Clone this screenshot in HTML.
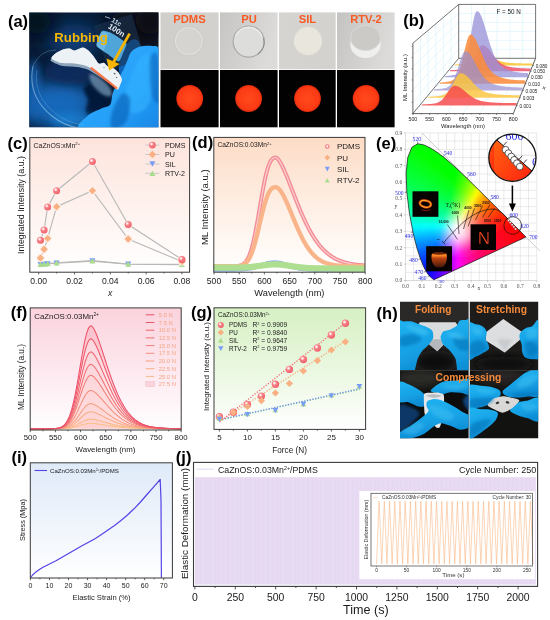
<!DOCTYPE html>
<html lang="en"><head><meta charset="utf-8"><title>Figure</title>
<style>
html,body{margin:0;padding:0;background:#fff;}
body{width:550px;height:620px;overflow:hidden;}
svg{display:block;font-family:"Liberation Sans",sans-serif;}
</style></head><body>
<svg width="550" height="620" viewBox="0 0 550 620">
<defs><linearGradient id="gc" x1="0" y1="0" x2="0" y2="1"><stop offset="0" stop-color="#fde3dc"/><stop offset="0.55" stop-color="#fef3ef"/><stop offset="1" stop-color="#ffffff"/></linearGradient><linearGradient id="gd" x1="0" y1="0" x2="0" y2="1"><stop offset="0" stop-color="#fddcc6"/><stop offset="0.55" stop-color="#fef0e6"/><stop offset="1" stop-color="#ffffff"/></linearGradient><linearGradient id="gf" x1="0" y1="0" x2="0" y2="1"><stop offset="0" stop-color="#fbd3dd"/><stop offset="0.55" stop-color="#fdeaf0"/><stop offset="1" stop-color="#ffffff"/></linearGradient><linearGradient id="gg" x1="0" y1="0" x2="0" y2="1"><stop offset="0" stop-color="#d6f0c3"/><stop offset="0.55" stop-color="#ecf8e3"/><stop offset="1" stop-color="#ffffff"/></linearGradient><linearGradient id="gi" x1="0" y1="0" x2="0" y2="1"><stop offset="0" stop-color="#dfeaf9"/><stop offset="0.55" stop-color="#f0f5fc"/><stop offset="1" stop-color="#ffffff"/></linearGradient><radialGradient id="sp" cx="0.37" cy="0.34" r="0.7"><stop offset="0" stop-color="#ffffff"/><stop offset="0.16" stop-color="#fde0e0"/><stop offset="0.38" stop-color="#f7838a"/><stop offset="1" stop-color="#f15c66"/></radialGradient><clipPath id="ca"><rect x="29.2" y="12.4" width="129.2" height="114.9"/></clipPath><filter id="b1" x="-10%" y="-10%" width="120%" height="120%"><feGaussianBlur stdDeviation="0.7"/></filter><filter id="b2" x="-20%" y="-20%" width="140%" height="140%"><feGaussianBlur stdDeviation="1.6"/></filter><filter id="b4" x="-30%" y="-30%" width="160%" height="160%"><feGaussianBlur stdDeviation="4"/></filter><filter id="b8" x="-40%" y="-40%" width="180%" height="180%"><feGaussianBlur stdDeviation="9"/></filter><linearGradient id="glv" x1="0" y1="0" x2="1" y2="1"><stop offset="0" stop-color="#36aeff"/><stop offset="0.6" stop-color="#249ff8"/><stop offset="1" stop-color="#1680e2"/></linearGradient><radialGradient id="redc" cx="0.5" cy="0.5" r="0.5"><stop offset="0" stop-color="#ff4a1c"/><stop offset="0.85" stop-color="#fb3a14"/><stop offset="1" stop-color="#e02a0c"/></radialGradient><linearGradient id="tg0" x1="0" y1="0" x2="1" y2="0.3"><stop offset="0" stop-color="#d0cecb"/><stop offset="1" stop-color="#d3d1ce"/></linearGradient><linearGradient id="tg1" x1="0" y1="0" x2="1" y2="0.3"><stop offset="0" stop-color="#c6c5c3"/><stop offset="1" stop-color="#dcdbd9"/></linearGradient><linearGradient id="tg2" x1="0" y1="0" x2="1" y2="0.3"><stop offset="0" stop-color="#d6d4d1"/><stop offset="1" stop-color="#d3d2cf"/></linearGradient><linearGradient id="tg3" x1="0" y1="0" x2="1" y2="0.3"><stop offset="0" stop-color="#c4c3c1"/><stop offset="1" stop-color="#dcdbd9"/></linearGradient><linearGradient id="hg" x1="0" y1="0" x2="0.3" y2="1"><stop offset="0" stop-color="#20b4f2"/><stop offset="0.6" stop-color="#16a2e6"/><stop offset="1" stop-color="#0e8cd4"/></linearGradient><clipPath id="ch0"><rect x="400" y="301.8" width="68.6" height="68.5"/></clipPath><clipPath id="ch1"><rect x="469.6" y="301.8" width="68.6" height="68.5"/></clipPath><clipPath id="ch2"><rect x="400" y="370.3" width="68.6" height="67.9"/></clipPath><clipPath id="ch3"><rect x="469.6" y="370.3" width="68.6" height="67.9"/></clipPath><clipPath id="c3d"><rect x="405" y="0" width="140" height="114"/></clipPath><clipPath id="cieclip"><path d="M434.05 279.68 L433.92 279.71 L433.61 279.66 L432.46 278.71 L431.18 277.6 L429.12 275.63 L425.85 271.02 L423.47 266.26 L420.47 258.74 L416.77 247.59 L412.95 232.12 L409.35 212.82 L406.84 192.2 L406.14 173.11 L407.78 157.47 L411.88 147.33 L417.69 143.76 L424.23 145 L430.87 148.33 L437.14 152.32 L443.15 156.79 L449.09 161.71 L454.96 166.96 L460.82 172.44 L466.69 178.08 L472.53 183.81 L478.33 189.53 L484.02 195.19 L489.55 200.7 L494.85 205.98 L499.83 210.93 L504.38 215.47 L508.33 219.41 L511.8 222.87 L514.69 225.72 L518.91 229.94 L521.6 232.61 L523.42 234.43 L524.56 235.56 L525.22 236.22 L525.78 236.78 L525.99 236.99Z"/></clipPath><filter id="cieblur" x="-5%" y="-5%" width="110%" height="110%"><feGaussianBlur stdDeviation="1.3"/></filter><clipPath id="magclip"><circle cx="512.4" cy="157.7" r="23.4"/></clipPath><radialGradient id="ringg" cx="0.5" cy="0.5" r="0.5"><stop offset="0" stop-color="#ff5a10" stop-opacity="0.0"/><stop offset="0.55" stop-color="#ff5a10" stop-opacity="0.0"/><stop offset="0.8" stop-color="#ffb030"/><stop offset="1" stop-color="#e03000" stop-opacity="0"/></radialGradient><linearGradient id="jarg" x1="0" y1="0" x2="0" y2="1"><stop offset="0" stop-color="#c8480c"/><stop offset="0.2" stop-color="#ff8c28"/><stop offset="0.4" stop-color="#b84210"/><stop offset="1" stop-color="#40160a"/></linearGradient><linearGradient id="magg" x1="0" y1="0" x2="1" y2="1"><stop offset="0" stop-color="#ff7a10"/><stop offset="1" stop-color="#ff1a10"/></linearGradient></defs>
<rect width="550" height="620" fill="#ffffff"/>
<g id="c"><rect x="29.8" y="137.6" width="159.8" height="134.6" fill="url(#gc)" />
<path d="M40.49 264.3 L44.07 264 L47.65 263.6 L56.6 262.8 L92.4 260.6 L128.2 264 L181.9 264.4" fill="none" stroke="#b8b8b8" stroke-width="1.1"/>
<path d="M40.49 264.6 L44.07 264.3 L47.65 263.9 L56.6 263.1 L92.4 261.2 L128.2 264.3 L181.9 264.6" fill="none" stroke="#b8b8b8" stroke-width="1.1"/>
<path d="M40.49 258 L44.07 249.3 L47.65 238.4 L56.6 206.7 L92.4 190.7 L128.2 239 L181.9 261.6" fill="none" stroke="#b8b8b8" stroke-width="1.1"/>
<path d="M40.49 240.2 L44.07 230 L47.65 207 L56.6 190.7 L92.4 161.6 L128.2 224.5 L181.9 259.5" fill="none" stroke="#b8b8b8" stroke-width="1.1"/>
<path d="M40.49 267.5 L43.53 261.9 L37.45 261.9Z" fill="#7b9cf5"/>
<path d="M44.07 267.2 L47.11 261.6 L41.03 261.6Z" fill="#7b9cf5"/>
<path d="M47.65 266.8 L50.69 261.2 L44.61 261.2Z" fill="#7b9cf5"/>
<path d="M56.6 266 L59.64 260.4 L53.56 260.4Z" fill="#7b9cf5"/>
<path d="M92.4 263.8 L95.44 258.2 L89.36 258.2Z" fill="#7b9cf5"/>
<path d="M128.2 267.2 L131.24 261.6 L125.16 261.6Z" fill="#7b9cf5"/>
<path d="M181.9 267.6 L184.94 262 L178.86 262Z" fill="#7b9cf5"/>
<path d="M40.49 261.4 L43.53 267 L37.45 267Z" fill="#a9dc8c"/>
<path d="M44.07 261.1 L47.11 266.7 L41.03 266.7Z" fill="#a9dc8c"/>
<path d="M47.65 260.7 L50.69 266.3 L44.61 266.3Z" fill="#a9dc8c"/>
<path d="M56.6 259.9 L59.64 265.5 L53.56 265.5Z" fill="#a9dc8c"/>
<path d="M92.4 258 L95.44 263.6 L89.36 263.6Z" fill="#a9dc8c"/>
<path d="M128.2 261.1 L131.24 266.7 L125.16 266.7Z" fill="#a9dc8c"/>
<path d="M181.9 261.4 L184.94 267 L178.86 267Z" fill="#a9dc8c"/>
<circle cx="40.49" cy="258" r="4.2" fill="#fef1ec"/>
<circle cx="44.07" cy="249.3" r="4.2" fill="#fef1ec"/>
<circle cx="47.65" cy="238.4" r="4.2" fill="#fef1ec"/>
<circle cx="56.6" cy="206.7" r="4.2" fill="#fef1ec"/>
<circle cx="92.4" cy="190.7" r="4.2" fill="#fef1ec"/>
<circle cx="128.2" cy="239" r="4.2" fill="#fef1ec"/>
<circle cx="181.9" cy="261.6" r="4.2" fill="#fef1ec"/>
<circle cx="40.49" cy="240.2" r="4.3" fill="#fef1ec"/>
<circle cx="44.07" cy="230" r="4.3" fill="#fef1ec"/>
<circle cx="47.65" cy="207" r="4.3" fill="#fef1ec"/>
<circle cx="56.6" cy="190.7" r="4.3" fill="#fef1ec"/>
<circle cx="92.4" cy="161.6" r="4.3" fill="#fef1ec"/>
<circle cx="128.2" cy="224.5" r="4.3" fill="#fef1ec"/>
<circle cx="181.9" cy="259.5" r="4.3" fill="#fef1ec"/>
<path d="M40.49 254.3 L44.19 258 L40.49 261.7 L36.79 258Z" fill="#f9b083"/>
<path d="M44.07 245.6 L47.77 249.3 L44.07 253 L40.37 249.3Z" fill="#f9b083"/>
<path d="M47.65 234.7 L51.35 238.4 L47.65 242.1 L43.95 238.4Z" fill="#f9b083"/>
<path d="M56.6 203 L60.3 206.7 L56.6 210.4 L52.9 206.7Z" fill="#f9b083"/>
<path d="M92.4 187 L96.1 190.7 L92.4 194.4 L88.7 190.7Z" fill="#f9b083"/>
<path d="M128.2 235.3 L131.9 239 L128.2 242.7 L124.5 239Z" fill="#f9b083"/>
<path d="M181.9 257.9 L185.6 261.6 L181.9 265.3 L178.2 261.6Z" fill="#f9b083"/>
<circle cx="40.49" cy="240.2" r="3.5" fill="url(#sp)"/>
<circle cx="44.07" cy="230" r="3.5" fill="url(#sp)"/>
<circle cx="47.65" cy="207" r="3.5" fill="url(#sp)"/>
<circle cx="56.6" cy="190.7" r="3.5" fill="url(#sp)"/>
<circle cx="92.4" cy="161.6" r="3.5" fill="url(#sp)"/>
<circle cx="128.2" cy="224.5" r="3.5" fill="url(#sp)"/>
<circle cx="181.9" cy="259.5" r="3.5" fill="url(#sp)"/>
<rect x="29.8" y="137.6" width="159.8" height="134.6" fill="none" stroke="#3a3a3a" stroke-width="1" />
<line x1="38.7" y1="272.2" x2="38.7" y2="274.4" stroke="#3a3a3a" stroke-width="0.8" />
<line x1="56.6" y1="272.2" x2="56.6" y2="273.5" stroke="#3a3a3a" stroke-width="0.8" />
<line x1="74.5" y1="272.2" x2="74.5" y2="274.4" stroke="#3a3a3a" stroke-width="0.8" />
<line x1="92.4" y1="272.2" x2="92.4" y2="273.5" stroke="#3a3a3a" stroke-width="0.8" />
<line x1="110.3" y1="272.2" x2="110.3" y2="274.4" stroke="#3a3a3a" stroke-width="0.8" />
<line x1="128.2" y1="272.2" x2="128.2" y2="273.5" stroke="#3a3a3a" stroke-width="0.8" />
<line x1="146.1" y1="272.2" x2="146.1" y2="274.4" stroke="#3a3a3a" stroke-width="0.8" />
<line x1="164" y1="272.2" x2="164" y2="273.5" stroke="#3a3a3a" stroke-width="0.8" />
<line x1="181.9" y1="272.2" x2="181.9" y2="274.4" stroke="#3a3a3a" stroke-width="0.8" />
<text x="38.7" y="284.3" font-size="8.6" fill="#1a1a1a" text-anchor="middle" >0.00</text>
<text x="74.5" y="284.3" font-size="8.6" fill="#1a1a1a" text-anchor="middle" >0.02</text>
<text x="110.3" y="284.3" font-size="8.6" fill="#1a1a1a" text-anchor="middle" >0.04</text>
<text x="146.1" y="284.3" font-size="8.6" fill="#1a1a1a" text-anchor="middle" >0.06</text>
<text x="181.9" y="284.3" font-size="8.6" fill="#1a1a1a" text-anchor="middle" >0.08</text>
<text x="110.2" y="295.8" font-size="8.6" fill="#1a1a1a" text-anchor="middle" font-style="italic" >x</text>
<text font-size="8.8" fill="#1a1a1a" text-anchor="middle" transform="translate(23.6 205) rotate(-90)" >Integrated Intensity (a.u.)</text>
<text x="33.6" y="147.8" font-size="6.9" fill="#1a1a1a" >CaZnOS:xMn<tspan dy="-2.4" font-size="4.2">2+</tspan><tspan dy="2.4" font-size="0.1">&#8203;</tspan></text>
<line x1="145.4" y1="145.1" x2="159.4" y2="145.1" stroke="#c4c4c4" stroke-width="0.9" />
<line x1="145.4" y1="154.5" x2="159.4" y2="154.5" stroke="#c4c4c4" stroke-width="0.9" />
<line x1="145.4" y1="164" x2="159.4" y2="164" stroke="#c4c4c4" stroke-width="0.9" />
<line x1="145.4" y1="173.3" x2="159.4" y2="173.3" stroke="#c4c4c4" stroke-width="0.9" />
<circle cx="152.4" cy="145.1" r="3.4" fill="url(#sp)"/>
<path d="M152.4 150.8 L156.1 154.5 L152.4 158.2 L148.7 154.5Z" fill="#f9b083"/>
<path d="M152.4 166.8 L155.44 161.2 L149.36 161.2Z" fill="#7b9cf5"/>
<path d="M152.4 170.5 L155.44 176.1 L149.36 176.1Z" fill="#a9dc8c"/>
<text x="165" y="147.7" font-size="7.1" fill="#1a1a1a" >PDMS</text>
<text x="165" y="157.1" font-size="7.1" fill="#1a1a1a" >PU</text>
<text x="165" y="166.6" font-size="7.1" fill="#1a1a1a" >SIL</text>
<text x="165" y="175.9" font-size="7.1" fill="#1a1a1a" >RTV-2</text>
<text x="7.5" y="148.8" font-size="16.5" fill="#000" font-weight="bold" >(c)</text></g>
<g id="d"><rect x="213.8" y="137.4" width="151.2" height="134.8" fill="url(#gd)" />
<clipPath id="cd"><rect x="213.8" y="137.4" width="151.2" height="134.8"/></clipPath>
<g clip-path="url(#cd)">
<path d="M214 266.2 L215.01 266.2 L216.02 266.2 L217.02 266.2 L218.03 266.2 L219.04 266.2 L220.05 266.2 L221.06 266.2 L222.06 266.2 L223.07 266.2 L224.08 266.2 L225.09 266.2 L226.1 266.2 L227.1 266.2 L228.11 266.2 L229.12 266.2 L230.13 266.19 L231.14 266.19 L232.14 266.18 L233.15 266.17 L234.16 266.15 L235.17 266.11 L236.18 266.06 L237.18 265.99 L238.19 265.88 L239.2 265.72 L240.21 265.49 L241.22 265.17 L242.22 264.74 L243.23 264.17 L244.24 263.41 L245.25 262.44 L246.26 261.2 L247.26 259.66 L248.27 257.77 L249.28 255.49 L250.29 252.8 L251.3 249.66 L252.3 246.06 L253.31 242.01 L254.32 237.51 L255.33 232.61 L256.34 227.34 L257.34 221.78 L258.35 215.99 L259.36 210.08 L260.37 204.12 L261.38 198.24 L262.38 192.51 L263.39 187.05 L264.4 181.92 L265.41 177.22 L266.42 172.99 L267.42 169.28 L268.43 166.12 L269.44 163.51 L270.45 161.43 L271.46 159.87 L272.46 158.77 L273.47 158.08 L274.48 157.72 L275.49 157.61 L276.5 157.78 L277.5 158.57 L278.51 159.74 L279.52 161.18 L280.53 162.84 L281.54 164.69 L282.54 166.7 L283.55 168.84 L284.56 171.09 L285.57 173.43 L286.58 175.85 L287.58 178.33 L288.59 180.86 L289.6 183.43 L290.61 186.02 L291.62 188.63 L292.62 191.24 L293.63 193.84 L294.64 196.44 L295.65 199.02 L296.66 201.57 L297.66 204.09 L298.67 206.57 L299.68 209.01 L300.69 211.41 L301.7 213.75 L302.7 216.05 L303.71 218.28 L304.72 220.46 L305.73 222.59 L306.74 224.65 L307.74 226.64 L308.75 228.58 L309.76 230.45 L310.77 232.25 L311.78 233.99 L312.78 235.67 L313.79 237.28 L314.8 238.83 L315.81 240.32 L316.82 241.75 L317.82 243.11 L318.83 244.42 L319.84 245.67 L320.85 246.86 L321.86 247.99 L322.86 249.07 L323.87 250.1 L324.88 251.08 L325.89 252.01 L326.9 252.89 L327.9 253.72 L328.91 254.51 L329.92 255.26 L330.93 255.97 L331.94 256.64 L332.94 257.27 L333.95 257.86 L334.96 258.42 L335.97 258.95 L336.98 259.44 L337.98 259.91 L338.99 260.35 L340 260.76 L341.01 261.14 L342.02 261.5 L343.02 261.84 L344.03 262.16 L345.04 262.45 L346.05 262.73 L347.06 262.99 L348.06 263.23 L349.07 263.45 L350.08 263.66 L351.09 263.85 L352.1 264.03 L353.1 264.2 L354.11 264.36 L355.12 264.5 L356.13 264.64 L357.14 264.76 L358.14 264.88 L359.15 264.98 L360.16 265.08 L361.17 265.17 L362.18 265.26 L363.18 265.34 L364.19 265.41 L365.2 265.47" fill="none" stroke="#f38c94" stroke-width="4" stroke-linejoin="round" stroke-linecap="round"/><path d="M214 266.2 L215.01 266.2 L216.02 266.2 L217.02 266.2 L218.03 266.2 L219.04 266.2 L220.05 266.2 L221.06 266.2 L222.06 266.2 L223.07 266.2 L224.08 266.2 L225.09 266.2 L226.1 266.2 L227.1 266.2 L228.11 266.2 L229.12 266.2 L230.13 266.19 L231.14 266.19 L232.14 266.18 L233.15 266.17 L234.16 266.15 L235.17 266.11 L236.18 266.06 L237.18 265.99 L238.19 265.88 L239.2 265.72 L240.21 265.49 L241.22 265.17 L242.22 264.74 L243.23 264.17 L244.24 263.41 L245.25 262.44 L246.26 261.2 L247.26 259.66 L248.27 257.77 L249.28 255.49 L250.29 252.8 L251.3 249.66 L252.3 246.06 L253.31 242.01 L254.32 237.51 L255.33 232.61 L256.34 227.34 L257.34 221.78 L258.35 215.99 L259.36 210.08 L260.37 204.12 L261.38 198.24 L262.38 192.51 L263.39 187.05 L264.4 181.92 L265.41 177.22 L266.42 172.99 L267.42 169.28 L268.43 166.12 L269.44 163.51 L270.45 161.43 L271.46 159.87 L272.46 158.77 L273.47 158.08 L274.48 157.72 L275.49 157.61 L276.5 157.78 L277.5 158.57 L278.51 159.74 L279.52 161.18 L280.53 162.84 L281.54 164.69 L282.54 166.7 L283.55 168.84 L284.56 171.09 L285.57 173.43 L286.58 175.85 L287.58 178.33 L288.59 180.86 L289.6 183.43 L290.61 186.02 L291.62 188.63 L292.62 191.24 L293.63 193.84 L294.64 196.44 L295.65 199.02 L296.66 201.57 L297.66 204.09 L298.67 206.57 L299.68 209.01 L300.69 211.41 L301.7 213.75 L302.7 216.05 L303.71 218.28 L304.72 220.46 L305.73 222.59 L306.74 224.65 L307.74 226.64 L308.75 228.58 L309.76 230.45 L310.77 232.25 L311.78 233.99 L312.78 235.67 L313.79 237.28 L314.8 238.83 L315.81 240.32 L316.82 241.75 L317.82 243.11 L318.83 244.42 L319.84 245.67 L320.85 246.86 L321.86 247.99 L322.86 249.07 L323.87 250.1 L324.88 251.08 L325.89 252.01 L326.9 252.89 L327.9 253.72 L328.91 254.51 L329.92 255.26 L330.93 255.97 L331.94 256.64 L332.94 257.27 L333.95 257.86 L334.96 258.42 L335.97 258.95 L336.98 259.44 L337.98 259.91 L338.99 260.35 L340 260.76 L341.01 261.14 L342.02 261.5 L343.02 261.84 L344.03 262.16 L345.04 262.45 L346.05 262.73 L347.06 262.99 L348.06 263.23 L349.07 263.45 L350.08 263.66 L351.09 263.85 L352.1 264.03 L353.1 264.2 L354.11 264.36 L355.12 264.5 L356.13 264.64 L357.14 264.76 L358.14 264.88 L359.15 264.98 L360.16 265.08 L361.17 265.17 L362.18 265.26 L363.18 265.34 L364.19 265.41 L365.2 265.47" fill="none" stroke="#ffffff" stroke-width="1.3" stroke-linejoin="round" stroke-opacity="0.55"/>
<path d="M214 266.2 L215.01 266.2 L216.02 266.2 L217.02 266.2 L218.03 266.2 L219.04 266.2 L220.05 266.2 L221.06 266.2 L222.06 266.2 L223.07 266.2 L224.08 266.2 L225.09 266.2 L226.1 266.2 L227.1 266.2 L228.11 266.2 L229.12 266.2 L230.13 266.2 L231.14 266.19 L232.14 266.19 L233.15 266.18 L234.16 266.16 L235.17 266.14 L236.18 266.1 L237.18 266.04 L238.19 265.96 L239.2 265.85 L240.21 265.68 L241.22 265.45 L242.22 265.14 L243.23 264.72 L244.24 264.17 L245.25 263.46 L246.26 262.56 L247.26 261.44 L248.27 260.07 L249.28 258.41 L250.29 256.45 L251.3 254.17 L252.3 251.55 L253.31 248.6 L254.32 245.33 L255.33 241.76 L256.34 237.93 L257.34 233.88 L258.35 229.68 L259.36 225.37 L260.37 221.04 L261.38 216.76 L262.38 212.6 L263.39 208.62 L264.4 204.89 L265.41 201.47 L266.42 198.4 L267.42 195.7 L268.43 193.4 L269.44 191.5 L270.45 189.99 L271.46 188.85 L272.46 188.05 L273.47 187.55 L274.48 187.29 L275.49 187.2 L276.5 187.28 L277.5 187.74 L278.51 188.51 L279.52 189.55 L280.53 190.83 L281.54 192.32 L282.54 193.99 L283.55 195.83 L284.56 197.8 L285.57 199.9 L286.58 202.1 L287.58 204.39 L288.59 206.74 L289.6 209.14 L290.61 211.58 L291.62 214.03 L292.62 216.49 L293.63 218.94 L294.64 221.37 L295.65 223.77 L296.66 226.13 L297.66 228.43 L298.67 230.69 L299.68 232.87 L300.69 234.99 L301.7 237.04 L302.7 239 L303.71 240.89 L304.72 242.69 L305.73 244.41 L306.74 246.04 L307.74 247.59 L308.75 249.05 L309.76 250.42 L310.77 251.72 L311.78 252.93 L312.78 254.07 L313.79 255.12 L314.8 256.11 L315.81 257.02 L316.82 257.87 L317.82 258.65 L318.83 259.37 L319.84 260.04 L320.85 260.65 L321.86 261.21 L322.86 261.72 L323.87 262.18 L324.88 262.6 L325.89 262.99 L326.9 263.34 L327.9 263.65 L328.91 263.94 L329.92 264.19 L330.93 264.42 L331.94 264.63 L332.94 264.81 L333.95 264.98 L334.96 265.13 L335.97 265.26 L336.98 265.37 L337.98 265.48 L338.99 265.57 L340 265.65 L341.01 265.72 L342.02 265.78 L343.02 265.84 L344.03 265.89 L345.04 265.93 L346.05 265.97 L347.06 266 L348.06 266.03 L349.07 266.05 L350.08 266.07 L351.09 266.09 L352.1 266.11 L353.1 266.12 L354.11 266.13 L355.12 266.14 L356.13 266.15 L357.14 266.16 L358.14 266.16 L359.15 266.17 L360.16 266.17 L361.17 266.18 L362.18 266.18 L363.18 266.18 L364.19 266.19 L365.2 266.19" fill="none" stroke="#f9b48a" stroke-width="4.3" stroke-linejoin="round" stroke-linecap="round"/>
<path d="M214 269.4 L215.01 269.4 L216.02 269.4 L217.02 269.4 L218.03 269.4 L219.04 269.4 L220.05 269.4 L221.06 269.4 L222.06 269.4 L223.07 269.4 L224.08 269.4 L225.09 269.4 L226.1 269.39 L227.1 269.39 L228.11 269.39 L229.12 269.39 L230.13 269.38 L231.14 269.38 L232.14 269.37 L233.15 269.36 L234.16 269.35 L235.17 269.34 L236.18 269.32 L237.18 269.3 L238.19 269.28 L239.2 269.24 L240.21 269.21 L241.22 269.16 L242.22 269.11 L243.23 269.05 L244.24 268.98 L245.25 268.89 L246.26 268.8 L247.26 268.68 L248.27 268.56 L249.28 268.41 L250.29 268.25 L251.3 268.07 L252.3 267.87 L253.31 267.66 L254.32 267.42 L255.33 267.17 L256.34 266.9 L257.34 266.61 L258.35 266.31 L259.36 266 L260.37 265.69 L261.38 265.36 L262.38 265.04 L263.39 264.72 L264.4 264.41 L265.41 264.1 L266.42 263.82 L267.42 263.55 L268.43 263.32 L269.44 263.1 L270.45 262.93 L271.46 262.79 L272.46 262.68 L273.47 262.62 L274.48 262.6 L275.49 262.62 L276.5 262.68 L277.5 262.79 L278.51 262.93 L279.52 263.1 L280.53 263.32 L281.54 263.55 L282.54 263.82 L283.55 264.1 L284.56 264.41 L285.57 264.72 L286.58 265.04 L287.58 265.36 L288.59 265.69 L289.6 266 L290.61 266.31 L291.62 266.61 L292.62 266.9 L293.63 267.17 L294.64 267.42 L295.65 267.66 L296.66 267.87 L297.66 268.07 L298.67 268.25 L299.68 268.41 L300.69 268.56 L301.7 268.68 L302.7 268.8 L303.71 268.89 L304.72 268.98 L305.73 269.05 L306.74 269.11 L307.74 269.16 L308.75 269.21 L309.76 269.24 L310.77 269.28 L311.78 269.3 L312.78 269.32 L313.79 269.34 L314.8 269.35 L315.81 269.36 L316.82 269.37 L317.82 269.38 L318.83 269.38 L319.84 269.39 L320.85 269.39 L321.86 269.39 L322.86 269.39 L323.87 269.4 L324.88 269.4 L325.89 269.4 L326.9 269.4 L327.9 269.4 L328.91 269.4 L329.92 269.4 L330.93 269.4 L331.94 269.4 L332.94 269.4 L333.95 269.4 L334.96 269.4 L335.97 269.4 L336.98 269.4 L337.98 269.4 L338.99 269.4 L340 269.4 L341.01 269.4 L342.02 269.4 L343.02 269.4 L344.03 269.4 L345.04 269.4 L346.05 269.4 L347.06 269.4 L348.06 269.4 L349.07 269.4 L350.08 269.4 L351.09 269.4 L352.1 269.4 L353.1 269.4 L354.11 269.4 L355.12 269.4 L356.13 269.4 L357.14 269.4 L358.14 269.4 L359.15 269.4 L360.16 269.4 L361.17 269.4 L362.18 269.4 L363.18 269.4 L364.19 269.4 L365.2 269.4" fill="none" stroke="#8fb0f0" stroke-width="4.6" stroke-linejoin="round" stroke-linecap="round"/>
<path d="M214 267.6 L215.01 267.61 L216.02 267.61 L217.02 267.62 L218.03 267.63 L219.04 267.64 L220.05 267.64 L221.06 267.65 L222.06 267.66 L223.07 267.66 L224.08 267.67 L225.09 267.68 L226.1 267.68 L227.1 267.68 L228.11 267.69 L229.12 267.69 L230.13 267.69 L231.14 267.69 L232.14 267.69 L233.15 267.68 L234.16 267.68 L235.17 267.67 L236.18 267.66 L237.18 267.64 L238.19 267.63 L239.2 267.6 L240.21 267.58 L241.22 267.55 L242.22 267.51 L243.23 267.47 L244.24 267.42 L245.25 267.37 L246.26 267.31 L247.26 267.24 L248.27 267.16 L249.28 267.08 L250.29 266.99 L251.3 266.89 L252.3 266.79 L253.31 266.68 L254.32 266.56 L255.33 266.43 L256.34 266.3 L257.34 266.17 L258.35 266.03 L259.36 265.89 L260.37 265.75 L261.38 265.6 L262.38 265.46 L263.39 265.32 L264.4 265.19 L265.41 265.06 L266.42 264.94 L267.42 264.82 L268.43 264.72 L269.44 264.63 L270.45 264.55 L271.46 264.49 L272.46 264.44 L273.47 264.41 L274.48 264.39 L275.49 264.39 L276.5 264.4 L277.5 264.44 L278.51 264.49 L279.52 264.55 L280.53 264.63 L281.54 264.73 L282.54 264.83 L283.55 264.95 L284.56 265.08 L285.57 265.22 L286.58 265.36 L287.58 265.51 L288.59 265.67 L289.6 265.83 L290.61 265.99 L291.62 266.15 L292.62 266.3 L293.63 266.46 L294.64 266.61 L295.65 266.75 L296.66 266.89 L297.66 267.03 L298.67 267.16 L299.68 267.28 L300.69 267.39 L301.7 267.5 L302.7 267.6 L303.71 267.69 L304.72 267.77 L305.73 267.85 L306.74 267.92 L307.74 267.98 L308.75 268.04 L309.76 268.09 L310.77 268.14 L311.78 268.18 L312.78 268.22 L313.79 268.25 L314.8 268.28 L315.81 268.31 L316.82 268.33 L317.82 268.36 L318.83 268.38 L319.84 268.39 L320.85 268.41 L321.86 268.43 L322.86 268.44 L323.87 268.45 L324.88 268.46 L325.89 268.48 L326.9 268.49 L327.9 268.5 L328.91 268.51 L329.92 268.52 L330.93 268.52 L331.94 268.53 L332.94 268.54 L333.95 268.55 L334.96 268.56 L335.97 268.57 L336.98 268.58 L337.98 268.58 L338.99 268.59 L340 268.6 L341.01 268.61 L342.02 268.62 L343.02 268.62 L344.03 268.63 L345.04 268.64 L346.05 268.65 L347.06 268.66 L348.06 268.66 L349.07 268.67 L350.08 268.68 L351.09 268.69 L352.1 268.7 L353.1 268.7 L354.11 268.71 L355.12 268.72 L356.13 268.73 L357.14 268.74 L358.14 268.74 L359.15 268.75 L360.16 268.76 L361.17 268.77 L362.18 268.78 L363.18 268.78 L364.19 268.79 L365.2 268.8" fill="none" stroke="#aede8f" stroke-width="6.2" stroke-linejoin="round" stroke-linecap="round"/>
</g>
<rect x="213.8" y="137.4" width="151.2" height="134.8" fill="none" stroke="#3a3a3a" stroke-width="1" />
<line x1="214" y1="272.2" x2="214" y2="274.4" stroke="#3a3a3a" stroke-width="0.8" />
<line x1="226.6" y1="272.2" x2="226.6" y2="273.5" stroke="#3a3a3a" stroke-width="0.8" />
<line x1="239.2" y1="272.2" x2="239.2" y2="274.4" stroke="#3a3a3a" stroke-width="0.8" />
<line x1="251.8" y1="272.2" x2="251.8" y2="273.5" stroke="#3a3a3a" stroke-width="0.8" />
<line x1="264.4" y1="272.2" x2="264.4" y2="274.4" stroke="#3a3a3a" stroke-width="0.8" />
<line x1="277" y1="272.2" x2="277" y2="273.5" stroke="#3a3a3a" stroke-width="0.8" />
<line x1="289.6" y1="272.2" x2="289.6" y2="274.4" stroke="#3a3a3a" stroke-width="0.8" />
<line x1="302.2" y1="272.2" x2="302.2" y2="273.5" stroke="#3a3a3a" stroke-width="0.8" />
<line x1="314.8" y1="272.2" x2="314.8" y2="274.4" stroke="#3a3a3a" stroke-width="0.8" />
<line x1="327.4" y1="272.2" x2="327.4" y2="273.5" stroke="#3a3a3a" stroke-width="0.8" />
<line x1="340" y1="272.2" x2="340" y2="274.4" stroke="#3a3a3a" stroke-width="0.8" />
<line x1="352.6" y1="272.2" x2="352.6" y2="273.5" stroke="#3a3a3a" stroke-width="0.8" />
<line x1="365.2" y1="272.2" x2="365.2" y2="274.4" stroke="#3a3a3a" stroke-width="0.8" />
<text x="214" y="284.4" font-size="8.6" fill="#1a1a1a" text-anchor="middle" >500</text>
<text x="239.2" y="284.4" font-size="8.6" fill="#1a1a1a" text-anchor="middle" >550</text>
<text x="264.4" y="284.4" font-size="8.6" fill="#1a1a1a" text-anchor="middle" >600</text>
<text x="289.6" y="284.4" font-size="8.6" fill="#1a1a1a" text-anchor="middle" >650</text>
<text x="314.8" y="284.4" font-size="8.6" fill="#1a1a1a" text-anchor="middle" >700</text>
<text x="340" y="284.4" font-size="8.6" fill="#1a1a1a" text-anchor="middle" >750</text>
<text x="365.2" y="284.4" font-size="8.6" fill="#1a1a1a" text-anchor="middle" >800</text>
<text x="289.4" y="295.8" font-size="9.25" fill="#1a1a1a" text-anchor="middle" >Wavelength (nm)</text>
<text font-size="9.5" fill="#1a1a1a" text-anchor="middle" transform="translate(208 207.2) rotate(-90)" >ML Intensity (a.u.)</text>
<text x="217.4" y="146.9" font-size="6.6" fill="#1a1a1a" >CaZnOS:0.03Mn<tspan dy="-2.4" font-size="4.2">2+</tspan><tspan dy="2.4" font-size="0.1">&#8203;</tspan></text>
<circle cx="327.3" cy="146.4" r="1.7" fill="#fff" stroke="#f4777f" stroke-width="1.1"/>
<path d="M327.3 154.8 L330.1 157.6 L327.3 160.4 L324.5 157.6Z" fill="#f9b083"/>
<path d="M327.3 171.4 L329.77 166.85 L324.83 166.85Z" fill="#7b9cf5"/>
<path d="M327.3 178 L329.77 182.55 L324.83 182.55Z" fill="#a9dc8c"/>
<text x="337" y="149.3" font-size="8" fill="#1a1a1a" >PDMS</text>
<text x="337" y="160.6" font-size="8" fill="#1a1a1a" >PU</text>
<text x="337" y="172" font-size="8" fill="#1a1a1a" >SIL</text>
<text x="337" y="183.3" font-size="8" fill="#1a1a1a" >RTV-2</text>
<text x="192.1" y="148.4" font-size="16.5" fill="#000" font-weight="bold" >(d)</text></g>
<g id="f"><rect x="30.2" y="307.9" width="151" height="122.1" fill="url(#gf)" />
<clipPath id="cf"><rect x="30.2" y="307.9" width="151" height="122.1"/></clipPath>
<g clip-path="url(#cf)">
<path d="M30.3 428.7 L31.31 428.7 L32.31 428.7 L33.32 428.7 L34.32 428.7 L35.33 428.7 L36.33 428.7 L37.34 428.7 L38.34 428.7 L39.35 428.7 L40.35 428.7 L41.36 428.7 L42.36 428.7 L43.37 428.7 L44.38 428.7 L45.38 428.7 L46.39 428.69 L47.39 428.69 L48.4 428.68 L49.4 428.67 L50.41 428.66 L51.41 428.64 L52.42 428.61 L53.42 428.57 L54.43 428.52 L55.44 428.44 L56.44 428.33 L57.45 428.18 L58.45 427.98 L59.46 427.72 L60.46 427.37 L61.47 426.91 L62.47 426.33 L63.48 425.58 L64.48 424.65 L65.49 423.5 L66.49 422.08 L67.5 420.37 L68.51 418.33 L69.51 415.92 L70.52 413.11 L71.52 409.88 L72.53 406.22 L73.53 402.12 L74.54 397.59 L75.54 392.66 L76.55 387.36 L77.55 381.76 L78.56 375.93 L79.56 369.95 L80.57 363.94 L81.58 358 L82.58 352.25 L83.59 346.81 L84.59 341.81 L85.6 337.35 L86.6 333.53 L87.61 330.44 L88.61 328.11 L89.62 326.6 L90.62 325.88 L91.63 326.02 L92.63 327.04 L93.64 328.54 L94.65 330.41 L95.65 332.56 L96.66 334.95 L97.66 337.53 L98.67 340.27 L99.67 343.13 L100.68 346.09 L101.68 349.12 L102.69 352.2 L103.69 355.3 L104.7 358.42 L105.7 361.53 L106.71 364.62 L107.72 367.67 L108.72 370.68 L109.73 373.64 L110.73 376.52 L111.74 379.34 L112.74 382.08 L113.75 384.73 L114.75 387.29 L115.76 389.76 L116.76 392.14 L117.77 394.42 L118.78 396.61 L119.78 398.69 L120.79 400.68 L121.79 402.57 L122.8 404.37 L123.8 406.07 L124.81 407.68 L125.81 409.2 L126.82 410.63 L127.82 411.98 L128.83 413.25 L129.83 414.43 L130.84 415.55 L131.85 416.59 L132.85 417.56 L133.86 418.46 L134.86 419.3 L135.87 420.09 L136.87 420.81 L137.88 421.49 L138.88 422.11 L139.89 422.68 L140.89 423.22 L141.9 423.7 L142.9 424.16 L143.91 424.57 L144.92 424.95 L145.92 425.3 L146.93 425.62 L147.93 425.91 L148.94 426.18 L149.94 426.42 L150.95 426.65 L151.95 426.85 L152.96 427.03 L153.96 427.2 L154.97 427.35 L155.98 427.49 L156.98 427.61 L157.99 427.73 L158.99 427.83 L160 427.92 L161 428 L162.01 428.08 L163.01 428.14 L164.02 428.21 L165.02 428.26 L166.03 428.31 L167.03 428.35 L168.04 428.39 L169.05 428.43 L170.05 428.46 L171.06 428.48 L172.06 428.51 L173.07 428.53 L174.07 428.55 L175.08 428.57 L176.08 428.58 L177.09 428.6 L178.09 428.61 L179.1 428.62 L180.1 428.63 L181.11 428.64L181.11 428.7 L30.3 428.7Z" fill="#f4788c" fill-opacity="0.04" stroke="none"/>
<path d="M30.3 428.7 L31.31 428.7 L32.31 428.7 L33.32 428.7 L34.32 428.7 L35.33 428.7 L36.33 428.7 L37.34 428.7 L38.34 428.7 L39.35 428.7 L40.35 428.7 L41.36 428.7 L42.36 428.7 L43.37 428.7 L44.38 428.7 L45.38 428.7 L46.39 428.69 L47.39 428.69 L48.4 428.69 L49.4 428.68 L50.41 428.67 L51.41 428.65 L52.42 428.63 L53.42 428.59 L54.43 428.54 L55.44 428.47 L56.44 428.38 L57.45 428.25 L58.45 428.07 L59.46 427.84 L60.46 427.54 L61.47 427.14 L62.47 426.63 L63.48 425.98 L64.48 425.16 L65.49 424.15 L66.49 422.92 L67.5 421.42 L68.51 419.64 L69.51 417.53 L70.52 415.08 L71.52 412.26 L72.53 409.06 L73.53 405.48 L74.54 401.52 L75.54 397.21 L76.55 392.59 L77.55 387.69 L78.56 382.6 L79.56 377.38 L80.57 372.12 L81.58 366.93 L82.58 361.91 L83.59 357.16 L84.59 352.79 L85.6 348.89 L86.6 345.56 L87.61 342.85 L88.61 340.82 L89.62 339.5 L90.62 338.87 L91.63 338.99 L92.63 339.88 L93.64 341.19 L94.65 342.82 L95.65 344.71 L96.66 346.79 L97.66 349.05 L98.67 351.44 L99.67 353.94 L100.68 356.52 L101.68 359.17 L102.69 361.86 L103.69 364.58 L104.7 367.3 L105.7 370.02 L106.71 372.71 L107.72 375.38 L108.72 378.01 L109.73 380.59 L110.73 383.12 L111.74 385.58 L112.74 387.97 L113.75 390.28 L114.75 392.52 L115.76 394.68 L116.76 396.76 L117.77 398.75 L118.78 400.66 L119.78 402.48 L120.79 404.22 L121.79 405.87 L122.8 407.44 L123.8 408.93 L124.81 410.34 L125.81 411.66 L126.82 412.91 L127.82 414.09 L128.83 415.2 L129.83 416.24 L130.84 417.21 L131.85 418.12 L132.85 418.97 L133.86 419.76 L134.86 420.49 L135.87 421.17 L136.87 421.81 L137.88 422.4 L138.88 422.94 L139.89 423.44 L140.89 423.91 L141.9 424.34 L142.9 424.73 L143.91 425.09 L144.92 425.42 L145.92 425.73 L146.93 426.01 L147.93 426.26 L148.94 426.5 L149.94 426.71 L150.95 426.91 L151.95 427.08 L152.96 427.24 L153.96 427.39 L154.97 427.52 L155.98 427.64 L156.98 427.75 L157.99 427.85 L158.99 427.94 L160 428.02 L161 428.09 L162.01 428.16 L163.01 428.21 L164.02 428.27 L165.02 428.32 L166.03 428.36 L167.03 428.4 L168.04 428.43 L169.05 428.46 L170.05 428.49 L171.06 428.51 L172.06 428.53 L173.07 428.55 L174.07 428.57 L175.08 428.59 L176.08 428.6 L177.09 428.61 L178.09 428.62 L179.1 428.63 L180.1 428.64 L181.11 428.65L181.11 428.7 L30.3 428.7Z" fill="#f4788c" fill-opacity="0.04" stroke="none"/>
<path d="M30.3 428.7 L31.31 428.7 L32.31 428.7 L33.32 428.7 L34.32 428.7 L35.33 428.7 L36.33 428.7 L37.34 428.7 L38.34 428.7 L39.35 428.7 L40.35 428.7 L41.36 428.7 L42.36 428.7 L43.37 428.7 L44.38 428.7 L45.38 428.7 L46.39 428.69 L47.39 428.69 L48.4 428.69 L49.4 428.68 L50.41 428.67 L51.41 428.66 L52.42 428.64 L53.42 428.61 L54.43 428.56 L55.44 428.51 L56.44 428.42 L57.45 428.31 L58.45 428.17 L59.46 427.97 L60.46 427.71 L61.47 427.37 L62.47 426.93 L63.48 426.37 L64.48 425.68 L65.49 424.82 L66.49 423.76 L67.5 422.48 L68.51 420.96 L69.51 419.16 L70.52 417.07 L71.52 414.66 L72.53 411.92 L73.53 408.86 L74.54 405.48 L75.54 401.8 L76.55 397.85 L77.55 393.67 L78.56 389.31 L79.56 384.85 L80.57 380.37 L81.58 375.93 L82.58 371.64 L83.59 367.58 L84.59 363.85 L85.6 360.52 L86.6 357.67 L87.61 355.36 L88.61 353.63 L89.62 352.5 L90.62 351.96 L91.63 352.07 L92.63 352.82 L93.64 353.95 L94.65 355.34 L95.65 356.94 L96.66 358.73 L97.66 360.65 L98.67 362.7 L99.67 364.83 L100.68 367.04 L101.68 369.3 L102.69 371.6 L103.69 373.92 L104.7 376.25 L105.7 378.57 L106.71 380.87 L107.72 383.15 L108.72 385.4 L109.73 387.6 L110.73 389.76 L111.74 391.86 L112.74 393.9 L113.75 395.88 L114.75 397.79 L115.76 399.64 L116.76 401.41 L117.77 403.12 L118.78 404.75 L119.78 406.3 L120.79 407.79 L121.79 409.2 L122.8 410.54 L123.8 411.81 L124.81 413.01 L125.81 414.15 L126.82 415.22 L127.82 416.22 L128.83 417.17 L129.83 418.05 L130.84 418.88 L131.85 419.66 L132.85 420.38 L133.86 421.06 L134.86 421.69 L135.87 422.27 L136.87 422.81 L137.88 423.32 L138.88 423.78 L139.89 424.21 L140.89 424.61 L141.9 424.97 L142.9 425.31 L143.91 425.62 L144.92 425.9 L145.92 426.16 L146.93 426.4 L147.93 426.62 L148.94 426.82 L149.94 427 L150.95 427.17 L151.95 427.32 L152.96 427.46 L153.96 427.58 L154.97 427.69 L155.98 427.8 L156.98 427.89 L157.99 427.97 L158.99 428.05 L160 428.12 L161 428.18 L162.01 428.24 L163.01 428.29 L164.02 428.33 L165.02 428.37 L166.03 428.41 L167.03 428.44 L168.04 428.47 L169.05 428.5 L170.05 428.52 L171.06 428.54 L172.06 428.56 L173.07 428.57 L174.07 428.59 L175.08 428.6 L176.08 428.61 L177.09 428.62 L178.09 428.63 L179.1 428.64 L180.1 428.65 L181.11 428.65L181.11 428.7 L30.3 428.7Z" fill="#f4788c" fill-opacity="0.04" stroke="none"/>
<path d="M30.3 428.7 L31.31 428.7 L32.31 428.7 L33.32 428.7 L34.32 428.7 L35.33 428.7 L36.33 428.7 L37.34 428.7 L38.34 428.7 L39.35 428.7 L40.35 428.7 L41.36 428.7 L42.36 428.7 L43.37 428.7 L44.38 428.7 L45.38 428.7 L46.39 428.7 L47.39 428.69 L48.4 428.69 L49.4 428.68 L50.41 428.68 L51.41 428.66 L52.42 428.65 L53.42 428.62 L54.43 428.59 L55.44 428.54 L56.44 428.47 L57.45 428.38 L58.45 428.25 L59.46 428.09 L60.46 427.87 L61.47 427.58 L62.47 427.22 L63.48 426.75 L64.48 426.17 L65.49 425.44 L66.49 424.56 L67.5 423.49 L68.51 422.21 L69.51 420.7 L70.52 418.94 L71.52 416.92 L72.53 414.63 L73.53 412.07 L74.54 409.23 L75.54 406.14 L76.55 402.83 L77.55 399.32 L78.56 395.67 L79.56 391.93 L80.57 388.17 L81.58 384.45 L82.58 380.85 L83.59 377.45 L84.59 374.32 L85.6 371.53 L86.6 369.14 L87.61 367.2 L88.61 365.75 L89.62 364.8 L90.62 364.35 L91.63 364.44 L92.63 365.08 L93.64 366.02 L94.65 367.18 L95.65 368.53 L96.66 370.03 L97.66 371.64 L98.67 373.35 L99.67 375.15 L100.68 377 L101.68 378.89 L102.69 380.82 L103.69 382.76 L104.7 384.71 L105.7 386.66 L106.71 388.59 L107.72 390.51 L108.72 392.39 L109.73 394.24 L110.73 396.05 L111.74 397.81 L112.74 399.52 L113.75 401.18 L114.75 402.78 L115.76 404.33 L116.76 405.82 L117.77 407.25 L118.78 408.61 L119.78 409.92 L120.79 411.16 L121.79 412.35 L122.8 413.47 L123.8 414.54 L124.81 415.54 L125.81 416.5 L126.82 417.39 L127.82 418.24 L128.83 419.03 L129.83 419.77 L130.84 420.47 L131.85 421.12 L132.85 421.73 L133.86 422.29 L134.86 422.82 L135.87 423.31 L136.87 423.76 L137.88 424.18 L138.88 424.57 L139.89 424.93 L140.89 425.27 L141.9 425.57 L142.9 425.86 L143.91 426.12 L144.92 426.35 L145.92 426.57 L146.93 426.77 L147.93 426.96 L148.94 427.12 L149.94 427.28 L150.95 427.41 L151.95 427.54 L152.96 427.66 L153.96 427.76 L154.97 427.86 L155.98 427.94 L156.98 428.02 L157.99 428.09 L158.99 428.15 L160 428.21 L161 428.26 L162.01 428.31 L163.01 428.35 L164.02 428.39 L165.02 428.42 L166.03 428.45 L167.03 428.48 L168.04 428.51 L169.05 428.53 L170.05 428.55 L171.06 428.57 L172.06 428.58 L173.07 428.59 L174.07 428.61 L175.08 428.62 L176.08 428.63 L177.09 428.64 L178.09 428.64 L179.1 428.65 L180.1 428.66 L181.11 428.66L181.11 428.7 L30.3 428.7Z" fill="#f4788c" fill-opacity="0.04" stroke="none"/>
<path d="M30.3 428.7 L31.31 428.7 L32.31 428.7 L33.32 428.7 L34.32 428.7 L35.33 428.7 L36.33 428.7 L37.34 428.7 L38.34 428.7 L39.35 428.7 L40.35 428.7 L41.36 428.7 L42.36 428.7 L43.37 428.7 L44.38 428.7 L45.38 428.7 L46.39 428.7 L47.39 428.69 L48.4 428.69 L49.4 428.69 L50.41 428.68 L51.41 428.67 L52.42 428.66 L53.42 428.63 L54.43 428.61 L55.44 428.56 L56.44 428.51 L57.45 428.43 L58.45 428.33 L59.46 428.19 L60.46 428.01 L61.47 427.77 L62.47 427.47 L63.48 427.08 L64.48 426.6 L65.49 426 L66.49 425.27 L67.5 424.38 L68.51 423.32 L69.51 422.07 L70.52 420.61 L71.52 418.94 L72.53 417.04 L73.53 414.91 L74.54 412.56 L75.54 410 L76.55 407.25 L77.55 404.34 L78.56 401.31 L79.56 398.21 L80.57 395.09 L81.58 392.01 L82.58 389.03 L83.59 386.21 L84.59 383.61 L85.6 381.3 L86.6 379.31 L87.61 377.71 L88.61 376.5 L89.62 375.71 L90.62 375.34 L91.63 375.42 L92.63 375.94 L93.64 376.72 L94.65 377.69 L95.65 378.81 L96.66 380.05 L97.66 381.39 L98.67 382.81 L99.67 384.29 L100.68 385.83 L101.68 387.4 L102.69 389 L103.69 390.61 L104.7 392.23 L105.7 393.84 L106.71 395.45 L107.72 397.03 L108.72 398.59 L109.73 400.12 L110.73 401.62 L111.74 403.08 L112.74 404.5 L113.75 405.88 L114.75 407.21 L115.76 408.49 L116.76 409.73 L117.77 410.91 L118.78 412.04 L119.78 413.13 L120.79 414.16 L121.79 415.14 L122.8 416.07 L123.8 416.96 L124.81 417.79 L125.81 418.58 L126.82 419.32 L127.82 420.02 L128.83 420.68 L129.83 421.3 L130.84 421.87 L131.85 422.41 L132.85 422.92 L133.86 423.39 L134.86 423.82 L135.87 424.23 L136.87 424.61 L137.88 424.96 L138.88 425.28 L139.89 425.58 L140.89 425.85 L141.9 426.11 L142.9 426.34 L143.91 426.56 L144.92 426.75 L145.92 426.94 L146.93 427.1 L147.93 427.25 L148.94 427.39 L149.94 427.52 L150.95 427.63 L151.95 427.74 L152.96 427.83 L153.96 427.92 L154.97 428 L155.98 428.07 L156.98 428.14 L157.99 428.19 L158.99 428.25 L160 428.3 L161 428.34 L162.01 428.38 L163.01 428.41 L164.02 428.44 L165.02 428.47 L166.03 428.5 L167.03 428.52 L168.04 428.54 L169.05 428.56 L170.05 428.57 L171.06 428.59 L172.06 428.6 L173.07 428.61 L174.07 428.62 L175.08 428.63 L176.08 428.64 L177.09 428.65 L178.09 428.65 L179.1 428.66 L180.1 428.66 L181.11 428.67L181.11 428.7 L30.3 428.7Z" fill="#f4788c" fill-opacity="0.04" stroke="none"/>
<path d="M30.3 428.7 L31.31 428.7 L32.31 428.7 L33.32 428.7 L34.32 428.7 L35.33 428.7 L36.33 428.7 L37.34 428.7 L38.34 428.7 L39.35 428.7 L40.35 428.7 L41.36 428.7 L42.36 428.7 L43.37 428.7 L44.38 428.7 L45.38 428.7 L46.39 428.7 L47.39 428.7 L48.4 428.69 L49.4 428.69 L50.41 428.69 L51.41 428.68 L52.42 428.67 L53.42 428.65 L54.43 428.63 L55.44 428.6 L56.44 428.56 L57.45 428.51 L58.45 428.43 L59.46 428.33 L60.46 428.2 L61.47 428.03 L62.47 427.82 L63.48 427.54 L64.48 427.19 L65.49 426.76 L66.49 426.24 L67.5 425.6 L68.51 424.84 L69.51 423.94 L70.52 422.9 L71.52 421.7 L72.53 420.33 L73.53 418.81 L74.54 417.12 L75.54 415.29 L76.55 413.31 L77.55 411.23 L78.56 409.06 L79.56 406.83 L80.57 404.6 L81.58 402.38 L82.58 400.24 L83.59 398.22 L84.59 396.36 L85.6 394.7 L86.6 393.28 L87.61 392.13 L88.61 391.26 L89.62 390.7 L90.62 390.43 L91.63 390.48 L92.63 390.86 L93.64 391.42 L94.65 392.11 L95.65 392.92 L96.66 393.8 L97.66 394.77 L98.67 395.78 L99.67 396.85 L100.68 397.95 L101.68 399.08 L102.69 400.22 L103.69 401.38 L104.7 402.54 L105.7 403.7 L106.71 404.85 L107.72 405.99 L108.72 407.11 L109.73 408.2 L110.73 409.28 L111.74 410.33 L112.74 411.35 L113.75 412.33 L114.75 413.29 L115.76 414.21 L116.76 415.09 L117.77 415.94 L118.78 416.75 L119.78 417.53 L120.79 418.27 L121.79 418.97 L122.8 419.64 L123.8 420.28 L124.81 420.88 L125.81 421.44 L126.82 421.98 L127.82 422.48 L128.83 422.95 L129.83 423.39 L130.84 423.8 L131.85 424.19 L132.85 424.55 L133.86 424.89 L134.86 425.2 L135.87 425.49 L136.87 425.76 L137.88 426.01 L138.88 426.25 L139.89 426.46 L140.89 426.66 L141.9 426.84 L142.9 427.01 L143.91 427.16 L144.92 427.3 L145.92 427.43 L146.93 427.55 L147.93 427.66 L148.94 427.76 L149.94 427.85 L150.95 427.94 L151.95 428.01 L152.96 428.08 L153.96 428.14 L154.97 428.2 L155.98 428.25 L156.98 428.3 L157.99 428.34 L158.99 428.38 L160 428.41 L161 428.44 L162.01 428.47 L163.01 428.49 L164.02 428.52 L165.02 428.54 L166.03 428.55 L167.03 428.57 L168.04 428.58 L169.05 428.6 L170.05 428.61 L171.06 428.62 L172.06 428.63 L173.07 428.64 L174.07 428.64 L175.08 428.65 L176.08 428.66 L177.09 428.66 L178.09 428.67 L179.1 428.67 L180.1 428.67 L181.11 428.68L181.11 428.7 L30.3 428.7Z" fill="#f4788c" fill-opacity="0.04" stroke="none"/>
<path d="M30.3 428.7 L31.31 428.7 L32.31 428.7 L33.32 428.7 L34.32 428.7 L35.33 428.7 L36.33 428.7 L37.34 428.7 L38.34 428.7 L39.35 428.7 L40.35 428.7 L41.36 428.7 L42.36 428.7 L43.37 428.7 L44.38 428.7 L45.38 428.7 L46.39 428.7 L47.39 428.7 L48.4 428.7 L49.4 428.69 L50.41 428.69 L51.41 428.69 L52.42 428.68 L53.42 428.67 L54.43 428.66 L55.44 428.64 L56.44 428.61 L57.45 428.57 L58.45 428.53 L59.46 428.46 L60.46 428.37 L61.47 428.26 L62.47 428.12 L63.48 427.94 L64.48 427.71 L65.49 427.43 L66.49 427.09 L67.5 426.67 L68.51 426.17 L69.51 425.58 L70.52 424.9 L71.52 424.11 L72.53 423.22 L73.53 422.22 L74.54 421.11 L75.54 419.91 L76.55 418.62 L77.55 417.25 L78.56 415.83 L79.56 414.37 L80.57 412.9 L81.58 411.45 L82.58 410.05 L83.59 408.73 L84.59 407.51 L85.6 406.42 L86.6 405.49 L87.61 404.73 L88.61 404.16 L89.62 403.79 L90.62 403.62 L91.63 403.65 L92.63 403.9 L93.64 404.27 L94.65 404.72 L95.65 405.25 L96.66 405.83 L97.66 406.46 L98.67 407.13 L99.67 407.83 L100.68 408.55 L101.68 409.29 L102.69 410.04 L103.69 410.8 L104.7 411.56 L105.7 412.32 L106.71 413.07 L107.72 413.81 L108.72 414.55 L109.73 415.27 L110.73 415.97 L111.74 416.66 L112.74 417.33 L113.75 417.97 L114.75 418.6 L115.76 419.2 L116.76 419.78 L117.77 420.34 L118.78 420.87 L119.78 421.38 L120.79 421.87 L121.79 422.33 L122.8 422.76 L123.8 423.18 L124.81 423.57 L125.81 423.94 L126.82 424.29 L127.82 424.62 L128.83 424.93 L129.83 425.22 L130.84 425.49 L131.85 425.75 L132.85 425.98 L133.86 426.2 L134.86 426.41 L135.87 426.6 L136.87 426.78 L137.88 426.94 L138.88 427.09 L139.89 427.23 L140.89 427.36 L141.9 427.48 L142.9 427.59 L143.91 427.69 L144.92 427.79 L145.92 427.87 L146.93 427.95 L147.93 428.02 L148.94 428.09 L149.94 428.14 L150.95 428.2 L151.95 428.25 L152.96 428.29 L153.96 428.33 L154.97 428.37 L155.98 428.4 L156.98 428.44 L157.99 428.46 L158.99 428.49 L160 428.51 L161 428.53 L162.01 428.55 L163.01 428.56 L164.02 428.58 L165.02 428.59 L166.03 428.6 L167.03 428.62 L168.04 428.62 L169.05 428.63 L170.05 428.64 L171.06 428.65 L172.06 428.65 L173.07 428.66 L174.07 428.66 L175.08 428.67 L176.08 428.67 L177.09 428.68 L178.09 428.68 L179.1 428.68 L180.1 428.68 L181.11 428.69L181.11 428.7 L30.3 428.7Z" fill="#f4788c" fill-opacity="0.04" stroke="none"/>
<path d="M30.3 428.7 L31.31 428.7 L32.31 428.7 L33.32 428.7 L34.32 428.7 L35.33 428.7 L36.33 428.7 L37.34 428.7 L38.34 428.7 L39.35 428.7 L40.35 428.7 L41.36 428.7 L42.36 428.7 L43.37 428.7 L44.38 428.7 L45.38 428.7 L46.39 428.7 L47.39 428.7 L48.4 428.7 L49.4 428.7 L50.41 428.69 L51.41 428.69 L52.42 428.69 L53.42 428.68 L54.43 428.67 L55.44 428.66 L56.44 428.64 L57.45 428.62 L58.45 428.58 L59.46 428.54 L60.46 428.48 L61.47 428.41 L62.47 428.31 L63.48 428.19 L64.48 428.04 L65.49 427.85 L66.49 427.61 L67.5 427.33 L68.51 427 L69.51 426.6 L70.52 426.14 L71.52 425.61 L72.53 425.01 L73.53 424.33 L74.54 423.59 L75.54 422.78 L76.55 421.91 L77.55 420.99 L78.56 420.03 L79.56 419.05 L80.57 418.06 L81.58 417.09 L82.58 416.14 L83.59 415.25 L84.59 414.43 L85.6 413.7 L86.6 413.07 L87.61 412.56 L88.61 412.18 L89.62 411.93 L90.62 411.81 L91.63 411.84 L92.63 412 L93.64 412.25 L94.65 412.56 L95.65 412.91 L96.66 413.3 L97.66 413.73 L98.67 414.18 L99.67 414.65 L100.68 415.13 L101.68 415.63 L102.69 416.14 L103.69 416.65 L104.7 417.16 L105.7 417.67 L106.71 418.18 L107.72 418.68 L108.72 419.17 L109.73 419.66 L110.73 420.13 L111.74 420.59 L112.74 421.04 L113.75 421.48 L114.75 421.9 L115.76 422.31 L116.76 422.7 L117.77 423.07 L118.78 423.43 L119.78 423.77 L120.79 424.1 L121.79 424.41 L122.8 424.7 L123.8 424.98 L124.81 425.25 L125.81 425.5 L126.82 425.73 L127.82 425.95 L128.83 426.16 L129.83 426.36 L130.84 426.54 L131.85 426.71 L132.85 426.87 L133.86 427.02 L134.86 427.16 L135.87 427.29 L136.87 427.4 L137.88 427.52 L138.88 427.62 L139.89 427.71 L140.89 427.8 L141.9 427.88 L142.9 427.95 L143.91 428.02 L144.92 428.08 L145.92 428.14 L146.93 428.19 L147.93 428.24 L148.94 428.29 L149.94 428.33 L150.95 428.36 L151.95 428.4 L152.96 428.43 L153.96 428.45 L154.97 428.48 L155.98 428.5 L156.98 428.52 L157.99 428.54 L158.99 428.56 L160 428.57 L161 428.59 L162.01 428.6 L163.01 428.61 L164.02 428.62 L165.02 428.63 L166.03 428.64 L167.03 428.64 L168.04 428.65 L169.05 428.65 L170.05 428.66 L171.06 428.66 L172.06 428.67 L173.07 428.67 L174.07 428.68 L175.08 428.68 L176.08 428.68 L177.09 428.68 L178.09 428.69 L179.1 428.69 L180.1 428.69 L181.11 428.69L181.11 428.7 L30.3 428.7Z" fill="#f4788c" fill-opacity="0.04" stroke="none"/>
<path d="M30.3 428.7 L31.31 428.7 L32.31 428.7 L33.32 428.7 L34.32 428.7 L35.33 428.7 L36.33 428.7 L37.34 428.7 L38.34 428.7 L39.35 428.7 L40.35 428.7 L41.36 428.7 L42.36 428.7 L43.37 428.7 L44.38 428.7 L45.38 428.7 L46.39 428.7 L47.39 428.7 L48.4 428.7 L49.4 428.7 L50.41 428.7 L51.41 428.69 L52.42 428.69 L53.42 428.69 L54.43 428.68 L55.44 428.68 L56.44 428.67 L57.45 428.65 L58.45 428.63 L59.46 428.61 L60.46 428.58 L61.47 428.53 L62.47 428.48 L63.48 428.41 L64.48 428.33 L65.49 428.22 L66.49 428.09 L67.5 427.93 L68.51 427.74 L69.51 427.52 L70.52 427.26 L71.52 426.96 L72.53 426.62 L73.53 426.25 L74.54 425.83 L75.54 425.37 L76.55 424.88 L77.55 424.37 L78.56 423.83 L79.56 423.28 L80.57 422.72 L81.58 422.17 L82.58 421.64 L83.59 421.14 L84.59 420.68 L85.6 420.27 L86.6 419.91 L87.61 419.63 L88.61 419.41 L89.62 419.27 L90.62 419.21 L91.63 419.22 L92.63 419.31 L93.64 419.45 L94.65 419.63 L95.65 419.82 L96.66 420.04 L97.66 420.28 L98.67 420.54 L99.67 420.8 L100.68 421.07 L101.68 421.35 L102.69 421.64 L103.69 421.92 L104.7 422.21 L105.7 422.5 L106.71 422.78 L107.72 423.07 L108.72 423.34 L109.73 423.62 L110.73 423.88 L111.74 424.14 L112.74 424.4 L113.75 424.64 L114.75 424.88 L115.76 425.11 L116.76 425.32 L117.77 425.54 L118.78 425.74 L119.78 425.93 L120.79 426.11 L121.79 426.29 L122.8 426.45 L123.8 426.61 L124.81 426.76 L125.81 426.9 L126.82 427.03 L127.82 427.16 L128.83 427.27 L129.83 427.38 L130.84 427.49 L131.85 427.58 L132.85 427.67 L133.86 427.75 L134.86 427.83 L135.87 427.9 L136.87 427.97 L137.88 428.03 L138.88 428.09 L139.89 428.14 L140.89 428.19 L141.9 428.24 L142.9 428.28 L143.91 428.32 L144.92 428.35 L145.92 428.39 L146.93 428.42 L147.93 428.44 L148.94 428.47 L149.94 428.49 L150.95 428.51 L151.95 428.53 L152.96 428.55 L153.96 428.56 L154.97 428.58 L155.98 428.59 L156.98 428.6 L157.99 428.61 L158.99 428.62 L160 428.63 L161 428.64 L162.01 428.64 L163.01 428.65 L164.02 428.65 L165.02 428.66 L166.03 428.66 L167.03 428.67 L168.04 428.67 L169.05 428.67 L170.05 428.68 L171.06 428.68 L172.06 428.68 L173.07 428.68 L174.07 428.69 L175.08 428.69 L176.08 428.69 L177.09 428.69 L178.09 428.69 L179.1 428.69 L180.1 428.69 L181.11 428.69L181.11 428.7 L30.3 428.7Z" fill="#f4788c" fill-opacity="0.04" stroke="none"/>
<path d="M30.3 428.7 L31.31 428.7 L32.31 428.7 L33.32 428.7 L34.32 428.7 L35.33 428.7 L36.33 428.7 L37.34 428.7 L38.34 428.7 L39.35 428.7 L40.35 428.7 L41.36 428.7 L42.36 428.7 L43.37 428.7 L44.38 428.7 L45.38 428.7 L46.39 428.7 L47.39 428.7 L48.4 428.7 L49.4 428.7 L50.41 428.7 L51.41 428.7 L52.42 428.7 L53.42 428.69 L54.43 428.69 L55.44 428.69 L56.44 428.68 L57.45 428.67 L58.45 428.66 L59.46 428.65 L60.46 428.63 L61.47 428.61 L62.47 428.58 L63.48 428.54 L64.48 428.49 L65.49 428.43 L66.49 428.35 L67.5 428.26 L68.51 428.16 L69.51 428.03 L70.52 427.88 L71.52 427.71 L72.53 427.52 L73.53 427.31 L74.54 427.07 L75.54 426.81 L76.55 426.53 L77.55 426.24 L78.56 425.93 L79.56 425.62 L80.57 425.3 L81.58 424.99 L82.58 424.69 L83.59 424.4 L84.59 424.14 L85.6 423.91 L86.6 423.71 L87.61 423.54 L88.61 423.42 L89.62 423.34 L90.62 423.3 L91.63 423.31 L92.63 423.36 L93.64 423.44 L94.65 423.54 L95.65 423.65 L96.66 423.78 L97.66 423.92 L98.67 424.06 L99.67 424.21 L100.68 424.36 L101.68 424.52 L102.69 424.69 L103.69 424.85 L104.7 425.01 L105.7 425.18 L106.71 425.34 L107.72 425.5 L108.72 425.66 L109.73 425.81 L110.73 425.96 L111.74 426.11 L112.74 426.25 L113.75 426.39 L114.75 426.53 L115.76 426.66 L116.76 426.78 L117.77 426.9 L118.78 427.02 L119.78 427.13 L120.79 427.23 L121.79 427.33 L122.8 427.42 L123.8 427.51 L124.81 427.6 L125.81 427.68 L126.82 427.75 L127.82 427.82 L128.83 427.89 L129.83 427.95 L130.84 428.01 L131.85 428.06 L132.85 428.12 L133.86 428.16 L134.86 428.21 L135.87 428.25 L136.87 428.29 L137.88 428.32 L138.88 428.35 L139.89 428.38 L140.89 428.41 L141.9 428.44 L142.9 428.46 L143.91 428.48 L144.92 428.5 L145.92 428.52 L146.93 428.54 L147.93 428.55 L148.94 428.57 L149.94 428.58 L150.95 428.59 L151.95 428.6 L152.96 428.61 L153.96 428.62 L154.97 428.63 L155.98 428.64 L156.98 428.64 L157.99 428.65 L158.99 428.65 L160 428.66 L161 428.66 L162.01 428.67 L163.01 428.67 L164.02 428.67 L165.02 428.68 L166.03 428.68 L167.03 428.68 L168.04 428.68 L169.05 428.69 L170.05 428.69 L171.06 428.69 L172.06 428.69 L173.07 428.69 L174.07 428.69 L175.08 428.69 L176.08 428.69 L177.09 428.69 L178.09 428.7 L179.1 428.7 L180.1 428.7 L181.11 428.7L181.11 428.7 L30.3 428.7Z" fill="#f4788c" fill-opacity="0.04" stroke="none"/>
<path d="M30.3 428.7 L31.31 428.7 L32.31 428.7 L33.32 428.7 L34.32 428.7 L35.33 428.7 L36.33 428.7 L37.34 428.7 L38.34 428.7 L39.35 428.7 L40.35 428.7 L41.36 428.7 L42.36 428.7 L43.37 428.7 L44.38 428.7 L45.38 428.7 L46.39 428.69 L47.39 428.69 L48.4 428.68 L49.4 428.67 L50.41 428.66 L51.41 428.64 L52.42 428.61 L53.42 428.57 L54.43 428.52 L55.44 428.44 L56.44 428.33 L57.45 428.18 L58.45 427.98 L59.46 427.72 L60.46 427.37 L61.47 426.91 L62.47 426.33 L63.48 425.58 L64.48 424.65 L65.49 423.5 L66.49 422.08 L67.5 420.37 L68.51 418.33 L69.51 415.92 L70.52 413.11 L71.52 409.88 L72.53 406.22 L73.53 402.12 L74.54 397.59 L75.54 392.66 L76.55 387.36 L77.55 381.76 L78.56 375.93 L79.56 369.95 L80.57 363.94 L81.58 358 L82.58 352.25 L83.59 346.81 L84.59 341.81 L85.6 337.35 L86.6 333.53 L87.61 330.44 L88.61 328.11 L89.62 326.6 L90.62 325.88 L91.63 326.02 L92.63 327.04 L93.64 328.54 L94.65 330.41 L95.65 332.56 L96.66 334.95 L97.66 337.53 L98.67 340.27 L99.67 343.13 L100.68 346.09 L101.68 349.12 L102.69 352.2 L103.69 355.3 L104.7 358.42 L105.7 361.53 L106.71 364.62 L107.72 367.67 L108.72 370.68 L109.73 373.64 L110.73 376.52 L111.74 379.34 L112.74 382.08 L113.75 384.73 L114.75 387.29 L115.76 389.76 L116.76 392.14 L117.77 394.42 L118.78 396.61 L119.78 398.69 L120.79 400.68 L121.79 402.57 L122.8 404.37 L123.8 406.07 L124.81 407.68 L125.81 409.2 L126.82 410.63 L127.82 411.98 L128.83 413.25 L129.83 414.43 L130.84 415.55 L131.85 416.59 L132.85 417.56 L133.86 418.46 L134.86 419.3 L135.87 420.09 L136.87 420.81 L137.88 421.49 L138.88 422.11 L139.89 422.68 L140.89 423.22 L141.9 423.7 L142.9 424.16 L143.91 424.57 L144.92 424.95 L145.92 425.3 L146.93 425.62 L147.93 425.91 L148.94 426.18 L149.94 426.42 L150.95 426.65 L151.95 426.85 L152.96 427.03 L153.96 427.2 L154.97 427.35 L155.98 427.49 L156.98 427.61 L157.99 427.73 L158.99 427.83 L160 427.92 L161 428 L162.01 428.08 L163.01 428.14 L164.02 428.21 L165.02 428.26 L166.03 428.31 L167.03 428.35 L168.04 428.39 L169.05 428.43 L170.05 428.46 L171.06 428.48 L172.06 428.51 L173.07 428.53 L174.07 428.55 L175.08 428.57 L176.08 428.58 L177.09 428.6 L178.09 428.61 L179.1 428.62 L180.1 428.63 L181.11 428.64 L181.11 428.65 L180.1 428.64 L179.1 428.63 L178.09 428.62 L177.09 428.61 L176.08 428.6 L175.08 428.59 L174.07 428.57 L173.07 428.55 L172.06 428.53 L171.06 428.51 L170.05 428.49 L169.05 428.46 L168.04 428.43 L167.03 428.4 L166.03 428.36 L165.02 428.32 L164.02 428.27 L163.01 428.21 L162.01 428.16 L161 428.09 L160 428.02 L158.99 427.94 L157.99 427.85 L156.98 427.75 L155.98 427.64 L154.97 427.52 L153.96 427.39 L152.96 427.24 L151.95 427.08 L150.95 426.91 L149.94 426.71 L148.94 426.5 L147.93 426.26 L146.93 426.01 L145.92 425.73 L144.92 425.42 L143.91 425.09 L142.9 424.73 L141.9 424.34 L140.89 423.91 L139.89 423.44 L138.88 422.94 L137.88 422.4 L136.87 421.81 L135.87 421.17 L134.86 420.49 L133.86 419.76 L132.85 418.97 L131.85 418.12 L130.84 417.21 L129.83 416.24 L128.83 415.2 L127.82 414.09 L126.82 412.91 L125.81 411.66 L124.81 410.34 L123.8 408.93 L122.8 407.44 L121.79 405.87 L120.79 404.22 L119.78 402.48 L118.78 400.66 L117.77 398.75 L116.76 396.76 L115.76 394.68 L114.75 392.52 L113.75 390.28 L112.74 387.97 L111.74 385.58 L110.73 383.12 L109.73 380.59 L108.72 378.01 L107.72 375.38 L106.71 372.71 L105.7 370.02 L104.7 367.3 L103.69 364.58 L102.69 361.86 L101.68 359.17 L100.68 356.52 L99.67 353.94 L98.67 351.44 L97.66 349.05 L96.66 346.79 L95.65 344.71 L94.65 342.82 L93.64 341.19 L92.63 339.88 L91.63 338.99 L90.62 338.87 L89.62 339.5 L88.61 340.82 L87.61 342.85 L86.6 345.56 L85.6 348.89 L84.59 352.79 L83.59 357.16 L82.58 361.91 L81.58 366.93 L80.57 372.12 L79.56 377.38 L78.56 382.6 L77.55 387.69 L76.55 392.59 L75.54 397.21 L74.54 401.52 L73.53 405.48 L72.53 409.06 L71.52 412.26 L70.52 415.08 L69.51 417.53 L68.51 419.64 L67.5 421.42 L66.49 422.92 L65.49 424.15 L64.48 425.16 L63.48 425.98 L62.47 426.63 L61.47 427.14 L60.46 427.54 L59.46 427.84 L58.45 428.07 L57.45 428.25 L56.44 428.38 L55.44 428.47 L54.43 428.54 L53.42 428.59 L52.42 428.63 L51.41 428.65 L50.41 428.67 L49.4 428.68 L48.4 428.69 L47.39 428.69 L46.39 428.69 L45.38 428.7 L44.38 428.7 L43.37 428.7 L42.36 428.7 L41.36 428.7 L40.35 428.7 L39.35 428.7 L38.34 428.7 L37.34 428.7 L36.33 428.7 L35.33 428.7 L34.32 428.7 L33.32 428.7 L32.31 428.7 L31.31 428.7 L30.3 428.7 Z" fill="#f4788c" fill-opacity="0.2"/>
<path d="M30.3 428.7 L31.31 428.7 L32.31 428.7 L33.32 428.7 L34.32 428.7 L35.33 428.7 L36.33 428.7 L37.34 428.7 L38.34 428.7 L39.35 428.7 L40.35 428.7 L41.36 428.7 L42.36 428.7 L43.37 428.7 L44.38 428.7 L45.38 428.7 L46.39 428.7 L47.39 428.7 L48.4 428.7 L49.4 428.7 L50.41 428.7 L51.41 428.7 L52.42 428.7 L53.42 428.69 L54.43 428.69 L55.44 428.69 L56.44 428.68 L57.45 428.67 L58.45 428.66 L59.46 428.65 L60.46 428.63 L61.47 428.61 L62.47 428.58 L63.48 428.54 L64.48 428.49 L65.49 428.43 L66.49 428.35 L67.5 428.26 L68.51 428.16 L69.51 428.03 L70.52 427.88 L71.52 427.71 L72.53 427.52 L73.53 427.31 L74.54 427.07 L75.54 426.81 L76.55 426.53 L77.55 426.24 L78.56 425.93 L79.56 425.62 L80.57 425.3 L81.58 424.99 L82.58 424.69 L83.59 424.4 L84.59 424.14 L85.6 423.91 L86.6 423.71 L87.61 423.54 L88.61 423.42 L89.62 423.34 L90.62 423.3 L91.63 423.31 L92.63 423.36 L93.64 423.44 L94.65 423.54 L95.65 423.65 L96.66 423.78 L97.66 423.92 L98.67 424.06 L99.67 424.21 L100.68 424.36 L101.68 424.52 L102.69 424.69 L103.69 424.85 L104.7 425.01 L105.7 425.18 L106.71 425.34 L107.72 425.5 L108.72 425.66 L109.73 425.81 L110.73 425.96 L111.74 426.11 L112.74 426.25 L113.75 426.39 L114.75 426.53 L115.76 426.66 L116.76 426.78 L117.77 426.9 L118.78 427.02 L119.78 427.13 L120.79 427.23 L121.79 427.33 L122.8 427.42 L123.8 427.51 L124.81 427.6 L125.81 427.68 L126.82 427.75 L127.82 427.82 L128.83 427.89 L129.83 427.95 L130.84 428.01 L131.85 428.06 L132.85 428.12 L133.86 428.16 L134.86 428.21 L135.87 428.25 L136.87 428.29 L137.88 428.32 L138.88 428.35 L139.89 428.38 L140.89 428.41 L141.9 428.44 L142.9 428.46 L143.91 428.48 L144.92 428.5 L145.92 428.52 L146.93 428.54 L147.93 428.55 L148.94 428.57 L149.94 428.58 L150.95 428.59 L151.95 428.6 L152.96 428.61 L153.96 428.62 L154.97 428.63 L155.98 428.64 L156.98 428.64 L157.99 428.65 L158.99 428.65 L160 428.66 L161 428.66 L162.01 428.67 L163.01 428.67 L164.02 428.67 L165.02 428.68 L166.03 428.68 L167.03 428.68 L168.04 428.68 L169.05 428.69 L170.05 428.69 L171.06 428.69 L172.06 428.69 L173.07 428.69 L174.07 428.69 L175.08 428.69 L176.08 428.69 L177.09 428.69 L178.09 428.7 L179.1 428.7 L180.1 428.7 L181.11 428.7" fill="none" stroke="#f9c186" stroke-width="1.05"/>
<path d="M30.3 428.7 L31.31 428.7 L32.31 428.7 L33.32 428.7 L34.32 428.7 L35.33 428.7 L36.33 428.7 L37.34 428.7 L38.34 428.7 L39.35 428.7 L40.35 428.7 L41.36 428.7 L42.36 428.7 L43.37 428.7 L44.38 428.7 L45.38 428.7 L46.39 428.7 L47.39 428.7 L48.4 428.7 L49.4 428.7 L50.41 428.7 L51.41 428.69 L52.42 428.69 L53.42 428.69 L54.43 428.68 L55.44 428.68 L56.44 428.67 L57.45 428.65 L58.45 428.63 L59.46 428.61 L60.46 428.58 L61.47 428.53 L62.47 428.48 L63.48 428.41 L64.48 428.33 L65.49 428.22 L66.49 428.09 L67.5 427.93 L68.51 427.74 L69.51 427.52 L70.52 427.26 L71.52 426.96 L72.53 426.62 L73.53 426.25 L74.54 425.83 L75.54 425.37 L76.55 424.88 L77.55 424.37 L78.56 423.83 L79.56 423.28 L80.57 422.72 L81.58 422.17 L82.58 421.64 L83.59 421.14 L84.59 420.68 L85.6 420.27 L86.6 419.91 L87.61 419.63 L88.61 419.41 L89.62 419.27 L90.62 419.21 L91.63 419.22 L92.63 419.31 L93.64 419.45 L94.65 419.63 L95.65 419.82 L96.66 420.04 L97.66 420.28 L98.67 420.54 L99.67 420.8 L100.68 421.07 L101.68 421.35 L102.69 421.64 L103.69 421.92 L104.7 422.21 L105.7 422.5 L106.71 422.78 L107.72 423.07 L108.72 423.34 L109.73 423.62 L110.73 423.88 L111.74 424.14 L112.74 424.4 L113.75 424.64 L114.75 424.88 L115.76 425.11 L116.76 425.32 L117.77 425.54 L118.78 425.74 L119.78 425.93 L120.79 426.11 L121.79 426.29 L122.8 426.45 L123.8 426.61 L124.81 426.76 L125.81 426.9 L126.82 427.03 L127.82 427.16 L128.83 427.27 L129.83 427.38 L130.84 427.49 L131.85 427.58 L132.85 427.67 L133.86 427.75 L134.86 427.83 L135.87 427.9 L136.87 427.97 L137.88 428.03 L138.88 428.09 L139.89 428.14 L140.89 428.19 L141.9 428.24 L142.9 428.28 L143.91 428.32 L144.92 428.35 L145.92 428.39 L146.93 428.42 L147.93 428.44 L148.94 428.47 L149.94 428.49 L150.95 428.51 L151.95 428.53 L152.96 428.55 L153.96 428.56 L154.97 428.58 L155.98 428.59 L156.98 428.6 L157.99 428.61 L158.99 428.62 L160 428.63 L161 428.64 L162.01 428.64 L163.01 428.65 L164.02 428.65 L165.02 428.66 L166.03 428.66 L167.03 428.67 L168.04 428.67 L169.05 428.67 L170.05 428.68 L171.06 428.68 L172.06 428.68 L173.07 428.68 L174.07 428.69 L175.08 428.69 L176.08 428.69 L177.09 428.69 L178.09 428.69 L179.1 428.69 L180.1 428.69 L181.11 428.69" fill="none" stroke="#f8b884" stroke-width="1.05"/>
<path d="M30.3 428.7 L31.31 428.7 L32.31 428.7 L33.32 428.7 L34.32 428.7 L35.33 428.7 L36.33 428.7 L37.34 428.7 L38.34 428.7 L39.35 428.7 L40.35 428.7 L41.36 428.7 L42.36 428.7 L43.37 428.7 L44.38 428.7 L45.38 428.7 L46.39 428.7 L47.39 428.7 L48.4 428.7 L49.4 428.7 L50.41 428.69 L51.41 428.69 L52.42 428.69 L53.42 428.68 L54.43 428.67 L55.44 428.66 L56.44 428.64 L57.45 428.62 L58.45 428.58 L59.46 428.54 L60.46 428.48 L61.47 428.41 L62.47 428.31 L63.48 428.19 L64.48 428.04 L65.49 427.85 L66.49 427.61 L67.5 427.33 L68.51 427 L69.51 426.6 L70.52 426.14 L71.52 425.61 L72.53 425.01 L73.53 424.33 L74.54 423.59 L75.54 422.78 L76.55 421.91 L77.55 420.99 L78.56 420.03 L79.56 419.05 L80.57 418.06 L81.58 417.09 L82.58 416.14 L83.59 415.25 L84.59 414.43 L85.6 413.7 L86.6 413.07 L87.61 412.56 L88.61 412.18 L89.62 411.93 L90.62 411.81 L91.63 411.84 L92.63 412 L93.64 412.25 L94.65 412.56 L95.65 412.91 L96.66 413.3 L97.66 413.73 L98.67 414.18 L99.67 414.65 L100.68 415.13 L101.68 415.63 L102.69 416.14 L103.69 416.65 L104.7 417.16 L105.7 417.67 L106.71 418.18 L107.72 418.68 L108.72 419.17 L109.73 419.66 L110.73 420.13 L111.74 420.59 L112.74 421.04 L113.75 421.48 L114.75 421.9 L115.76 422.31 L116.76 422.7 L117.77 423.07 L118.78 423.43 L119.78 423.77 L120.79 424.1 L121.79 424.41 L122.8 424.7 L123.8 424.98 L124.81 425.25 L125.81 425.5 L126.82 425.73 L127.82 425.95 L128.83 426.16 L129.83 426.36 L130.84 426.54 L131.85 426.71 L132.85 426.87 L133.86 427.02 L134.86 427.16 L135.87 427.29 L136.87 427.4 L137.88 427.52 L138.88 427.62 L139.89 427.71 L140.89 427.8 L141.9 427.88 L142.9 427.95 L143.91 428.02 L144.92 428.08 L145.92 428.14 L146.93 428.19 L147.93 428.24 L148.94 428.29 L149.94 428.33 L150.95 428.36 L151.95 428.4 L152.96 428.43 L153.96 428.45 L154.97 428.48 L155.98 428.5 L156.98 428.52 L157.99 428.54 L158.99 428.56 L160 428.57 L161 428.59 L162.01 428.6 L163.01 428.61 L164.02 428.62 L165.02 428.63 L166.03 428.64 L167.03 428.64 L168.04 428.65 L169.05 428.65 L170.05 428.66 L171.06 428.66 L172.06 428.67 L173.07 428.67 L174.07 428.68 L175.08 428.68 L176.08 428.68 L177.09 428.68 L178.09 428.69 L179.1 428.69 L180.1 428.69 L181.11 428.69" fill="none" stroke="#f7ae84" stroke-width="1.05"/>
<path d="M30.3 428.7 L31.31 428.7 L32.31 428.7 L33.32 428.7 L34.32 428.7 L35.33 428.7 L36.33 428.7 L37.34 428.7 L38.34 428.7 L39.35 428.7 L40.35 428.7 L41.36 428.7 L42.36 428.7 L43.37 428.7 L44.38 428.7 L45.38 428.7 L46.39 428.7 L47.39 428.7 L48.4 428.7 L49.4 428.69 L50.41 428.69 L51.41 428.69 L52.42 428.68 L53.42 428.67 L54.43 428.66 L55.44 428.64 L56.44 428.61 L57.45 428.57 L58.45 428.53 L59.46 428.46 L60.46 428.37 L61.47 428.26 L62.47 428.12 L63.48 427.94 L64.48 427.71 L65.49 427.43 L66.49 427.09 L67.5 426.67 L68.51 426.17 L69.51 425.58 L70.52 424.9 L71.52 424.11 L72.53 423.22 L73.53 422.22 L74.54 421.11 L75.54 419.91 L76.55 418.62 L77.55 417.25 L78.56 415.83 L79.56 414.37 L80.57 412.9 L81.58 411.45 L82.58 410.05 L83.59 408.73 L84.59 407.51 L85.6 406.42 L86.6 405.49 L87.61 404.73 L88.61 404.16 L89.62 403.79 L90.62 403.62 L91.63 403.65 L92.63 403.9 L93.64 404.27 L94.65 404.72 L95.65 405.25 L96.66 405.83 L97.66 406.46 L98.67 407.13 L99.67 407.83 L100.68 408.55 L101.68 409.29 L102.69 410.04 L103.69 410.8 L104.7 411.56 L105.7 412.32 L106.71 413.07 L107.72 413.81 L108.72 414.55 L109.73 415.27 L110.73 415.97 L111.74 416.66 L112.74 417.33 L113.75 417.97 L114.75 418.6 L115.76 419.2 L116.76 419.78 L117.77 420.34 L118.78 420.87 L119.78 421.38 L120.79 421.87 L121.79 422.33 L122.8 422.76 L123.8 423.18 L124.81 423.57 L125.81 423.94 L126.82 424.29 L127.82 424.62 L128.83 424.93 L129.83 425.22 L130.84 425.49 L131.85 425.75 L132.85 425.98 L133.86 426.2 L134.86 426.41 L135.87 426.6 L136.87 426.78 L137.88 426.94 L138.88 427.09 L139.89 427.23 L140.89 427.36 L141.9 427.48 L142.9 427.59 L143.91 427.69 L144.92 427.79 L145.92 427.87 L146.93 427.95 L147.93 428.02 L148.94 428.09 L149.94 428.14 L150.95 428.2 L151.95 428.25 L152.96 428.29 L153.96 428.33 L154.97 428.37 L155.98 428.4 L156.98 428.44 L157.99 428.46 L158.99 428.49 L160 428.51 L161 428.53 L162.01 428.55 L163.01 428.56 L164.02 428.58 L165.02 428.59 L166.03 428.6 L167.03 428.62 L168.04 428.62 L169.05 428.63 L170.05 428.64 L171.06 428.65 L172.06 428.65 L173.07 428.66 L174.07 428.66 L175.08 428.67 L176.08 428.67 L177.09 428.68 L178.09 428.68 L179.1 428.68 L180.1 428.68 L181.11 428.69" fill="none" stroke="#f6a081" stroke-width="1.05"/>
<path d="M30.3 428.7 L31.31 428.7 L32.31 428.7 L33.32 428.7 L34.32 428.7 L35.33 428.7 L36.33 428.7 L37.34 428.7 L38.34 428.7 L39.35 428.7 L40.35 428.7 L41.36 428.7 L42.36 428.7 L43.37 428.7 L44.38 428.7 L45.38 428.7 L46.39 428.7 L47.39 428.7 L48.4 428.69 L49.4 428.69 L50.41 428.69 L51.41 428.68 L52.42 428.67 L53.42 428.65 L54.43 428.63 L55.44 428.6 L56.44 428.56 L57.45 428.51 L58.45 428.43 L59.46 428.33 L60.46 428.2 L61.47 428.03 L62.47 427.82 L63.48 427.54 L64.48 427.19 L65.49 426.76 L66.49 426.24 L67.5 425.6 L68.51 424.84 L69.51 423.94 L70.52 422.9 L71.52 421.7 L72.53 420.33 L73.53 418.81 L74.54 417.12 L75.54 415.29 L76.55 413.31 L77.55 411.23 L78.56 409.06 L79.56 406.83 L80.57 404.6 L81.58 402.38 L82.58 400.24 L83.59 398.22 L84.59 396.36 L85.6 394.7 L86.6 393.28 L87.61 392.13 L88.61 391.26 L89.62 390.7 L90.62 390.43 L91.63 390.48 L92.63 390.86 L93.64 391.42 L94.65 392.11 L95.65 392.92 L96.66 393.8 L97.66 394.77 L98.67 395.78 L99.67 396.85 L100.68 397.95 L101.68 399.08 L102.69 400.22 L103.69 401.38 L104.7 402.54 L105.7 403.7 L106.71 404.85 L107.72 405.99 L108.72 407.11 L109.73 408.2 L110.73 409.28 L111.74 410.33 L112.74 411.35 L113.75 412.33 L114.75 413.29 L115.76 414.21 L116.76 415.09 L117.77 415.94 L118.78 416.75 L119.78 417.53 L120.79 418.27 L121.79 418.97 L122.8 419.64 L123.8 420.28 L124.81 420.88 L125.81 421.44 L126.82 421.98 L127.82 422.48 L128.83 422.95 L129.83 423.39 L130.84 423.8 L131.85 424.19 L132.85 424.55 L133.86 424.89 L134.86 425.2 L135.87 425.49 L136.87 425.76 L137.88 426.01 L138.88 426.25 L139.89 426.46 L140.89 426.66 L141.9 426.84 L142.9 427.01 L143.91 427.16 L144.92 427.3 L145.92 427.43 L146.93 427.55 L147.93 427.66 L148.94 427.76 L149.94 427.85 L150.95 427.94 L151.95 428.01 L152.96 428.08 L153.96 428.14 L154.97 428.2 L155.98 428.25 L156.98 428.3 L157.99 428.34 L158.99 428.38 L160 428.41 L161 428.44 L162.01 428.47 L163.01 428.49 L164.02 428.52 L165.02 428.54 L166.03 428.55 L167.03 428.57 L168.04 428.58 L169.05 428.6 L170.05 428.61 L171.06 428.62 L172.06 428.63 L173.07 428.64 L174.07 428.64 L175.08 428.65 L176.08 428.66 L177.09 428.66 L178.09 428.67 L179.1 428.67 L180.1 428.67 L181.11 428.68" fill="none" stroke="#f58f7d" stroke-width="1.05"/>
<path d="M30.3 428.7 L31.31 428.7 L32.31 428.7 L33.32 428.7 L34.32 428.7 L35.33 428.7 L36.33 428.7 L37.34 428.7 L38.34 428.7 L39.35 428.7 L40.35 428.7 L41.36 428.7 L42.36 428.7 L43.37 428.7 L44.38 428.7 L45.38 428.7 L46.39 428.7 L47.39 428.69 L48.4 428.69 L49.4 428.69 L50.41 428.68 L51.41 428.67 L52.42 428.66 L53.42 428.63 L54.43 428.61 L55.44 428.56 L56.44 428.51 L57.45 428.43 L58.45 428.33 L59.46 428.19 L60.46 428.01 L61.47 427.77 L62.47 427.47 L63.48 427.08 L64.48 426.6 L65.49 426 L66.49 425.27 L67.5 424.38 L68.51 423.32 L69.51 422.07 L70.52 420.61 L71.52 418.94 L72.53 417.04 L73.53 414.91 L74.54 412.56 L75.54 410 L76.55 407.25 L77.55 404.34 L78.56 401.31 L79.56 398.21 L80.57 395.09 L81.58 392.01 L82.58 389.03 L83.59 386.21 L84.59 383.61 L85.6 381.3 L86.6 379.31 L87.61 377.71 L88.61 376.5 L89.62 375.71 L90.62 375.34 L91.63 375.42 L92.63 375.94 L93.64 376.72 L94.65 377.69 L95.65 378.81 L96.66 380.05 L97.66 381.39 L98.67 382.81 L99.67 384.29 L100.68 385.83 L101.68 387.4 L102.69 389 L103.69 390.61 L104.7 392.23 L105.7 393.84 L106.71 395.45 L107.72 397.03 L108.72 398.59 L109.73 400.12 L110.73 401.62 L111.74 403.08 L112.74 404.5 L113.75 405.88 L114.75 407.21 L115.76 408.49 L116.76 409.73 L117.77 410.91 L118.78 412.04 L119.78 413.13 L120.79 414.16 L121.79 415.14 L122.8 416.07 L123.8 416.96 L124.81 417.79 L125.81 418.58 L126.82 419.32 L127.82 420.02 L128.83 420.68 L129.83 421.3 L130.84 421.87 L131.85 422.41 L132.85 422.92 L133.86 423.39 L134.86 423.82 L135.87 424.23 L136.87 424.61 L137.88 424.96 L138.88 425.28 L139.89 425.58 L140.89 425.85 L141.9 426.11 L142.9 426.34 L143.91 426.56 L144.92 426.75 L145.92 426.94 L146.93 427.1 L147.93 427.25 L148.94 427.39 L149.94 427.52 L150.95 427.63 L151.95 427.74 L152.96 427.83 L153.96 427.92 L154.97 428 L155.98 428.07 L156.98 428.14 L157.99 428.19 L158.99 428.25 L160 428.3 L161 428.34 L162.01 428.38 L163.01 428.41 L164.02 428.44 L165.02 428.47 L166.03 428.5 L167.03 428.52 L168.04 428.54 L169.05 428.56 L170.05 428.57 L171.06 428.59 L172.06 428.6 L173.07 428.61 L174.07 428.62 L175.08 428.63 L176.08 428.64 L177.09 428.65 L178.09 428.65 L179.1 428.66 L180.1 428.66 L181.11 428.67" fill="none" stroke="#f37e77" stroke-width="1.05"/>
<path d="M30.3 428.7 L31.31 428.7 L32.31 428.7 L33.32 428.7 L34.32 428.7 L35.33 428.7 L36.33 428.7 L37.34 428.7 L38.34 428.7 L39.35 428.7 L40.35 428.7 L41.36 428.7 L42.36 428.7 L43.37 428.7 L44.38 428.7 L45.38 428.7 L46.39 428.7 L47.39 428.69 L48.4 428.69 L49.4 428.68 L50.41 428.68 L51.41 428.66 L52.42 428.65 L53.42 428.62 L54.43 428.59 L55.44 428.54 L56.44 428.47 L57.45 428.38 L58.45 428.25 L59.46 428.09 L60.46 427.87 L61.47 427.58 L62.47 427.22 L63.48 426.75 L64.48 426.17 L65.49 425.44 L66.49 424.56 L67.5 423.49 L68.51 422.21 L69.51 420.7 L70.52 418.94 L71.52 416.92 L72.53 414.63 L73.53 412.07 L74.54 409.23 L75.54 406.14 L76.55 402.83 L77.55 399.32 L78.56 395.67 L79.56 391.93 L80.57 388.17 L81.58 384.45 L82.58 380.85 L83.59 377.45 L84.59 374.32 L85.6 371.53 L86.6 369.14 L87.61 367.2 L88.61 365.75 L89.62 364.8 L90.62 364.35 L91.63 364.44 L92.63 365.08 L93.64 366.02 L94.65 367.18 L95.65 368.53 L96.66 370.03 L97.66 371.64 L98.67 373.35 L99.67 375.15 L100.68 377 L101.68 378.89 L102.69 380.82 L103.69 382.76 L104.7 384.71 L105.7 386.66 L106.71 388.59 L107.72 390.51 L108.72 392.39 L109.73 394.24 L110.73 396.05 L111.74 397.81 L112.74 399.52 L113.75 401.18 L114.75 402.78 L115.76 404.33 L116.76 405.82 L117.77 407.25 L118.78 408.61 L119.78 409.92 L120.79 411.16 L121.79 412.35 L122.8 413.47 L123.8 414.54 L124.81 415.54 L125.81 416.5 L126.82 417.39 L127.82 418.24 L128.83 419.03 L129.83 419.77 L130.84 420.47 L131.85 421.12 L132.85 421.73 L133.86 422.29 L134.86 422.82 L135.87 423.31 L136.87 423.76 L137.88 424.18 L138.88 424.57 L139.89 424.93 L140.89 425.27 L141.9 425.57 L142.9 425.86 L143.91 426.12 L144.92 426.35 L145.92 426.57 L146.93 426.77 L147.93 426.96 L148.94 427.12 L149.94 427.28 L150.95 427.41 L151.95 427.54 L152.96 427.66 L153.96 427.76 L154.97 427.86 L155.98 427.94 L156.98 428.02 L157.99 428.09 L158.99 428.15 L160 428.21 L161 428.26 L162.01 428.31 L163.01 428.35 L164.02 428.39 L165.02 428.42 L166.03 428.45 L167.03 428.48 L168.04 428.51 L169.05 428.53 L170.05 428.55 L171.06 428.57 L172.06 428.58 L173.07 428.59 L174.07 428.61 L175.08 428.62 L176.08 428.63 L177.09 428.64 L178.09 428.64 L179.1 428.65 L180.1 428.66 L181.11 428.66" fill="none" stroke="#f17072" stroke-width="1.05"/>
<path d="M30.3 428.7 L31.31 428.7 L32.31 428.7 L33.32 428.7 L34.32 428.7 L35.33 428.7 L36.33 428.7 L37.34 428.7 L38.34 428.7 L39.35 428.7 L40.35 428.7 L41.36 428.7 L42.36 428.7 L43.37 428.7 L44.38 428.7 L45.38 428.7 L46.39 428.69 L47.39 428.69 L48.4 428.69 L49.4 428.68 L50.41 428.67 L51.41 428.66 L52.42 428.64 L53.42 428.61 L54.43 428.56 L55.44 428.51 L56.44 428.42 L57.45 428.31 L58.45 428.17 L59.46 427.97 L60.46 427.71 L61.47 427.37 L62.47 426.93 L63.48 426.37 L64.48 425.68 L65.49 424.82 L66.49 423.76 L67.5 422.48 L68.51 420.96 L69.51 419.16 L70.52 417.07 L71.52 414.66 L72.53 411.92 L73.53 408.86 L74.54 405.48 L75.54 401.8 L76.55 397.85 L77.55 393.67 L78.56 389.31 L79.56 384.85 L80.57 380.37 L81.58 375.93 L82.58 371.64 L83.59 367.58 L84.59 363.85 L85.6 360.52 L86.6 357.67 L87.61 355.36 L88.61 353.63 L89.62 352.5 L90.62 351.96 L91.63 352.07 L92.63 352.82 L93.64 353.95 L94.65 355.34 L95.65 356.94 L96.66 358.73 L97.66 360.65 L98.67 362.7 L99.67 364.83 L100.68 367.04 L101.68 369.3 L102.69 371.6 L103.69 373.92 L104.7 376.25 L105.7 378.57 L106.71 380.87 L107.72 383.15 L108.72 385.4 L109.73 387.6 L110.73 389.76 L111.74 391.86 L112.74 393.9 L113.75 395.88 L114.75 397.79 L115.76 399.64 L116.76 401.41 L117.77 403.12 L118.78 404.75 L119.78 406.3 L120.79 407.79 L121.79 409.2 L122.8 410.54 L123.8 411.81 L124.81 413.01 L125.81 414.15 L126.82 415.22 L127.82 416.22 L128.83 417.17 L129.83 418.05 L130.84 418.88 L131.85 419.66 L132.85 420.38 L133.86 421.06 L134.86 421.69 L135.87 422.27 L136.87 422.81 L137.88 423.32 L138.88 423.78 L139.89 424.21 L140.89 424.61 L141.9 424.97 L142.9 425.31 L143.91 425.62 L144.92 425.9 L145.92 426.16 L146.93 426.4 L147.93 426.62 L148.94 426.82 L149.94 427 L150.95 427.17 L151.95 427.32 L152.96 427.46 L153.96 427.58 L154.97 427.69 L155.98 427.8 L156.98 427.89 L157.99 427.97 L158.99 428.05 L160 428.12 L161 428.18 L162.01 428.24 L163.01 428.29 L164.02 428.33 L165.02 428.37 L166.03 428.41 L167.03 428.44 L168.04 428.47 L169.05 428.5 L170.05 428.52 L171.06 428.54 L172.06 428.56 L173.07 428.57 L174.07 428.59 L175.08 428.6 L176.08 428.61 L177.09 428.62 L178.09 428.63 L179.1 428.64 L180.1 428.65 L181.11 428.65" fill="none" stroke="#f0636e" stroke-width="1.05"/>
<path d="M30.3 428.7 L31.31 428.7 L32.31 428.7 L33.32 428.7 L34.32 428.7 L35.33 428.7 L36.33 428.7 L37.34 428.7 L38.34 428.7 L39.35 428.7 L40.35 428.7 L41.36 428.7 L42.36 428.7 L43.37 428.7 L44.38 428.7 L45.38 428.7 L46.39 428.69 L47.39 428.69 L48.4 428.69 L49.4 428.68 L50.41 428.67 L51.41 428.65 L52.42 428.63 L53.42 428.59 L54.43 428.54 L55.44 428.47 L56.44 428.38 L57.45 428.25 L58.45 428.07 L59.46 427.84 L60.46 427.54 L61.47 427.14 L62.47 426.63 L63.48 425.98 L64.48 425.16 L65.49 424.15 L66.49 422.92 L67.5 421.42 L68.51 419.64 L69.51 417.53 L70.52 415.08 L71.52 412.26 L72.53 409.06 L73.53 405.48 L74.54 401.52 L75.54 397.21 L76.55 392.59 L77.55 387.69 L78.56 382.6 L79.56 377.38 L80.57 372.12 L81.58 366.93 L82.58 361.91 L83.59 357.16 L84.59 352.79 L85.6 348.89 L86.6 345.56 L87.61 342.85 L88.61 340.82 L89.62 339.5 L90.62 338.87 L91.63 338.99 L92.63 339.88 L93.64 341.19 L94.65 342.82 L95.65 344.71 L96.66 346.79 L97.66 349.05 L98.67 351.44 L99.67 353.94 L100.68 356.52 L101.68 359.17 L102.69 361.86 L103.69 364.58 L104.7 367.3 L105.7 370.02 L106.71 372.71 L107.72 375.38 L108.72 378.01 L109.73 380.59 L110.73 383.12 L111.74 385.58 L112.74 387.97 L113.75 390.28 L114.75 392.52 L115.76 394.68 L116.76 396.76 L117.77 398.75 L118.78 400.66 L119.78 402.48 L120.79 404.22 L121.79 405.87 L122.8 407.44 L123.8 408.93 L124.81 410.34 L125.81 411.66 L126.82 412.91 L127.82 414.09 L128.83 415.2 L129.83 416.24 L130.84 417.21 L131.85 418.12 L132.85 418.97 L133.86 419.76 L134.86 420.49 L135.87 421.17 L136.87 421.81 L137.88 422.4 L138.88 422.94 L139.89 423.44 L140.89 423.91 L141.9 424.34 L142.9 424.73 L143.91 425.09 L144.92 425.42 L145.92 425.73 L146.93 426.01 L147.93 426.26 L148.94 426.5 L149.94 426.71 L150.95 426.91 L151.95 427.08 L152.96 427.24 L153.96 427.39 L154.97 427.52 L155.98 427.64 L156.98 427.75 L157.99 427.85 L158.99 427.94 L160 428.02 L161 428.09 L162.01 428.16 L163.01 428.21 L164.02 428.27 L165.02 428.32 L166.03 428.36 L167.03 428.4 L168.04 428.43 L169.05 428.46 L170.05 428.49 L171.06 428.51 L172.06 428.53 L173.07 428.55 L174.07 428.57 L175.08 428.59 L176.08 428.6 L177.09 428.61 L178.09 428.62 L179.1 428.63 L180.1 428.64 L181.11 428.65" fill="none" stroke="#ef586b" stroke-width="1.05"/>
<path d="M30.3 428.7 L31.31 428.7 L32.31 428.7 L33.32 428.7 L34.32 428.7 L35.33 428.7 L36.33 428.7 L37.34 428.7 L38.34 428.7 L39.35 428.7 L40.35 428.7 L41.36 428.7 L42.36 428.7 L43.37 428.7 L44.38 428.7 L45.38 428.7 L46.39 428.69 L47.39 428.69 L48.4 428.68 L49.4 428.67 L50.41 428.66 L51.41 428.64 L52.42 428.61 L53.42 428.57 L54.43 428.52 L55.44 428.44 L56.44 428.33 L57.45 428.18 L58.45 427.98 L59.46 427.72 L60.46 427.37 L61.47 426.91 L62.47 426.33 L63.48 425.58 L64.48 424.65 L65.49 423.5 L66.49 422.08 L67.5 420.37 L68.51 418.33 L69.51 415.92 L70.52 413.11 L71.52 409.88 L72.53 406.22 L73.53 402.12 L74.54 397.59 L75.54 392.66 L76.55 387.36 L77.55 381.76 L78.56 375.93 L79.56 369.95 L80.57 363.94 L81.58 358 L82.58 352.25 L83.59 346.81 L84.59 341.81 L85.6 337.35 L86.6 333.53 L87.61 330.44 L88.61 328.11 L89.62 326.6 L90.62 325.88 L91.63 326.02 L92.63 327.04 L93.64 328.54 L94.65 330.41 L95.65 332.56 L96.66 334.95 L97.66 337.53 L98.67 340.27 L99.67 343.13 L100.68 346.09 L101.68 349.12 L102.69 352.2 L103.69 355.3 L104.7 358.42 L105.7 361.53 L106.71 364.62 L107.72 367.67 L108.72 370.68 L109.73 373.64 L110.73 376.52 L111.74 379.34 L112.74 382.08 L113.75 384.73 L114.75 387.29 L115.76 389.76 L116.76 392.14 L117.77 394.42 L118.78 396.61 L119.78 398.69 L120.79 400.68 L121.79 402.57 L122.8 404.37 L123.8 406.07 L124.81 407.68 L125.81 409.2 L126.82 410.63 L127.82 411.98 L128.83 413.25 L129.83 414.43 L130.84 415.55 L131.85 416.59 L132.85 417.56 L133.86 418.46 L134.86 419.3 L135.87 420.09 L136.87 420.81 L137.88 421.49 L138.88 422.11 L139.89 422.68 L140.89 423.22 L141.9 423.7 L142.9 424.16 L143.91 424.57 L144.92 424.95 L145.92 425.3 L146.93 425.62 L147.93 425.91 L148.94 426.18 L149.94 426.42 L150.95 426.65 L151.95 426.85 L152.96 427.03 L153.96 427.2 L154.97 427.35 L155.98 427.49 L156.98 427.61 L157.99 427.73 L158.99 427.83 L160 427.92 L161 428 L162.01 428.08 L163.01 428.14 L164.02 428.21 L165.02 428.26 L166.03 428.31 L167.03 428.35 L168.04 428.39 L169.05 428.43 L170.05 428.46 L171.06 428.48 L172.06 428.51 L173.07 428.53 L174.07 428.55 L175.08 428.57 L176.08 428.58 L177.09 428.6 L178.09 428.61 L179.1 428.62 L180.1 428.63 L181.11 428.64" fill="none" stroke="#ee4f68" stroke-width="1.05"/>
</g>
<rect x="30.2" y="307.9" width="151" height="122.1" fill="none" stroke="#3a3a3a" stroke-width="1" />
<line x1="30.3" y1="430" x2="30.3" y2="432.2" stroke="#3a3a3a" stroke-width="0.8" />
<line x1="42.87" y1="430" x2="42.87" y2="431.3" stroke="#3a3a3a" stroke-width="0.8" />
<line x1="55.44" y1="430" x2="55.44" y2="432.2" stroke="#3a3a3a" stroke-width="0.8" />
<line x1="68" y1="430" x2="68" y2="431.3" stroke="#3a3a3a" stroke-width="0.8" />
<line x1="80.57" y1="430" x2="80.57" y2="432.2" stroke="#3a3a3a" stroke-width="0.8" />
<line x1="93.14" y1="430" x2="93.14" y2="431.3" stroke="#3a3a3a" stroke-width="0.8" />
<line x1="105.7" y1="430" x2="105.7" y2="432.2" stroke="#3a3a3a" stroke-width="0.8" />
<line x1="118.27" y1="430" x2="118.27" y2="431.3" stroke="#3a3a3a" stroke-width="0.8" />
<line x1="130.84" y1="430" x2="130.84" y2="432.2" stroke="#3a3a3a" stroke-width="0.8" />
<line x1="143.41" y1="430" x2="143.41" y2="431.3" stroke="#3a3a3a" stroke-width="0.8" />
<line x1="155.98" y1="430" x2="155.98" y2="432.2" stroke="#3a3a3a" stroke-width="0.8" />
<line x1="168.54" y1="430" x2="168.54" y2="431.3" stroke="#3a3a3a" stroke-width="0.8" />
<line x1="181.11" y1="430" x2="181.11" y2="432.2" stroke="#3a3a3a" stroke-width="0.8" />
<text x="30.3" y="439.8" font-size="7.8" fill="#1a1a1a" text-anchor="middle" >500</text>
<text x="55.44" y="439.8" font-size="7.8" fill="#1a1a1a" text-anchor="middle" >550</text>
<text x="80.57" y="439.8" font-size="7.8" fill="#1a1a1a" text-anchor="middle" >600</text>
<text x="105.7" y="439.8" font-size="7.8" fill="#1a1a1a" text-anchor="middle" >650</text>
<text x="130.84" y="439.8" font-size="7.8" fill="#1a1a1a" text-anchor="middle" >700</text>
<text x="155.98" y="439.8" font-size="7.8" fill="#1a1a1a" text-anchor="middle" >750</text>
<text x="181.11" y="439.8" font-size="7.8" fill="#1a1a1a" text-anchor="middle" >800</text>
<text x="105.5" y="452.3" font-size="7.9" fill="#1a1a1a" text-anchor="middle" >Wavelength (nm)</text>
<text font-size="8.3" fill="#1a1a1a" text-anchor="middle" transform="translate(24.4 377) rotate(-90)" >ML Intensity (a.u.)</text>
<text x="34.2" y="318.8" font-size="7.9" fill="#1a1a1a" >CaZnOS:0.03Mn<tspan dy="-2.8" font-size="4.8">2+</tspan><tspan dy="2.8" font-size="0.1">&#8203;</tspan></text>
<line x1="145.8" y1="314.8" x2="154.4" y2="314.8" stroke="#ee4f68" stroke-width="1" />
<text x="158.8" y="316.9" font-size="5.8" fill="#f4a585" >5.0 N</text>
<line x1="145.8" y1="322.5" x2="154.4" y2="322.5" stroke="#ef586b" stroke-width="1" />
<text x="158.8" y="324.6" font-size="5.8" fill="#f4a585" >7.5 N</text>
<line x1="145.8" y1="330.2" x2="154.4" y2="330.2" stroke="#f0636e" stroke-width="1" />
<text x="158.8" y="332.3" font-size="5.8" fill="#f4a585" >10.0 N</text>
<line x1="145.8" y1="337.9" x2="154.4" y2="337.9" stroke="#f17072" stroke-width="1" />
<text x="158.8" y="340" font-size="5.8" fill="#f4a585" >12.5 N</text>
<line x1="145.8" y1="345.6" x2="154.4" y2="345.6" stroke="#f37e77" stroke-width="1" />
<text x="158.8" y="347.7" font-size="5.8" fill="#f4a585" >15.0 N</text>
<line x1="145.8" y1="353.3" x2="154.4" y2="353.3" stroke="#f58f7d" stroke-width="1" />
<text x="158.8" y="355.4" font-size="5.8" fill="#f4a585" >17.5 N</text>
<line x1="145.8" y1="361" x2="154.4" y2="361" stroke="#f6a081" stroke-width="1" />
<text x="158.8" y="363.1" font-size="5.8" fill="#f4a585" >20.0 N</text>
<line x1="145.8" y1="368.7" x2="154.4" y2="368.7" stroke="#f7ae84" stroke-width="1" />
<text x="158.8" y="370.8" font-size="5.8" fill="#f4a585" >22.5 N</text>
<line x1="145.8" y1="376.4" x2="154.4" y2="376.4" stroke="#f8b884" stroke-width="1" />
<text x="158.8" y="378.5" font-size="5.8" fill="#f4a585" >25.0 N</text>
<rect x="145.8" y="381.7" width="8.6" height="4.8" fill="#f9d3db" stroke="#f6b9c6" stroke-width="0.5" />
<text x="158.8" y="386.2" font-size="5.8" fill="#f4a585" >27.5 N</text>
<text x="10.8" y="318.4" font-size="16.5" fill="#000" font-weight="bold" >(f)</text></g>
<g id="g"><rect x="214" y="307.8" width="151.6" height="121.6" fill="url(#gg)" />
<line x1="219.4" y1="420.2" x2="359.4" y2="389.4" stroke="#8fcf8f" stroke-width="1.25" stroke-dasharray="1.3 1.5"/>
<line x1="219.4" y1="419.8" x2="359.4" y2="388.8" stroke="#6f8ff0" stroke-width="1.25" stroke-dasharray="1.3 1.5"/>
<line x1="219.4" y1="421.5" x2="345.4" y2="341" stroke="#f7a878" stroke-width="1.25" stroke-dasharray="1.3 1.5"/>
<line x1="219.4" y1="422" x2="345.4" y2="323" stroke="#f26a72" stroke-width="1.25" stroke-dasharray="1.3 1.5"/>
<circle cx="219.4" cy="416.8" r="3.7" fill="url(#sp)"/>
<circle cx="233.4" cy="412.2" r="3.7" fill="url(#sp)"/>
<circle cx="247.4" cy="404.5" r="3.7" fill="url(#sp)"/>
<circle cx="261.4" cy="396.1" r="3.7" fill="url(#sp)"/>
<circle cx="275.4" cy="384.3" r="3.7" fill="url(#sp)"/>
<circle cx="289.4" cy="369.4" r="3.7" fill="url(#sp)"/>
<circle cx="303.4" cy="359.5" r="3.7" fill="url(#sp)"/>
<circle cx="317.4" cy="348" r="3.7" fill="url(#sp)"/>
<circle cx="331.4" cy="335" r="3.7" fill="url(#sp)"/>
<circle cx="345.4" cy="323.2" r="3.7" fill="url(#sp)"/>
<path d="M219.4 414.4 L223 418 L219.4 421.6 L215.8 418Z" fill="#f9b083"/>
<path d="M233.4 408.8 L237 412.4 L233.4 416 L229.8 412.4Z" fill="#f9b083"/>
<path d="M247.4 402.9 L251 406.5 L247.4 410.1 L243.8 406.5Z" fill="#f9b083"/>
<path d="M261.4 397.1 L265 400.7 L261.4 404.3 L257.8 400.7Z" fill="#f9b083"/>
<path d="M275.4 389.4 L279 393 L275.4 396.6 L271.8 393Z" fill="#f9b083"/>
<path d="M289.4 379.9 L293 383.5 L289.4 387.1 L285.8 383.5Z" fill="#f9b083"/>
<path d="M303.4 367.4 L307 371 L303.4 374.6 L299.8 371Z" fill="#f9b083"/>
<path d="M317.4 357 L321 360.6 L317.4 364.2 L313.8 360.6Z" fill="#f9b083"/>
<path d="M331.4 346.4 L335 350 L331.4 353.6 L327.8 350Z" fill="#f9b083"/>
<path d="M345.4 338.2 L349 341.8 L345.4 345.4 L341.8 341.8Z" fill="#f9b083"/>
<path d="M219.4 415.6 L222.25 420.85 L216.55 420.85Z" fill="#a9dc8c"/>
<path d="M247.4 411 L250.25 416.25 L244.55 416.25Z" fill="#a9dc8c"/>
<path d="M275.4 406.9 L278.25 412.15 L272.55 412.15Z" fill="#a9dc8c"/>
<path d="M303.4 401.3 L306.25 406.55 L300.55 406.55Z" fill="#a9dc8c"/>
<path d="M331.4 392.2 L334.25 397.45 L328.55 397.45Z" fill="#a9dc8c"/>
<path d="M359.4 383.6 L362.25 388.85 L356.55 388.85Z" fill="#a9dc8c"/>
<path d="M219.4 422 L222.25 416.75 L216.55 416.75Z" fill="#7b9cf5"/>
<path d="M247.4 417.3 L250.25 412.05 L244.55 412.05Z" fill="#7b9cf5"/>
<path d="M275.4 413.2 L278.25 407.95 L272.55 407.95Z" fill="#7b9cf5"/>
<path d="M303.4 406.9 L306.25 401.65 L300.55 401.65Z" fill="#7b9cf5"/>
<path d="M331.4 398.6 L334.25 393.35 L328.55 393.35Z" fill="#7b9cf5"/>
<path d="M359.4 389.3 L362.25 384.05 L356.55 384.05Z" fill="#7b9cf5"/>
<rect x="214" y="307.8" width="151.6" height="121.6" fill="none" stroke="#3a3a3a" stroke-width="1" />
<line x1="219.4" y1="429.4" x2="219.4" y2="431.6" stroke="#3a3a3a" stroke-width="0.8" />
<line x1="233.4" y1="429.4" x2="233.4" y2="430.7" stroke="#3a3a3a" stroke-width="0.8" />
<line x1="247.4" y1="429.4" x2="247.4" y2="431.6" stroke="#3a3a3a" stroke-width="0.8" />
<line x1="261.4" y1="429.4" x2="261.4" y2="430.7" stroke="#3a3a3a" stroke-width="0.8" />
<line x1="275.4" y1="429.4" x2="275.4" y2="431.6" stroke="#3a3a3a" stroke-width="0.8" />
<line x1="289.4" y1="429.4" x2="289.4" y2="430.7" stroke="#3a3a3a" stroke-width="0.8" />
<line x1="303.4" y1="429.4" x2="303.4" y2="431.6" stroke="#3a3a3a" stroke-width="0.8" />
<line x1="317.4" y1="429.4" x2="317.4" y2="430.7" stroke="#3a3a3a" stroke-width="0.8" />
<line x1="331.4" y1="429.4" x2="331.4" y2="431.6" stroke="#3a3a3a" stroke-width="0.8" />
<line x1="345.4" y1="429.4" x2="345.4" y2="430.7" stroke="#3a3a3a" stroke-width="0.8" />
<line x1="359.4" y1="429.4" x2="359.4" y2="431.6" stroke="#3a3a3a" stroke-width="0.8" />
<text x="219.4" y="439.8" font-size="8" fill="#1a1a1a" text-anchor="middle" >5</text>
<text x="247.4" y="439.8" font-size="8" fill="#1a1a1a" text-anchor="middle" >10</text>
<text x="275.4" y="439.8" font-size="8" fill="#1a1a1a" text-anchor="middle" >15</text>
<text x="303.4" y="439.8" font-size="8" fill="#1a1a1a" text-anchor="middle" >20</text>
<text x="331.4" y="439.8" font-size="8" fill="#1a1a1a" text-anchor="middle" >25</text>
<text x="359.4" y="439.8" font-size="8" fill="#1a1a1a" text-anchor="middle" >30</text>
<text x="289.6" y="453" font-size="8.2" fill="#1a1a1a" text-anchor="middle" >Force (N)</text>
<text font-size="8" fill="#1a1a1a" text-anchor="middle" transform="translate(208.6 366.5) rotate(-90)" >Integrated Intensity (a.u.)</text>
<text x="218" y="316.8" font-size="6.35" fill="#1a1a1a" >CaZnOS:0.03Mn<tspan dy="-2.3" font-size="3.9">2+</tspan><tspan dy="2.3" font-size="0.1">&#8203;</tspan></text>
<circle cx="220.8" cy="325" r="3" fill="url(#sp)"/>
<path d="M220.8 329.2 L224 332.4 L220.8 335.6 L217.6 332.4Z" fill="#f9b083"/>
<path d="M220.8 337.8 L223.46 342.7 L218.14 342.7Z" fill="#a9dc8c"/>
<path d="M220.8 351.1 L223.46 346.2 L218.14 346.2Z" fill="#7b9cf5"/>
<text x="229" y="327.3" font-size="6.3" fill="#1a1a1a" >PDMS</text>
<text x="252.4" y="327.3" font-size="6.65" fill="#1a1a1a" >R<tspan dy="-2.4" font-size="3.9">2</tspan><tspan dy="2.4" font-size="0.1">&#8203;</tspan> = 0.9909</text>
<text x="229" y="334.9" font-size="6.3" fill="#1a1a1a" >PU</text>
<text x="252.4" y="334.9" font-size="6.65" fill="#1a1a1a" >R<tspan dy="-2.4" font-size="3.9">2</tspan><tspan dy="2.4" font-size="0.1">&#8203;</tspan> = 0.9840</text>
<text x="229" y="342.7" font-size="6.3" fill="#1a1a1a" >SIL</text>
<text x="252.4" y="342.7" font-size="6.65" fill="#1a1a1a" >R<tspan dy="-2.4" font-size="3.9">2</tspan><tspan dy="2.4" font-size="0.1">&#8203;</tspan> = 0.9647</text>
<text x="229" y="350.5" font-size="6.3" fill="#1a1a1a" >RTV-2</text>
<text x="252.4" y="350.5" font-size="6.65" fill="#1a1a1a" >R<tspan dy="-2.4" font-size="3.9">2</tspan><tspan dy="2.4" font-size="0.1">&#8203;</tspan> = 0.9759</text>
<text x="191" y="318.3" font-size="16.5" fill="#000" font-weight="bold" >(g)</text></g>
<g id="i"><rect x="30.3" y="462.8" width="142.1" height="115.2" fill="url(#gi)" />
<path d="M30.5 577.7 L32.6 575 L35.2 572.6 L39 569.8 L43 567.3 L49.5 564 L56 560.8 L69 553.2 L82 545.8 L95 538.7 L101.5 534.6 L108 530.1 L114.5 525.5 L121 520.5 L127.5 515 L134 508.8 L140.5 502 L147 494.5 L153.5 487.2 L160.2 479.5 L161 500 L161.4 577.8" fill="none" stroke="#5443e6" stroke-width="1.2" stroke-linejoin="round"/>
<rect x="30.3" y="462.8" width="142.1" height="115.2" fill="none" stroke="#3a3a3a" stroke-width="1" />
<line x1="30.4" y1="578" x2="30.4" y2="580.2" stroke="#3a3a3a" stroke-width="0.8" />
<line x1="39.92" y1="578" x2="39.92" y2="579.3" stroke="#3a3a3a" stroke-width="0.8" />
<line x1="49.45" y1="578" x2="49.45" y2="580.2" stroke="#3a3a3a" stroke-width="0.8" />
<line x1="58.97" y1="578" x2="58.97" y2="579.3" stroke="#3a3a3a" stroke-width="0.8" />
<line x1="68.5" y1="578" x2="68.5" y2="580.2" stroke="#3a3a3a" stroke-width="0.8" />
<line x1="78.03" y1="578" x2="78.03" y2="579.3" stroke="#3a3a3a" stroke-width="0.8" />
<line x1="87.55" y1="578" x2="87.55" y2="580.2" stroke="#3a3a3a" stroke-width="0.8" />
<line x1="97.07" y1="578" x2="97.07" y2="579.3" stroke="#3a3a3a" stroke-width="0.8" />
<line x1="106.6" y1="578" x2="106.6" y2="580.2" stroke="#3a3a3a" stroke-width="0.8" />
<line x1="116.12" y1="578" x2="116.12" y2="579.3" stroke="#3a3a3a" stroke-width="0.8" />
<line x1="125.65" y1="578" x2="125.65" y2="580.2" stroke="#3a3a3a" stroke-width="0.8" />
<line x1="135.18" y1="578" x2="135.18" y2="579.3" stroke="#3a3a3a" stroke-width="0.8" />
<line x1="144.7" y1="578" x2="144.7" y2="580.2" stroke="#3a3a3a" stroke-width="0.8" />
<line x1="154.22" y1="578" x2="154.22" y2="579.3" stroke="#3a3a3a" stroke-width="0.8" />
<line x1="163.75" y1="578" x2="163.75" y2="580.2" stroke="#3a3a3a" stroke-width="0.8" />
<text x="30.4" y="587.9" font-size="7" fill="#1a1a1a" text-anchor="middle" >0</text>
<text x="49.45" y="587.9" font-size="7" fill="#1a1a1a" text-anchor="middle" >10</text>
<text x="68.5" y="587.9" font-size="7" fill="#1a1a1a" text-anchor="middle" >20</text>
<text x="87.55" y="587.9" font-size="7" fill="#1a1a1a" text-anchor="middle" >30</text>
<text x="106.6" y="587.9" font-size="7" fill="#1a1a1a" text-anchor="middle" >40</text>
<text x="125.65" y="587.9" font-size="7" fill="#1a1a1a" text-anchor="middle" >50</text>
<text x="144.7" y="587.9" font-size="7" fill="#1a1a1a" text-anchor="middle" >60</text>
<text x="163.75" y="587.9" font-size="7" fill="#1a1a1a" text-anchor="middle" >70</text>
<text x="101.5" y="600.4" font-size="7.6" fill="#1a1a1a" text-anchor="middle" >Elastic Strain (%)</text>
<text font-size="7.3" fill="#1a1a1a" text-anchor="middle" transform="translate(25.2 520) rotate(-90)" >Stress (Mpa)</text>
<line x1="34.5" y1="470.5" x2="47" y2="470.5" stroke="#5443e6" stroke-width="1.1" />
<text x="50" y="472.7" font-size="6.1" fill="#1a1a1a" >CaZnOS:0.03Mn<tspan dy="-2" font-size="3.4">2+</tspan><tspan dy="2" font-size="0.1">&#8203;</tspan>/PDMS</text>
<text x="11.5" y="463.1" font-size="16.5" fill="#000" font-weight="bold" >(i)</text></g>
<g id="j"><rect x="193.5" y="462.4" width="344.1" height="124" fill="#ffffff" />
<rect x="195" y="477.2" width="340.8" height="107.4" fill="#e8dcf3" />
<pattern id="pj" width="1.29" height="10" patternUnits="userSpaceOnUse"><rect width="0.5" height="10" fill="#dccbed" fill-opacity="0.35"/></pattern>
<rect x="195" y="477.2" width="340.8" height="107.4" fill="url(#pj)" />
<rect x="193.5" y="462.4" width="344.1" height="124" fill="none" stroke="#3a3a3a" stroke-width="1.1" />
<line x1="194.9" y1="586.4" x2="194.9" y2="589.4" stroke="#3a3a3a" stroke-width="0.9" />
<line x1="215.1" y1="586.4" x2="215.1" y2="588" stroke="#3a3a3a" stroke-width="0.9" />
<line x1="235.3" y1="586.4" x2="235.3" y2="589.4" stroke="#3a3a3a" stroke-width="0.9" />
<line x1="255.5" y1="586.4" x2="255.5" y2="588" stroke="#3a3a3a" stroke-width="0.9" />
<line x1="275.7" y1="586.4" x2="275.7" y2="589.4" stroke="#3a3a3a" stroke-width="0.9" />
<line x1="295.9" y1="586.4" x2="295.9" y2="588" stroke="#3a3a3a" stroke-width="0.9" />
<line x1="316.1" y1="586.4" x2="316.1" y2="589.4" stroke="#3a3a3a" stroke-width="0.9" />
<line x1="336.3" y1="586.4" x2="336.3" y2="588" stroke="#3a3a3a" stroke-width="0.9" />
<line x1="356.5" y1="586.4" x2="356.5" y2="589.4" stroke="#3a3a3a" stroke-width="0.9" />
<line x1="376.7" y1="586.4" x2="376.7" y2="588" stroke="#3a3a3a" stroke-width="0.9" />
<line x1="396.9" y1="586.4" x2="396.9" y2="589.4" stroke="#3a3a3a" stroke-width="0.9" />
<line x1="417.1" y1="586.4" x2="417.1" y2="588" stroke="#3a3a3a" stroke-width="0.9" />
<line x1="437.3" y1="586.4" x2="437.3" y2="589.4" stroke="#3a3a3a" stroke-width="0.9" />
<line x1="457.5" y1="586.4" x2="457.5" y2="588" stroke="#3a3a3a" stroke-width="0.9" />
<line x1="477.7" y1="586.4" x2="477.7" y2="589.4" stroke="#3a3a3a" stroke-width="0.9" />
<line x1="497.9" y1="586.4" x2="497.9" y2="588" stroke="#3a3a3a" stroke-width="0.9" />
<line x1="518.1" y1="586.4" x2="518.1" y2="589.4" stroke="#3a3a3a" stroke-width="0.9" />
<text x="194.9" y="601" font-size="10.4" fill="#1a1a1a" text-anchor="middle" >0</text>
<text x="235.3" y="601" font-size="10.4" fill="#1a1a1a" text-anchor="middle" >250</text>
<text x="275.7" y="601" font-size="10.4" fill="#1a1a1a" text-anchor="middle" >500</text>
<text x="316.1" y="601" font-size="10.4" fill="#1a1a1a" text-anchor="middle" >750</text>
<text x="356.5" y="601" font-size="10.4" fill="#1a1a1a" text-anchor="middle" >1000</text>
<text x="396.9" y="601" font-size="10.4" fill="#1a1a1a" text-anchor="middle" >1250</text>
<text x="437.3" y="601" font-size="10.4" fill="#1a1a1a" text-anchor="middle" >1500</text>
<text x="477.7" y="601" font-size="10.4" fill="#1a1a1a" text-anchor="middle" >1750</text>
<text x="518.1" y="601" font-size="10.4" fill="#1a1a1a" text-anchor="middle" >2000</text>
<text x="365.8" y="614" font-size="12.6" fill="#1a1a1a" text-anchor="middle" >Time (s)</text>
<text font-size="9.85" fill="#1a1a1a" text-anchor="middle" transform="translate(188.2 523.5) rotate(-90)" >Elastic Deformation (mm)</text>
<line x1="196.4" y1="469.2" x2="213.6" y2="469.2" stroke="#e0d3f0" stroke-width="0.9" />
<text x="218" y="472.6" font-size="8.8" fill="#1a1a1a" >CaZnOS:0.03Mn<tspan dy="-3" font-size="5.2">2+</tspan><tspan dy="3" font-size="0.1">&#8203;</tspan>/PDMS</text>
<text x="536.4" y="472.8" font-size="9.05" fill="#1a1a1a" text-anchor="end" >Cycle Number: 250</text>
<rect x="359.4" y="491" width="175.6" height="88.2" fill="#ffffff" />
<path d="M376.5 563.8 L379.11 501.3 L381.72 563.8 L384.33 501.3 L386.94 563.8 L389.55 501.3 L392.16 563.8 L394.77 501.3 L397.38 563.8 L399.99 501.3 L402.6 563.8 L405.21 501.3 L407.82 563.8 L410.43 501.3 L413.04 563.8 L415.65 501.3 L418.25 563.8 L420.86 501.3 L423.47 563.8 L426.08 501.3 L428.69 563.8 L431.3 501.3 L433.91 563.8 L436.52 501.3 L439.13 563.8 L441.74 501.3 L444.35 563.8 L446.96 501.3 L449.57 563.8 L452.18 501.3 L454.79 563.8 L457.4 501.3 L460.01 563.8 L462.62 501.3 L465.23 563.8 L467.84 501.3 L470.45 563.8 L473.06 501.3 L475.67 563.8 L478.28 501.3 L480.89 563.8 L483.5 501.3 L486.11 563.8 L488.72 501.3 L491.33 563.8 L493.94 501.3 L496.54 563.8 L499.15 501.3 L501.76 563.8 L504.37 501.3 L506.98 563.8 L509.59 501.3 L512.2 563.8 L514.81 501.3 L517.42 563.8 L520.03 501.3 L522.64 563.8 L525.25 501.3 L527.86 563.8 L530.47 501.3 L533.08 563.8" fill="none" stroke="#f9b27c" stroke-width="0.55" stroke-linejoin="miter"/>
<rect x="371" y="493.3" width="161.6" height="72.7" fill="none" stroke="#555" stroke-width="0.8" />
<line x1="376.5" y1="566" x2="376.5" y2="567.3" stroke="#555" stroke-width="0.6" />
<text x="376.5" y="571.9" font-size="4.9" fill="#333" text-anchor="middle" >0</text>
<line x1="406.6" y1="566" x2="406.6" y2="567.3" stroke="#555" stroke-width="0.6" />
<text x="406.6" y="571.9" font-size="4.9" fill="#333" text-anchor="middle" >50</text>
<line x1="436.7" y1="566" x2="436.7" y2="567.3" stroke="#555" stroke-width="0.6" />
<text x="436.7" y="571.9" font-size="4.9" fill="#333" text-anchor="middle" >100</text>
<line x1="466.8" y1="566" x2="466.8" y2="567.3" stroke="#555" stroke-width="0.6" />
<text x="466.8" y="571.9" font-size="4.9" fill="#333" text-anchor="middle" >150</text>
<line x1="496.9" y1="566" x2="496.9" y2="567.3" stroke="#555" stroke-width="0.6" />
<text x="496.9" y="571.9" font-size="4.9" fill="#333" text-anchor="middle" >200</text>
<line x1="527" y1="566" x2="527" y2="567.3" stroke="#555" stroke-width="0.6" />
<text x="527" y="571.9" font-size="4.9" fill="#333" text-anchor="middle" >250</text>
<text x="453.4" y="576.6" font-size="6.1" fill="#333" text-anchor="middle" >Time (s)</text>
<text font-size="5.3" fill="#333" text-anchor="middle" transform="translate(367.8 529.6) rotate(-90)" >Elastic  Deformation (mm)</text>
<line x1="373" y1="497.6" x2="378" y2="497.6" stroke="#f9cfa8" stroke-width="0.6" />
<text x="382" y="499.2" font-size="4.8" fill="#333" >CaZnOS:0.03Mn<tspan dy="-1.4" font-size="2.6">2+</tspan><tspan dy="1.4" font-size="0.1">&#8203;</tspan>/PDMS</text>
<text x="531" y="499.3" font-size="4.8" fill="#333" text-anchor="end" >Cycle Number: 30</text>
<text x="175.8" y="463.1" font-size="16.5" fill="#000" font-weight="bold" >(j)</text></g>
<g id="a"><g clip-path="url(#ca)">
<rect x="29" y="12" width="130" height="116" fill="#071a34" />
<ellipse cx="74" cy="40" rx="26" ry="16" fill="#0d3f7a" filter="url(#b8)"/>
<ellipse cx="36" cy="22" rx="16" ry="12" fill="#050c18" filter="url(#b8)"/>
<ellipse cx="138" cy="30" rx="30" ry="24" fill="#0a0f14" filter="url(#b8)"/>
<ellipse cx="150" cy="20" rx="14" ry="14" fill="#0c1014" filter="url(#b4)"/>
<ellipse cx="58" cy="104" rx="38" ry="24" fill="#1868ba" filter="url(#b8)"/>
<ellipse cx="34" cy="90" rx="6" ry="30" fill="#1260b0" filter="url(#b4)"/>
<ellipse cx="70" cy="72" rx="26" ry="12" fill="#092c5c" filter="url(#b4)"/>
<path d="M84 88 C85.33 85 92 82.33 96 82 C100 81.67 105.33 83 108 86 C110.67 89 112.33 95.33 112 100 C111.67 104.67 109 110.67 106 114 C103 117.33 97.33 120.33 94 120 C90.67 119.67 87 115.33 86 112 C85 108.67 88.33 104 88 100 C87.67 96 82.67 91 84 88Z" fill="#061a36" filter="url(#b2)" fill-opacity="0.92"/>
<ellipse cx="72" cy="120" rx="22" ry="7" fill="#1c86da" filter="url(#b4)" fill-opacity="0.8"/>
<path d="M119.15 71.61 C118.09 66.52 120.84 56.56 122.96 51.26 C125.08 45.96 129.11 41.08 131.87 39.81 C134.63 38.53 138.44 39.59 139.5 43.62 C140.56 47.65 139.93 57.62 138.23 63.98 C136.54 70.34 132.51 80.52 129.33 81.79 C126.15 83.06 120.21 76.7 119.15 71.61Z" fill="#0d62b8" filter="url(#b1)"/>
<path d="M93.7 25.81 L131.87 14.36 L144.59 56.35 L108.97 71.61Z" fill="#1a3450" fill-opacity="0.6"/>
<path d="M101.7 31.2 C103.1 29.92 108.49 31.82 110.4 32.6 C112.31 33.38 119.19 37.87 120.8 39 C122.41 40.13 126.28 42.5 126.5 43.9 C126.72 45.3 123.79 51.23 123 53 C122.21 54.77 120.2 61.55 118.6 61.6 C117 61.65 109.22 55.12 107 53.5 C104.78 51.88 96.93 47.63 96.4 45.4 C95.87 43.17 100.3 32.48 101.7 31.2Z" fill="#4fa4d8" filter="url(#b1)"/>
<path d="M101.7 32.2 C102.82 31.06 107.77 31.82 108 33.6 C108.23 35.38 105.12 48.86 104 50 C102.88 51.14 97.03 46.78 96.8 45 C96.57 43.22 100.58 33.34 101.7 32.2Z" fill="#86c6ee" fill-opacity="0.55" filter="url(#b1)"/>
<path d="M112.8 93.2 C114.16 89.2 118.16 80.09 119.7 76.7 C121.24 73.31 122.5 71.8 123.6 69.5 C124.7 67.2 126.31 63.1 127.4 60.6 C128.49 58.1 129.41 54 131.2 52 C132.99 50 136.84 47.46 139.9 46.6 C142.96 45.74 149.93 45.71 152.6 46 C155.27 46.29 157.4 45.17 158.6 48.6 C159.8 52.03 160.66 58.37 161 70 C161.34 81.63 172.29 121.43 161 130 C149.71 138.57 92.53 131.99 82 130 C71.47 128.01 84.54 119.17 87.3 116.1 C90.06 113.03 98.03 110.13 101.3 108.5 C104.57 106.87 108.56 106.89 110.2 104.7 C111.84 102.51 111.44 97.2 112.8 93.2Z" fill="url(#glv)" filter="url(#b1)"/>
<path d="M126 92 C126.67 85 131.33 76 134 70 C136.67 64 139 58 142 56 C145 54 150 53.33 152 58 C154 62.67 155 75.67 154 84 C153 92.33 150 103.33 146 108 C142 112.67 133.33 114.67 130 112 C126.67 109.33 125.33 99 126 92Z" fill="#34b2ff" fill-opacity="0.6" filter="url(#b2)"/>
<path d="M112 112 C113.67 106.33 119 96 122 94 C125 92 129.33 95.33 130 100 C130.67 104.67 129 117.33 126 122 C123 126.67 114.33 129.67 112 128 C109.67 126.33 110.33 117.67 112 112Z" fill="#0a4fa6" fill-opacity="0.5" filter="url(#b2)"/>
<path d="M150 60 C151 53.33 156.33 49.33 158 56 C159.67 62.67 161 93.33 160 100 C159 106.67 153.67 102.67 152 96 C150.33 89.33 149 66.67 150 60Z" fill="#0a4fa6" fill-opacity="0.45" filter="url(#b2)"/>
<path d="M33 66 Q27 96 52 116 Q64 126 80 128" fill="none" stroke="#9fd4f2" stroke-opacity="0.55" stroke-width="1.1" filter="url(#b1)"/>
<path d="M37 70 Q33 96 56 114 Q68 123 84 125" fill="none" stroke="#7fbfe8" stroke-opacity="0.35" stroke-width="0.9" filter="url(#b1)"/>
<path d="M33 66 Q40 50 56 50" fill="none" stroke="#9fd4f2" stroke-opacity="0.3" stroke-width="0.9" filter="url(#b1)"/>
<text font-size="7.9" fill="#e4eef8" font-weight="bold" transform="translate(107.6 27.8) rotate(31.6)" >100n</text>
<text font-size="6.4" fill="#c8d8e8" font-weight="bold" transform="translate(111 21.2) rotate(32)" >11c</text>
<line x1="105" y1="16.6" x2="110.2" y2="18.4" stroke="#c8d8e8" stroke-width="0.8" />
<path d="M51.5 58.6 C51.98 57.73 53.36 55.12 54.8 54 C56.24 52.88 61.16 50.27 63 49.6 C64.84 48.93 68.06 48.49 69.5 48.6 C70.94 48.71 72.86 50.65 74.5 50.5 C76.14 50.35 80.97 47.49 82.6 47.4 C84.22 47.31 86.26 48.85 87.5 49.8 C88.74 50.75 91.47 53.79 92.5 55 C93.53 56.21 94.89 58.4 95.7 59.5 C96.51 60.6 97.97 63.4 99 63.8 C100.03 64.2 102.88 62.43 103.9 62.7 C104.93 62.98 105.98 65.29 107.2 66 C108.42 66.71 112.28 67.56 113.7 68.4 C115.12 69.24 117.57 71.34 118.6 72.7 C119.62 74.06 121.69 77.84 121.9 79.3 C122.11 80.76 120.86 83.11 120.3 84.4 C119.74 85.69 118.56 89.57 117.4 89.6 C116.24 89.62 112.89 85.97 111 84.6 C109.11 83.22 104.41 80.01 102.3 78.6 C100.19 77.19 95.95 74.42 94.1 73.3 C92.25 72.17 89.55 70.38 87.5 69.6 C85.45 68.82 80.96 67.59 77.7 67.1 C74.44 66.61 64.74 66.46 61.4 65.7 C58.06 64.94 52.24 61.89 51 61 C49.76 60.11 51.02 59.48 51.5 58.6Z" fill="#8ea6bc" filter="url(#b1)"/>
<path d="M51.5 58.6 C50.67 57.46 53.36 55.12 54.8 54 C56.24 52.88 61.16 50.27 63 49.6 C64.84 48.93 68.06 48.49 69.5 48.6 C70.94 48.71 72.86 50.65 74.5 50.5 C76.14 50.35 80.97 47.49 82.6 47.4 C84.22 47.31 86.26 48.85 87.5 49.8 C88.74 50.75 91.47 53.79 92.5 55 C93.53 56.21 94.89 58.4 95.7 59.5 C96.51 60.6 97.97 63.4 99 63.8 C100.03 64.2 102.88 62.43 103.9 62.7 C104.93 62.98 105.98 65.29 107.2 66 C108.42 66.71 112.28 67.56 113.7 68.4 C115.12 69.24 117.57 71.34 118.6 72.7 C119.62 74.06 121.69 77.84 121.9 79.3 C122.11 80.76 120.86 83.11 120.3 84.4 C119.74 85.69 118.56 89.85 117.4 89.6 C116.24 89.35 112.89 84.1 111 82.4 C109.11 80.7 104.41 77.51 102.3 76 C100.19 74.49 95.95 71.5 94.1 70.3 C92.25 69.1 89.55 67.2 87.5 66.4 C85.45 65.6 80.96 64.31 77.7 63.9 C74.44 63.49 64.67 63.76 61.4 63.1 C58.12 62.44 52.33 59.74 51.5 58.6Z" fill="#edf2f6" filter="url(#b1)"/>
<path d="M90 74 C91.33 73 96.67 75.67 100 78 C103.33 80.33 108.17 85 110 88 C111.83 91 112.33 95 111 96 C109.67 97 105.17 96 102 94 C98.83 92 94 87.33 92 84 C90 80.67 88.67 75 90 74Z" fill="#9fc4e4" fill-opacity="0.55" filter="url(#b2)"/>
<circle cx="114.6" cy="73.6" r="0.9" fill="#55606c"/><circle cx="116.6" cy="77.4" r="0.7" fill="#667380"/><circle cx="104.0" cy="67.6" r="0.7" fill="#7f8c98"/>
<line x1="90.8" y1="67.6" x2="117" y2="88.6" stroke="#ff4a1a" stroke-width="2.2" filter="url(#b1)" stroke-opacity="0.8"/>
<line x1="90.8" y1="67.6" x2="117" y2="88.6" stroke="#ff8a4a" stroke-width="0.9" />
<line x1="129.6" y1="33.6" x2="113.6" y2="62" stroke="#f6b400" stroke-width="2.8" />
<path d="M106.6 58.4 L119.6 64.0 L109.0 70.4Z" fill="#f6b400"/>
<text x="54.3" y="41.6" font-size="13.2" fill="#f6b800" font-weight="bold" >Rubbing</text>
</g>
<rect x="160.5" y="12.4" width="58.1" height="56.8" fill="url(#tg0)" />
<rect x="160.5" y="70" width="58.1" height="57.3" fill="#020202" />
<circle cx="189.7" cy="98.5" r="13.4" fill="url(#redc)"/>
<rect x="220" y="12.4" width="57.6" height="56.8" fill="url(#tg1)" />
<rect x="220" y="70" width="57.6" height="57.3" fill="#020202" />
<circle cx="248.6" cy="98.5" r="13.4" fill="url(#redc)"/>
<rect x="279" y="12.4" width="56.7" height="56.8" fill="url(#tg2)" />
<rect x="279" y="70" width="56.7" height="57.3" fill="#020202" />
<circle cx="307.5" cy="98.5" r="13.4" fill="url(#redc)"/>
<rect x="337" y="12.4" width="57.6" height="56.8" fill="url(#tg3)" />
<rect x="337" y="70" width="57.6" height="57.3" fill="#020202" />
<circle cx="366.1" cy="98.5" r="13.4" fill="url(#redc)"/>
<circle cx="188.9" cy="41.1" r="13.6" fill="#d6d4d1" stroke="#e2e0dd" stroke-width="1.4" filter="url(#b1)"/>
<circle cx="188.9" cy="41.1" r="14.6" fill="none" stroke="#c2c0bd" stroke-width="0.5" filter="url(#b1)"/>
<circle cx="248.7" cy="41.6" r="15.6" fill="#dddddb" stroke="#a9a9a7" stroke-width="1.2" filter="url(#b1)"/>
<path d="M235.6 36 A14.2 14.2 0 0 1 261.6 36" fill="none" stroke="#e9e9e7" stroke-width="1.6" filter="url(#b1)"/>
<path d="M263.6 38 A15.6 15.6 0 0 1 258 54" fill="none" stroke="#8f8f8d" stroke-width="1.1" filter="url(#b1)"/>
<circle cx="308.0" cy="41.1" r="14.1" fill="#e9e6dd" filter="url(#b1)"/>
<ellipse cx="365.5" cy="44.4" rx="15.2" ry="13.6" fill="#efefed" filter="url(#b1)"/>
<ellipse cx="365.5" cy="38.0" rx="15.0" ry="12.6" fill="#cbcac7" stroke="#dad9d6" stroke-width="0.8" filter="url(#b1)"/>
<text x="189.5" y="23.3" font-size="11.2" fill="#f95a22" text-anchor="middle" font-weight="bold" >PDMS</text>
<text x="249" y="23.3" font-size="11.2" fill="#f95a22" text-anchor="middle" font-weight="bold" >PU</text>
<text x="307.5" y="23.3" font-size="11.2" fill="#f95a22" text-anchor="middle" font-weight="bold" >SIL</text>
<text x="366" y="23.3" font-size="11.2" fill="#f95a22" text-anchor="middle" font-weight="bold" >RTV-2</text>
<text x="7.9" y="26.5" font-size="16.5" fill="#000" font-weight="bold" >(a)</text></g>
<g id="h"><g clip-path="url(#ch0)">
<rect x="400" y="301" width="69" height="70" fill="#2b2927" />
<ellipse cx="436" cy="362" rx="22" ry="12" fill="#080808" filter="url(#b4)"/>
<path d="M413.45 330.37 L419.99 322.25 L455.6 322.25 L459.53 328.15 L437.27 351.32 L429.42 344.51Z" fill="#d9dbdd" filter="url(#b1)"/>
<path d="M430.73 339.27 L441.2 339.27 L443.16 344.51 L437.27 351.32 L429.42 344.51Z" fill="#b4b8bc" filter="url(#b1)"/>
<path d="M394.07 321.73 C395.09 315.83 401.35 321.51 403.24 321.47 C405.13 321.43 409.49 321.08 411.09 321.34 C412.69 321.6 415.96 323.21 417.64 323.83 C419.31 324.44 424.52 326.07 426.15 326.84 C427.77 327.61 431.53 329.53 432.3 330.76 C433.07 332 433.48 336.44 433.08 337.96 C432.69 339.49 429.97 343.05 428.76 344.51 C427.56 345.96 423.45 349.45 422.22 351.05 C420.98 352.65 418.73 356.29 417.64 358.91 C416.55 361.53 415.02 372.87 412.4 374.62 C409.78 376.36 396.11 380.49 394.07 374.62 C392.04 368.74 393.05 327.64 394.07 321.73Z" fill="url(#hg)" filter="url(#b1)"/>
<path d="M475.24 319.64 C474.22 313.56 467.79 319.8 466.07 319.9 C464.36 320 460.84 319.91 459.79 320.55 C458.74 321.19 457.69 324.67 456.65 325.66 C455.6 326.65 451.86 328.81 450.36 329.45 C448.86 330.09 444.25 330.55 443.16 331.42 C442.07 332.29 440.54 335.85 440.54 337.31 C440.54 338.76 442.14 343.05 443.16 344.51 C444.18 345.96 448.33 348.8 449.71 350.4 C451.09 352 454.58 356.22 455.6 358.91 C456.62 361.6 456.69 372.87 458.87 374.62 C461.05 376.36 473.42 380.73 475.24 374.62 C477.05 368.51 476.25 325.72 475.24 319.64Z" fill="url(#hg)" filter="url(#b1)"/>
<path d="M400.62 336.65 C402.8 334.69 410.22 333.6 413.71 334.04 C417.2 334.47 421.56 337.53 421.56 339.27 C421.56 341.02 417.2 343.42 413.71 344.51 C410.22 345.6 402.8 347.13 400.62 345.82 C398.44 344.51 398.44 338.62 400.62 336.65Z" fill="#0a6fb4" fill-opacity="0.55" filter="url(#b2)"/>
<path d="M452.98 339.27 C453.64 337.09 460.62 336.22 463.45 336.65 C466.29 337.09 468.91 339.71 470 341.89 C471.09 344.07 471.74 348.44 470 349.74 C468.25 351.05 462.36 351.49 459.53 349.74 C456.69 348 452.33 341.45 452.98 339.27Z" fill="#0a6fb4" fill-opacity="0.55" filter="url(#b2)"/>
<path d="M405.85 324.87 C406.95 324.22 413.93 325.09 417.64 326.18 C421.35 327.27 427.02 329.89 428.11 331.42 C429.2 332.94 427.02 335.56 424.18 335.34 C421.35 335.13 414.15 331.85 411.09 330.11 C408.04 328.36 404.76 325.53 405.85 324.87Z" fill="#4cc8f6" fill-opacity="0.5" filter="url(#b2)"/>
<path d="M446.44 334.04 C446.44 332.94 453.64 332.07 456.91 332.73 C460.18 333.38 466.07 336.87 466.07 337.96 C466.07 339.05 460.18 339.93 456.91 339.27 C453.64 338.62 446.44 335.13 446.44 334.04Z" fill="#4cc8f6" fill-opacity="0.5" filter="url(#b2)"/>
</g>
<g clip-path="url(#ch1)">
<rect x="469.5" y="301" width="70" height="70" fill="#1d1c1b" />
<ellipse cx="504" cy="364" rx="30" ry="8" fill="#080808" filter="url(#b4)"/>
<path d="M485.28 332.73 L503.34 318.98 L521.93 332.07 L520.62 339.27 L504.65 352.62 L486.07 340.84Z" fill="#dcdedf" filter="url(#b1)"/>
<path d="M496.8 339.27 L512.51 339.27 L504.65 351.71Z" fill="#c4c7ca" fill-opacity="0.8" filter="url(#b2)"/>
<path d="M468 324.87 C469.31 319.27 473.45 324 475.85 324.22 C478.25 324.44 480.61 324.98 482.4 326.18 C484.19 327.38 486.02 329.24 486.59 331.42 C487.16 333.6 485.59 337.31 485.8 339.27 C486.02 341.24 487.37 341.63 487.9 343.2 C488.42 344.77 489.64 347.13 488.95 348.7 C488.25 350.27 485.89 351.32 483.71 352.62 C481.53 353.93 478.47 355.68 475.85 356.55 C473.24 357.42 469.31 363.14 468 357.86 C466.69 352.58 466.69 330.48 468 324.87Z" fill="url(#hg)" filter="url(#b1)"/>
<path d="M539.34 320.95 C538.14 316.1 534.44 324.98 532.14 326.18 C529.85 327.38 527.56 327.05 525.6 328.15 C523.64 329.24 521.37 331.09 520.36 332.73 C519.36 334.36 519.36 336 519.58 337.96 C519.8 339.93 521.21 342.11 521.67 344.51 C522.13 346.91 521.67 350.14 522.33 352.36 C522.98 354.59 523.74 356.73 525.6 357.86 C527.45 359 531.16 359.61 533.45 359.17 C535.74 358.73 538.36 361.61 539.34 355.24 C540.33 348.87 540.54 325.79 539.34 320.95Z" fill="url(#hg)" filter="url(#b1)"/>
<path d="M470.62 343.2 C472.36 340.8 478.47 339.93 481.09 340.58 C483.71 341.24 486.76 344.94 486.33 347.13 C485.89 349.31 481.09 352.36 478.47 353.67 C475.85 354.98 471.93 356.73 470.62 354.98 C469.31 353.24 468.87 345.6 470.62 343.2Z" fill="#0a6fb4" fill-opacity="0.55" filter="url(#b2)"/>
<path d="M524.29 343.2 C524.94 340.8 531.16 340.8 533.45 341.89 C535.74 342.98 538.69 347.34 538.04 349.74 C537.38 352.14 531.82 357.38 529.53 356.29 C527.24 355.2 523.64 345.6 524.29 343.2Z" fill="#0a6fb4" fill-opacity="0.55" filter="url(#b2)"/>
<path d="M471.93 327.49 C472.58 326.29 477.82 327.05 479.78 328.15 C481.75 329.24 484.36 332.84 483.71 334.04 C483.05 335.24 477.82 336.44 475.85 335.34 C473.89 334.25 471.27 328.69 471.93 327.49Z" fill="#4cc8f6" fill-opacity="0.45" filter="url(#b2)"/>
<path d="M526.91 330.11 C528.22 328.47 534.33 327.05 536.07 328.15 C537.82 329.24 538.69 335.02 537.38 336.65 C536.07 338.29 529.96 339.05 528.22 337.96 C526.47 336.87 525.6 331.74 526.91 330.11Z" fill="#4cc8f6" fill-opacity="0.45" filter="url(#b2)"/>
</g>
<g clip-path="url(#ch2)">
<rect x="400" y="370" width="69" height="69" fill="#0c0c0c" />
<ellipse cx="420" cy="378" rx="24" ry="10" fill="#2c2a28" filter="url(#b4)"/>
<path d="M398.65 405.96 C400.73 401.93 407.6 405.96 411.09 407.27 C414.58 408.58 419.6 411.09 419.6 413.82 C419.6 416.54 414.58 420.69 411.09 423.64 C407.6 426.58 400.73 434.44 398.65 431.49 C396.58 428.54 396.58 410 398.65 405.96Z" fill="#0a3a6c" fill-opacity="0.95" filter="url(#b2)"/>
<path d="M398.65 382.66 C400.29 379.87 405.31 383.19 408.47 384.23 C411.64 385.28 415.02 387.29 417.64 388.95 C420.25 390.6 422.74 392.22 424.18 394.18 C425.62 396.15 426.28 398.72 426.28 400.73 C426.28 402.73 425.62 405.31 424.18 406.22 C422.74 407.14 420.25 406.88 417.64 406.22 C415.02 405.57 411.64 403.17 408.47 402.3 C405.31 401.42 400.29 404.26 398.65 400.99 C397.02 397.72 397.02 385.45 398.65 382.66Z" fill="url(#hg)" filter="url(#b1)"/>
<path d="M430.73 390.52 C431.38 388.73 437.49 384.01 441.2 382.4 C444.91 380.79 447.96 381.31 452.98 380.83 C458 380.35 468.25 377.21 471.31 379.52 C474.36 381.83 473.05 392.48 471.31 394.71 C469.56 396.93 464.33 393.27 460.84 392.87 C457.34 392.48 453.42 392.09 450.36 392.35 C447.31 392.61 444.69 394.31 442.51 394.44 C440.33 394.57 439.24 393.79 437.27 393.13 C435.31 392.48 430.07 392.31 430.73 390.52Z" fill="url(#hg)" filter="url(#b1)"/>
<path d="M423.92 394.84 C424.33 392.72 427.43 393.11 428.76 392.87 C430.1 392.64 435.82 392.35 437.27 392.48 C438.73 392.61 442.61 393.49 443.29 394.18 C443.97 394.88 444.09 397.32 444.08 399.42 C444.07 401.51 443.58 412.38 443.16 415.13 C442.74 417.88 440.61 425.7 439.89 426.91 C439.17 428.11 437.14 428.22 435.96 427.17 C434.78 426.12 429.23 417.74 428.11 416.44 C426.98 415.13 425.12 416.24 424.71 414.08 C424.29 411.92 423.51 396.96 423.92 394.84Z" fill="#e4e6e8" filter="url(#b1)"/>
<path d="M426.15 395.75 C426.06 395.29 431.38 394.18 433.34 394.18 C435.31 394.18 441.77 395.29 441.85 395.75 C441.94 396.21 435.96 397.85 434 397.85 C432.04 397.85 426.23 396.21 426.15 395.75Z" fill="#b9bdc2" filter="url(#b1)"/>
<path d="M398.65 433.45 C400.73 431.23 407.27 428.22 411.09 425.6 C414.91 422.98 418.68 420.14 421.56 417.74 C424.44 415.34 427.54 413.16 428.37 411.2 C429.2 409.24 426.67 407.66 426.54 405.96 C426.41 404.26 426.23 402.17 427.59 400.99 C428.94 399.81 432.17 398.94 434.65 398.89 C437.14 398.85 439.45 399.55 442.51 400.73 C445.56 401.9 449.49 404 452.98 405.96 C456.47 407.93 460.4 410.72 463.45 412.51 C466.51 414.3 470 414.47 471.31 416.7 C472.62 418.92 473.05 423.68 471.31 425.86 C469.56 428.04 464.33 429.79 460.84 429.79 C457.34 429.79 453.64 426.95 450.36 425.86 C447.09 424.77 443.82 423.24 441.2 423.24 C438.58 423.24 437.49 424.12 434.65 425.86 C431.82 427.61 428.11 431.64 424.18 433.72 C420.25 435.79 415.35 437.42 411.09 438.3 C406.84 439.17 400.73 439.76 398.65 438.95 C396.58 438.14 396.58 435.68 398.65 433.45Z" fill="url(#hg)" filter="url(#b1)"/>
<path d="M471.31 394.18 C470 392.39 464.33 397.24 463.45 399.42 C462.58 401.6 464.76 405.48 466.07 407.27 C467.38 409.06 470.44 412.33 471.31 410.15 C472.18 407.97 472.62 395.97 471.31 394.18Z" fill="#0a4a8c" fill-opacity="0.9" filter="url(#b2)"/>
<path d="M429.42 405.96 C430.51 404.65 437.05 405.74 441.2 407.27 C445.34 408.8 453.2 412.94 454.29 415.13 C455.38 417.31 451.02 420.36 447.74 420.36 C444.47 420.36 437.71 417.53 434.65 415.13 C431.6 412.73 428.33 407.27 429.42 405.96Z" fill="#4cc8f6" fill-opacity="0.4" filter="url(#b2)"/>
<path d="M403.24 430.84 C403.89 428.87 414.15 423.85 417.64 422.98 C421.13 422.11 424.84 423.64 424.18 425.6 C423.53 427.56 417.2 433.89 413.71 434.76 C410.22 435.64 402.58 432.8 403.24 430.84Z" fill="#4cc8f6" fill-opacity="0.35" filter="url(#b2)"/>
<path d="M441.2 386.33 C441.2 385.24 452.33 383.93 456.91 383.71 C461.49 383.49 468.69 383.93 468.69 385.02 C468.69 386.11 461.49 390.04 456.91 390.25 C452.33 390.47 441.2 387.42 441.2 386.33Z" fill="#4cc8f6" fill-opacity="0.35" filter="url(#b2)"/>
</g>
<g clip-path="url(#ch3)">
<rect x="469.5" y="370" width="70" height="69" fill="#121211" />
<ellipse cx="500" cy="376" rx="24" ry="8" fill="#2a2826" filter="url(#b4)"/>
<path d="M468 386.33 C470.18 382.68 477.16 385.56 481.09 385.67 C485.02 385.78 488.51 386.22 491.56 386.98 C494.62 387.75 497.98 388.84 499.42 390.25 C500.86 391.67 501.08 393.75 500.2 395.49 C499.33 397.24 496.28 399.16 494.18 400.73 C492.09 402.3 490.25 403.78 487.64 404.92 C485.02 406.05 481.75 407.1 478.47 407.53 C475.2 407.97 469.75 411.07 468 407.53 C466.25 404 465.82 389.97 468 386.33Z" fill="url(#hg)" filter="url(#b1)"/>
<path d="M468 409.89 C470.18 404.98 477.16 409.24 481.09 409.24 C485.02 409.24 488.81 409.34 491.56 409.89 C494.31 410.44 496.8 410.98 497.59 412.51 C498.37 414.04 497.5 416.87 496.28 419.05 C495.05 421.24 492.79 423.37 490.25 425.6 C487.72 427.82 483.93 430.4 481.09 432.41 C478.25 434.41 475.42 436.6 473.24 437.64 C471.05 438.69 468.87 443.32 468 438.69 C467.13 434.06 465.82 414.8 468 409.89Z" fill="url(#hg)" filter="url(#b1)"/>
<path d="M539.34 370.36 C537.27 366.54 530.51 370.57 526.91 371.93 C523.31 373.28 520.58 376.29 517.74 378.47 C514.91 380.65 512.42 382.84 509.89 385.02 C507.36 387.2 503 389.69 502.56 391.56 C502.12 393.44 504.74 395.27 507.27 396.28 C509.8 397.28 514.25 397.59 517.74 397.59 C521.24 397.59 524.62 396.73 528.22 396.28 C531.82 395.82 537.49 399.16 539.34 394.84 C541.2 390.52 541.42 374.17 539.34 370.36Z" fill="url(#hg)" filter="url(#b1)"/>
<path d="M539.34 398.76 C537.27 395.45 530.51 400.07 526.91 400.73 C523.31 401.38 520.58 401.16 517.74 402.69 C514.91 404.22 509.89 407.82 509.89 409.89 C509.89 411.96 514.91 413.77 517.74 415.13 C520.58 416.48 523.31 417.09 526.91 418.01 C530.51 418.92 537.27 423.83 539.34 420.62 C541.42 417.42 541.42 402.08 539.34 398.76Z" fill="url(#hg)" filter="url(#b1)"/>
<path d="M487.64 404.92 C487.64 403.54 492.22 399.47 494.18 398.37 C496.15 397.27 500.97 396.18 503.34 396.15 C505.72 396.11 511.17 397.54 513.16 398.11 C515.16 398.68 519.56 399.38 519.32 400.73 C519.07 402.07 513.28 407.34 511.2 408.84 C509.12 410.35 504.82 412.7 502.69 412.77 C500.56 412.84 496.06 410.35 494.18 409.37 C492.3 408.38 487.64 406.29 487.64 404.92Z" fill="#dad8d6" filter="url(#b1)"/>
<ellipse cx="497.45" cy="402.82" rx="1.9" ry="1.2" fill="#3a3532" transform="rotate(-15 497.45 402.82)"/>
<ellipse cx="507.53" cy="402.43" rx="1.9" ry="1.2" fill="#3a3532" transform="rotate(15 507.53 402.43)"/>
<path d="M470.62 399.42 C472.8 398 479.78 398.11 483.71 398.11 C487.64 398.11 494.18 398.11 494.18 399.42 C494.18 400.73 487.64 404.76 483.71 405.96 C479.78 407.16 472.8 407.71 470.62 406.62 C468.44 405.53 468.44 400.84 470.62 399.42Z" fill="#0a6fb4" fill-opacity="0.55" filter="url(#b2)"/>
<path d="M470.62 425.6 C472.36 422.98 477.6 421.24 481.09 420.36 C484.58 419.49 491.56 418.62 491.56 420.36 C491.56 422.11 484.58 428.22 481.09 430.84 C477.6 433.45 472.36 436.94 470.62 436.07 C468.87 435.2 468.87 428.22 470.62 425.6Z" fill="#0a6fb4" fill-opacity="0.55" filter="url(#b2)"/>
<path d="M511.2 394.18 C511.64 393.48 518.4 393.09 522.98 392.87 C527.56 392.65 536.07 392.52 538.69 392.87 C541.31 393.22 541.74 394.27 538.69 394.97 C535.64 395.67 524.94 397.19 520.36 397.06 C515.78 396.93 510.76 394.88 511.2 394.18Z" fill="#0a6fb4" fill-opacity="0.55" filter="url(#b2)"/>
<path d="M475.85 388.95 C476.73 388.07 485.45 388.4 488.95 388.95 C492.44 389.49 497.67 391.35 496.8 392.22 C495.93 393.09 487.2 394.73 483.71 394.18 C480.22 393.64 474.98 389.82 475.85 388.95Z" fill="#4cc8f6" fill-opacity="0.4" filter="url(#b2)"/>
<path d="M520.36 379.78 C522.54 377.6 527.78 375.2 530.84 374.55 C533.89 373.89 538.69 374.11 538.69 375.85 C538.69 377.6 534.33 383.05 530.84 385.02 C527.34 386.98 519.49 388.51 517.74 387.64 C516 386.76 518.18 381.96 520.36 379.78Z" fill="#4cc8f6" fill-opacity="0.4" filter="url(#b2)"/>
<path d="M520.36 404.65 C520.8 403.34 527.78 402.91 530.84 403.34 C533.89 403.78 539.13 405.96 538.69 407.27 C538.25 408.58 531.27 411.64 528.22 411.2 C525.16 410.76 519.93 405.96 520.36 404.65Z" fill="#4cc8f6" fill-opacity="0.35" filter="url(#b2)"/>
</g>
<text x="433.2" y="312.5" font-size="10.1" fill="#f58a3a" text-anchor="middle" font-weight="bold" >Folding</text>
<text x="501.5" y="312.5" font-size="10.3" fill="#f58a3a" text-anchor="middle" font-weight="bold" >Stretching</text>
<text x="468.4" y="380.7" font-size="10.3" fill="#f58a3a" text-anchor="middle" font-weight="bold" >Compressing</text>
<text x="376.6" y="318.5" font-size="16.5" fill="#000" font-weight="bold" >(h)</text></g>
<g id="b"><path d="M412.9 113.6 L412.9 43.2 L458.7 4.4 L535.6 4.4 L535.6 58.3 L513.3 113.6Z" fill="#ffffff"/>
<line x1="420.53" y1="104.38" x2="420.53" y2="36.73" stroke="#cdeefa" stroke-width="0.5" />
<line x1="428.17" y1="95.17" x2="428.17" y2="30.27" stroke="#cdeefa" stroke-width="0.5" />
<line x1="435.8" y1="85.95" x2="435.8" y2="23.8" stroke="#cdeefa" stroke-width="0.5" />
<line x1="443.43" y1="76.73" x2="443.43" y2="17.33" stroke="#cdeefa" stroke-width="0.5" />
<line x1="451.07" y1="67.52" x2="451.07" y2="10.87" stroke="#cdeefa" stroke-width="0.5" />
<line x1="412.9" y1="101.87" x2="458.7" y2="49.32" stroke="#cdeefa" stroke-width="0.5" />
<line x1="412.9" y1="90.13" x2="458.7" y2="40.33" stroke="#cdeefa" stroke-width="0.5" />
<line x1="412.9" y1="78.4" x2="458.7" y2="31.35" stroke="#cdeefa" stroke-width="0.5" />
<line x1="412.9" y1="66.67" x2="458.7" y2="22.37" stroke="#cdeefa" stroke-width="0.5" />
<line x1="412.9" y1="54.93" x2="458.7" y2="13.38" stroke="#cdeefa" stroke-width="0.5" />
<line x1="471.52" y1="58.3" x2="471.52" y2="4.4" stroke="#cdeefa" stroke-width="0.5" />
<line x1="458.7" y1="49.32" x2="535.6" y2="49.32" stroke="#cdeefa" stroke-width="0.5" />
<line x1="484.33" y1="58.3" x2="484.33" y2="4.4" stroke="#cdeefa" stroke-width="0.5" />
<line x1="458.7" y1="40.33" x2="535.6" y2="40.33" stroke="#cdeefa" stroke-width="0.5" />
<line x1="497.15" y1="58.3" x2="497.15" y2="4.4" stroke="#cdeefa" stroke-width="0.5" />
<line x1="458.7" y1="31.35" x2="535.6" y2="31.35" stroke="#cdeefa" stroke-width="0.5" />
<line x1="509.97" y1="58.3" x2="509.97" y2="4.4" stroke="#cdeefa" stroke-width="0.5" />
<line x1="458.7" y1="22.37" x2="535.6" y2="22.37" stroke="#cdeefa" stroke-width="0.5" />
<line x1="522.78" y1="58.3" x2="522.78" y2="4.4" stroke="#cdeefa" stroke-width="0.5" />
<line x1="458.7" y1="13.38" x2="535.6" y2="13.38" stroke="#cdeefa" stroke-width="0.5" />
<line x1="429.63" y1="113.6" x2="471.52" y2="58.3" stroke="#cdeefa" stroke-width="0.5" />
<line x1="420.53" y1="104.38" x2="517.02" y2="104.38" stroke="#cdeefa" stroke-width="0.5" />
<line x1="446.37" y1="113.6" x2="484.33" y2="58.3" stroke="#cdeefa" stroke-width="0.5" />
<line x1="428.17" y1="95.17" x2="520.73" y2="95.17" stroke="#cdeefa" stroke-width="0.5" />
<line x1="463.1" y1="113.6" x2="497.15" y2="58.3" stroke="#cdeefa" stroke-width="0.5" />
<line x1="435.8" y1="85.95" x2="524.45" y2="85.95" stroke="#cdeefa" stroke-width="0.5" />
<line x1="479.83" y1="113.6" x2="509.97" y2="58.3" stroke="#cdeefa" stroke-width="0.5" />
<line x1="443.43" y1="76.73" x2="528.17" y2="76.73" stroke="#cdeefa" stroke-width="0.5" />
<line x1="496.57" y1="113.6" x2="522.78" y2="58.3" stroke="#cdeefa" stroke-width="0.5" />
<line x1="451.07" y1="67.52" x2="531.88" y2="67.52" stroke="#cdeefa" stroke-width="0.5" />
<line x1="458.7" y1="58.3" x2="458.7" y2="4.4" stroke="#3a3a3a" stroke-width="0.7" />
<line x1="458.7" y1="4.4" x2="535.6" y2="4.4" stroke="#3a3a3a" stroke-width="0.7" />
<line x1="535.6" y1="4.4" x2="535.6" y2="58.3" stroke="#3a3a3a" stroke-width="0.7" />
<line x1="412.9" y1="43.2" x2="458.7" y2="4.4" stroke="#3a3a3a" stroke-width="0.7" />
<line x1="458.7" y1="58.3" x2="535.6" y2="58.3" stroke="#3a3a3a" stroke-width="0.7" />
<line x1="412.9" y1="113.6" x2="458.7" y2="58.3" stroke="#3a3a3a" stroke-width="0.7" />
<g clip-path="url(#c3d)">
<path d="M454.74 64.5 L455.52 64.45 L456.3 64.43 L457.08 64.4 L457.86 64.38 L458.63 64.36 L459.41 64.34 L460.19 64.32 L460.97 64.3 L461.75 64.28 L462.53 64.25 L463.31 64.23 L464.09 64.21 L464.87 64.18 L465.65 64.15 L466.43 64.11 L467.21 64.08 L467.99 64.03 L468.77 63.97 L469.55 63.91 L470.33 63.83 L471.11 63.72 L471.89 63.6 L472.67 63.44 L473.45 63.25 L474.23 63.01 L475.01 62.73 L475.79 62.4 L476.57 62.02 L477.35 61.58 L478.12 61.1 L478.9 60.58 L479.68 60.03 L480.46 59.47 L481.24 58.91 L482.02 58.39 L482.8 57.92 L483.58 57.53 L484.36 57.23 L485.14 57.04 L485.92 56.97 L486.7 56.98 L487.48 57.04 L488.26 57.14 L489.04 57.28 L489.82 57.46 L490.6 57.68 L491.38 57.92 L492.16 58.19 L492.94 58.47 L493.72 58.77 L494.5 59.08 L495.28 59.39 L496.06 59.7 L496.84 60 L497.61 60.3 L498.39 60.58 L499.17 60.85 L499.95 61.1 L500.73 61.34 L501.51 61.55 L502.29 61.75 L503.07 61.93 L503.85 62.1 L504.63 62.25 L505.41 62.38 L506.19 62.5 L506.97 62.6 L507.75 62.7 L508.53 62.78 L509.31 62.85 L510.09 62.92 L510.87 62.98 L511.65 63.03 L512.43 63.08 L513.21 63.12 L513.99 63.16 L514.77 63.19 L515.55 63.22 L516.33 63.25 L517.1 63.27 L517.88 63.29 L518.66 63.31 L519.44 63.33 L520.22 63.35 L521 63.36 L521.78 63.38 L522.56 63.39 L523.34 63.4 L524.12 63.41 L524.9 63.42 L525.68 63.42 L526.46 63.43 L527.24 63.43 L528.02 63.44 L528.8 63.44 L529.58 63.44 L530.36 63.44 L531.14 63.44 L531.92 63.44 L532.7 63.44L532.7 65.5 L454.74 65.5Z" fill="#fbc83c" fill-opacity="0.92"/>
<path d="M450.02 70.18 L450.82 70.12 L451.62 70.08 L452.43 70.04 L453.23 70 L454.04 69.96 L454.84 69.92 L455.64 69.89 L456.45 69.84 L457.25 69.8 L458.05 69.75 L458.86 69.7 L459.66 69.64 L460.47 69.58 L461.27 69.5 L462.07 69.41 L462.88 69.31 L463.68 69.18 L464.48 69.03 L465.29 68.84 L466.09 68.59 L466.9 68.29 L467.7 67.9 L468.5 67.42 L469.31 66.82 L470.11 66.09 L470.92 65.19 L471.72 64.13 L472.52 62.88 L473.33 61.45 L474.13 59.85 L474.93 58.11 L475.74 56.25 L476.54 54.34 L477.35 52.43 L478.15 50.6 L478.95 48.93 L479.76 47.49 L480.56 46.36 L481.37 45.59 L482.17 45.22 L482.97 45.22 L483.78 45.39 L484.58 45.7 L485.38 46.17 L486.19 46.77 L486.99 47.48 L487.8 48.31 L488.6 49.22 L489.4 50.21 L490.21 51.24 L491.01 52.31 L491.81 53.4 L492.62 54.49 L493.42 55.57 L494.23 56.61 L495.03 57.62 L495.83 58.59 L496.64 59.49 L497.44 60.34 L498.25 61.13 L499.05 61.86 L499.85 62.52 L500.66 63.13 L501.46 63.67 L502.26 64.17 L503.07 64.61 L503.87 65 L504.68 65.35 L505.48 65.67 L506.28 65.95 L507.09 66.2 L507.89 66.43 L508.69 66.63 L509.5 66.81 L510.3 66.97 L511.11 67.12 L511.91 67.26 L512.71 67.38 L513.52 67.5 L514.32 67.6 L515.13 67.69 L515.93 67.78 L516.73 67.86 L517.54 67.94 L518.34 68 L519.14 68.07 L519.95 68.12 L520.75 68.17 L521.56 68.22 L522.36 68.26 L523.16 68.3 L523.97 68.34 L524.77 68.37 L525.58 68.4 L526.38 68.42 L527.18 68.44 L527.99 68.46 L528.79 68.48 L529.59 68.49 L530.4 68.5L530.4 71.2 L450.02 71.2Z" fill="#f0506a" fill-opacity="0.85"/>
<path d="M445.05 76.14 L445.88 76.01 L446.71 75.92 L447.53 75.84 L448.36 75.76 L449.19 75.67 L450.02 75.58 L450.85 75.48 L451.68 75.37 L452.51 75.25 L453.34 75.12 L454.17 74.97 L455 74.79 L455.83 74.58 L456.66 74.33 L457.49 74.02 L458.32 73.64 L459.15 73.17 L459.97 72.57 L460.8 71.81 L461.63 70.85 L462.46 69.64 L463.29 68.13 L464.12 66.27 L464.95 64 L465.78 61.28 L466.61 58.09 L467.44 54.43 L468.27 50.3 L469.1 45.78 L469.93 40.95 L470.76 35.93 L471.58 30.91 L472.41 26.06 L473.24 21.58 L474.07 17.69 L474.9 14.58 L475.73 12.4 L476.56 11.26 L477.39 11.15 L478.22 11.53 L479.05 12.32 L479.88 13.49 L480.71 15.02 L481.54 16.87 L482.37 19.01 L483.2 21.39 L484.02 23.96 L484.85 26.68 L485.68 29.5 L486.51 32.37 L487.34 35.25 L488.17 38.1 L489 40.88 L489.83 43.57 L490.66 46.13 L491.49 48.56 L492.32 50.84 L493.15 52.95 L493.98 54.9 L494.81 56.69 L495.64 58.32 L496.46 59.79 L497.29 61.12 L498.12 62.31 L498.95 63.38 L499.78 64.33 L500.61 65.19 L501.44 65.95 L502.27 66.64 L503.1 67.25 L503.93 67.8 L504.76 68.3 L505.59 68.75 L506.42 69.15 L507.25 69.53 L508.07 69.87 L508.9 70.18 L509.73 70.46 L510.56 70.73 L511.39 70.97 L512.22 71.19 L513.05 71.4 L513.88 71.59 L514.71 71.76 L515.54 71.93 L516.37 72.07 L517.2 72.21 L518.03 72.33 L518.86 72.45 L519.69 72.55 L520.51 72.64 L521.34 72.72 L522.17 72.8 L523 72.86 L523.83 72.92 L524.66 72.97 L525.49 73.02 L526.32 73.06 L527.15 73.09 L527.98 73.12L527.98 77.2 L445.05 77.2Z" fill="#9a94d8" fill-opacity="0.78"/>
<path d="M439.58 82.72 L440.44 82.61 L441.3 82.53 L442.15 82.45 L443.01 82.37 L443.87 82.28 L444.72 82.19 L445.58 82.09 L446.44 81.98 L447.3 81.86 L448.15 81.71 L449.01 81.53 L449.87 81.32 L450.73 81.07 L451.58 80.75 L452.44 80.35 L453.3 79.85 L454.16 79.22 L455.01 78.42 L455.87 77.41 L456.73 76.17 L457.59 74.64 L458.44 72.8 L459.3 70.61 L460.16 68.08 L461.01 65.19 L461.87 61.98 L462.73 58.51 L463.59 54.85 L464.44 51.12 L465.3 47.45 L466.16 43.98 L467.02 40.87 L467.87 38.26 L468.73 36.29 L469.59 35.05 L470.45 34.62 L471.3 34.75 L472.16 35.18 L473.02 35.91 L473.88 36.9 L474.73 38.15 L475.59 39.63 L476.45 41.3 L477.3 43.14 L478.16 45.09 L479.02 47.14 L479.88 49.25 L480.73 51.38 L481.59 53.5 L482.45 55.58 L483.31 57.6 L484.16 59.54 L485.02 61.39 L485.88 63.13 L486.74 64.75 L487.59 66.25 L488.45 67.63 L489.31 68.89 L490.17 70.03 L491.02 71.06 L491.88 71.99 L492.74 72.83 L493.59 73.57 L494.45 74.24 L495.31 74.83 L496.17 75.37 L497.02 75.84 L497.88 76.27 L498.74 76.65 L499.6 77 L500.45 77.32 L501.31 77.6 L502.17 77.86 L503.03 78.1 L503.88 78.32 L504.74 78.52 L505.6 78.71 L506.46 78.88 L507.31 79.04 L508.17 79.18 L509.03 79.31 L509.88 79.44 L510.74 79.55 L511.6 79.65 L512.46 79.75 L513.31 79.83 L514.17 79.91 L515.03 79.98 L515.89 80.04 L516.74 80.1 L517.6 80.15 L518.46 80.19 L519.32 80.23 L520.17 80.27 L521.03 80.3 L521.89 80.32 L522.74 80.34 L523.6 80.36 L524.46 80.38 L525.32 80.39L525.32 83.8 L439.58 83.8Z" fill="#fb8c3c" fill-opacity="0.88"/>
<path d="M434.03 89.42 L434.92 89.33 L435.8 89.26 L436.69 89.19 L437.57 89.12 L438.46 89.04 L439.35 88.96 L440.23 88.87 L441.12 88.77 L442 88.66 L442.89 88.53 L443.78 88.37 L444.66 88.18 L445.55 87.94 L446.43 87.64 L447.32 87.27 L448.21 86.8 L449.09 86.21 L449.98 85.47 L450.86 84.55 L451.75 83.41 L452.63 82.03 L453.52 80.39 L454.41 78.47 L455.29 76.26 L456.18 73.79 L457.06 71.1 L457.95 68.23 L458.84 65.28 L459.72 62.33 L460.61 59.51 L461.49 56.93 L462.38 54.71 L463.26 52.96 L464.15 51.78 L465.04 51.21 L465.92 51.21 L466.81 51.48 L467.69 51.97 L468.58 52.69 L469.47 53.62 L470.35 54.73 L471.24 56.01 L472.12 57.43 L473.01 58.95 L473.89 60.55 L474.78 62.21 L475.67 63.9 L476.55 65.58 L477.44 67.25 L478.32 68.87 L479.21 70.43 L480.1 71.92 L480.98 73.33 L481.87 74.65 L482.75 75.87 L483.64 77 L484.52 78.03 L485.41 78.97 L486.3 79.81 L487.18 80.58 L488.07 81.26 L488.95 81.87 L489.84 82.42 L490.73 82.91 L491.61 83.35 L492.5 83.74 L493.38 84.09 L494.27 84.41 L495.15 84.69 L496.04 84.95 L496.93 85.18 L497.81 85.39 L498.7 85.59 L499.58 85.76 L500.47 85.93 L501.36 86.08 L502.24 86.21 L503.13 86.34 L504.01 86.46 L504.9 86.57 L505.78 86.66 L506.67 86.76 L507.56 86.84 L508.44 86.91 L509.33 86.98 L510.21 87.05 L511.1 87.1 L511.99 87.15 L512.87 87.2 L513.76 87.24 L514.64 87.27 L515.53 87.31 L516.41 87.33 L517.3 87.36 L518.19 87.38 L519.07 87.39 L519.96 87.41 L520.84 87.42 L521.73 87.43 L522.62 87.43L522.62 90.5 L434.03 90.5Z" fill="#9a8fd0" fill-opacity="0.72"/>
<path d="M427.99 96.76 L428.9 96.69 L429.82 96.64 L430.74 96.59 L431.65 96.54 L432.57 96.49 L433.49 96.44 L434.4 96.38 L435.32 96.32 L436.24 96.25 L437.15 96.17 L438.07 96.07 L438.99 95.96 L439.9 95.82 L440.82 95.65 L441.74 95.43 L442.66 95.16 L443.57 94.82 L444.49 94.4 L445.41 93.87 L446.32 93.21 L447.24 92.42 L448.16 91.46 L449.07 90.34 L449.99 89.04 L450.91 87.58 L451.82 85.97 L452.74 84.24 L453.66 82.44 L454.57 80.63 L455.49 78.86 L456.41 77.22 L457.33 75.78 L458.24 74.6 L459.16 73.75 L460.08 73.28 L460.99 73.18 L461.91 73.29 L462.83 73.54 L463.74 73.94 L464.66 74.46 L465.58 75.1 L466.49 75.85 L467.41 76.69 L468.33 77.6 L469.24 78.56 L470.16 79.57 L471.08 80.59 L471.99 81.62 L472.91 82.65 L473.83 83.65 L474.75 84.61 L475.66 85.54 L476.58 86.42 L477.5 87.24 L478.41 88.01 L479.33 88.71 L480.25 89.36 L481.16 89.95 L482.08 90.48 L483 90.97 L483.91 91.4 L484.83 91.78 L485.75 92.13 L486.66 92.44 L487.58 92.71 L488.5 92.96 L489.42 93.18 L490.33 93.38 L491.25 93.56 L492.17 93.72 L493.08 93.86 L494 93.99 L494.92 94.11 L495.83 94.22 L496.75 94.32 L497.67 94.41 L498.58 94.5 L499.5 94.58 L500.42 94.65 L501.33 94.71 L502.25 94.77 L503.17 94.83 L504.08 94.88 L505 94.92 L505.92 94.97 L506.84 95 L507.75 95.04 L508.67 95.07 L509.59 95.09 L510.5 95.12 L511.42 95.14 L512.34 95.15 L513.25 95.17 L514.17 95.18 L515.09 95.19 L516 95.2 L516.92 95.21 L517.84 95.21 L518.75 95.22 L519.67 95.22L519.67 97.8 L427.99 97.8Z" fill="#fbc642" fill-opacity="0.84"/>
<path d="M421.61 104.46 L422.56 104.39 L423.51 104.35 L424.46 104.3 L425.41 104.26 L426.36 104.21 L427.31 104.16 L428.26 104.11 L429.21 104.05 L430.15 103.98 L431.1 103.9 L432.05 103.81 L433 103.7 L433.95 103.56 L434.9 103.39 L435.85 103.17 L436.8 102.9 L437.75 102.56 L438.7 102.13 L439.65 101.61 L440.6 100.98 L441.55 100.22 L442.5 99.32 L443.45 98.29 L444.4 97.13 L445.35 95.84 L446.3 94.47 L447.25 93.04 L448.2 91.59 L449.15 90.19 L450.1 88.88 L451.05 87.73 L452 86.8 L452.94 86.12 L453.89 85.74 L454.84 85.66 L455.79 85.75 L456.74 85.95 L457.69 86.26 L458.64 86.67 L459.59 87.18 L460.54 87.77 L461.49 88.44 L462.44 89.16 L463.39 89.92 L464.34 90.72 L465.29 91.53 L466.24 92.35 L467.19 93.16 L468.14 93.96 L469.09 94.72 L470.04 95.46 L470.99 96.15 L471.94 96.81 L472.89 97.41 L473.84 97.97 L474.78 98.49 L475.73 98.95 L476.68 99.38 L477.63 99.76 L478.58 100.1 L479.53 100.41 L480.48 100.68 L481.43 100.92 L482.38 101.14 L483.33 101.34 L484.28 101.51 L485.23 101.67 L486.18 101.81 L487.13 101.93 L488.08 102.05 L489.03 102.15 L489.98 102.24 L490.93 102.33 L491.88 102.41 L492.83 102.48 L493.78 102.55 L494.73 102.61 L495.68 102.66 L496.63 102.71 L497.57 102.76 L498.52 102.8 L499.47 102.84 L500.42 102.87 L501.37 102.91 L502.32 102.93 L503.27 102.96 L504.22 102.98 L505.17 103 L506.12 103.02 L507.07 103.03 L508.02 103.05 L508.97 103.06 L509.92 103.07 L510.87 103.07 L511.82 103.08 L512.77 103.08 L513.72 103.09 L514.67 103.09 L515.62 103.09 L516.57 103.09L516.57 105.5 L421.61 105.5Z" fill="#f64a4e" fill-opacity="0.84"/>
</g>
<line x1="412.9" y1="113.6" x2="412.9" y2="43.2" stroke="#3a3a3a" stroke-width="0.8" />
<line x1="412.9" y1="113.6" x2="513.3" y2="113.6" stroke="#3a3a3a" stroke-width="0.8" />
<line x1="513.3" y1="113.6" x2="535.6" y2="58.3" stroke="#3a3a3a" stroke-width="0.8" />
<line x1="412.9" y1="113.6" x2="412.9" y2="115" stroke="#3a3a3a" stroke-width="0.6" />
<text x="412.9" y="120.7" font-size="5.3" fill="#1a1a1a" text-anchor="middle" >500</text>
<line x1="429.63" y1="113.6" x2="429.63" y2="115" stroke="#3a3a3a" stroke-width="0.6" />
<text x="429.63" y="120.7" font-size="5.3" fill="#1a1a1a" text-anchor="middle" >550</text>
<line x1="446.36" y1="113.6" x2="446.36" y2="115" stroke="#3a3a3a" stroke-width="0.6" />
<text x="446.36" y="120.7" font-size="5.3" fill="#1a1a1a" text-anchor="middle" >600</text>
<line x1="463.09" y1="113.6" x2="463.09" y2="115" stroke="#3a3a3a" stroke-width="0.6" />
<text x="463.09" y="120.7" font-size="5.3" fill="#1a1a1a" text-anchor="middle" >650</text>
<line x1="479.82" y1="113.6" x2="479.82" y2="115" stroke="#3a3a3a" stroke-width="0.6" />
<text x="479.82" y="120.7" font-size="5.3" fill="#1a1a1a" text-anchor="middle" >700</text>
<line x1="496.55" y1="113.6" x2="496.55" y2="115" stroke="#3a3a3a" stroke-width="0.6" />
<text x="496.55" y="120.7" font-size="5.3" fill="#1a1a1a" text-anchor="middle" >750</text>
<line x1="513.28" y1="113.6" x2="513.28" y2="115" stroke="#3a3a3a" stroke-width="0.6" />
<text x="513.28" y="120.7" font-size="5.3" fill="#1a1a1a" text-anchor="middle" >800</text>
<line x1="421.26" y1="113.6" x2="421.26" y2="114.5" stroke="#3a3a3a" stroke-width="0.5" />
<line x1="438" y1="113.6" x2="438" y2="114.5" stroke="#3a3a3a" stroke-width="0.5" />
<line x1="454.72" y1="113.6" x2="454.72" y2="114.5" stroke="#3a3a3a" stroke-width="0.5" />
<line x1="471.45" y1="113.6" x2="471.45" y2="114.5" stroke="#3a3a3a" stroke-width="0.5" />
<line x1="488.18" y1="113.6" x2="488.18" y2="114.5" stroke="#3a3a3a" stroke-width="0.5" />
<line x1="504.91" y1="113.6" x2="504.91" y2="114.5" stroke="#3a3a3a" stroke-width="0.5" />
<text x="463" y="128" font-size="5.8" fill="#1a1a1a" text-anchor="middle" >Wavelength (nm)</text>
<text font-size="5.9" fill="#1a1a1a" text-anchor="middle" transform="translate(406.6 77.5) rotate(-90)" >ML Intensity (a.u.)</text>
<line x1="411.6" y1="113.6" x2="412.9" y2="113.6" stroke="#3a3a3a" stroke-width="0.5" />
<line x1="411.6" y1="102.4" x2="412.9" y2="102.4" stroke="#3a3a3a" stroke-width="0.5" />
<line x1="411.6" y1="91.2" x2="412.9" y2="91.2" stroke="#3a3a3a" stroke-width="0.5" />
<line x1="411.6" y1="80" x2="412.9" y2="80" stroke="#3a3a3a" stroke-width="0.5" />
<line x1="411.6" y1="68.8" x2="412.9" y2="68.8" stroke="#3a3a3a" stroke-width="0.5" />
<line x1="411.6" y1="57.6" x2="412.9" y2="57.6" stroke="#3a3a3a" stroke-width="0.5" />
<line x1="411.6" y1="46.4" x2="412.9" y2="46.4" stroke="#3a3a3a" stroke-width="0.5" />
<line x1="516.57" y1="105.5" x2="517.77" y2="105.5" stroke="#3a3a3a" stroke-width="0.5" />
<text x="519.57" y="107.7" font-size="4.7" fill="#1a1a1a" >0.001</text>
<line x1="519.67" y1="97.8" x2="520.87" y2="97.8" stroke="#3a3a3a" stroke-width="0.5" />
<text x="522.67" y="100" font-size="4.7" fill="#1a1a1a" >0.003</text>
<line x1="522.62" y1="90.5" x2="523.82" y2="90.5" stroke="#3a3a3a" stroke-width="0.5" />
<text x="525.62" y="92.7" font-size="4.7" fill="#1a1a1a" >0.005</text>
<line x1="525.32" y1="83.8" x2="526.52" y2="83.8" stroke="#3a3a3a" stroke-width="0.5" />
<text x="528.32" y="86" font-size="4.7" fill="#1a1a1a" >0.010</text>
<line x1="527.98" y1="77.2" x2="529.18" y2="77.2" stroke="#3a3a3a" stroke-width="0.5" />
<text x="530.98" y="79.4" font-size="4.7" fill="#1a1a1a" >0.030</text>
<line x1="530.4" y1="71.2" x2="531.6" y2="71.2" stroke="#3a3a3a" stroke-width="0.5" />
<text x="533.4" y="73.4" font-size="4.7" fill="#1a1a1a" >0.050</text>
<line x1="532.7" y1="65.5" x2="533.9" y2="65.5" stroke="#3a3a3a" stroke-width="0.5" />
<text x="535.7" y="67.7" font-size="4.7" fill="#1a1a1a" >0.080</text>
<text font-size="6" fill="#1a1a1a" text-anchor="middle" font-style="italic" transform="translate(545.6 88.5) rotate(-68)" >x</text>
<text x="496.5" y="14.3" font-size="6.3" fill="#1a1a1a" >F = 50 N</text>
<text x="403.2" y="26.1" font-size="16.5" fill="#000" font-weight="bold" >(b)</text></g>
<line x1="405.5" y1="132.9" x2="405.5" y2="280.5" stroke="#c8c8c8" stroke-width="0.6" />
<line x1="413.7" y1="132.9" x2="413.7" y2="280.5" stroke="#dcdcdc" stroke-width="0.6" />
<line x1="421.9" y1="132.9" x2="421.9" y2="280.5" stroke="#dcdcdc" stroke-width="0.6" />
<line x1="430.1" y1="132.9" x2="430.1" y2="280.5" stroke="#dcdcdc" stroke-width="0.6" />
<line x1="438.3" y1="132.9" x2="438.3" y2="280.5" stroke="#dcdcdc" stroke-width="0.6" />
<line x1="446.5" y1="132.9" x2="446.5" y2="280.5" stroke="#dcdcdc" stroke-width="0.6" />
<line x1="454.7" y1="132.9" x2="454.7" y2="280.5" stroke="#dcdcdc" stroke-width="0.6" />
<line x1="462.9" y1="132.9" x2="462.9" y2="280.5" stroke="#dcdcdc" stroke-width="0.6" />
<line x1="471.1" y1="132.9" x2="471.1" y2="280.5" stroke="#dcdcdc" stroke-width="0.6" />
<line x1="479.3" y1="132.9" x2="479.3" y2="280.5" stroke="#dcdcdc" stroke-width="0.6" />
<line x1="487.5" y1="132.9" x2="487.5" y2="280.5" stroke="#dcdcdc" stroke-width="0.6" />
<line x1="495.7" y1="132.9" x2="495.7" y2="280.5" stroke="#dcdcdc" stroke-width="0.6" />
<line x1="503.9" y1="132.9" x2="503.9" y2="280.5" stroke="#dcdcdc" stroke-width="0.6" />
<line x1="512.1" y1="132.9" x2="512.1" y2="280.5" stroke="#dcdcdc" stroke-width="0.6" />
<line x1="520.3" y1="132.9" x2="520.3" y2="280.5" stroke="#dcdcdc" stroke-width="0.6" />
<line x1="528.5" y1="132.9" x2="528.5" y2="280.5" stroke="#dcdcdc" stroke-width="0.6" />
<line x1="536.7" y1="132.9" x2="536.7" y2="280.5" stroke="#dcdcdc" stroke-width="0.6" />
<line x1="405.5" y1="280.5" x2="536.7" y2="280.5" stroke="#c0c0c0" stroke-width="0.6" />
<line x1="405.5" y1="272.3" x2="536.7" y2="272.3" stroke="#dcdcdc" stroke-width="0.6" />
<line x1="405.5" y1="264.1" x2="536.7" y2="264.1" stroke="#dcdcdc" stroke-width="0.6" />
<line x1="405.5" y1="255.9" x2="536.7" y2="255.9" stroke="#dcdcdc" stroke-width="0.6" />
<line x1="405.5" y1="247.7" x2="536.7" y2="247.7" stroke="#dcdcdc" stroke-width="0.6" />
<line x1="405.5" y1="239.5" x2="536.7" y2="239.5" stroke="#dcdcdc" stroke-width="0.6" />
<line x1="405.5" y1="231.3" x2="536.7" y2="231.3" stroke="#dcdcdc" stroke-width="0.6" />
<line x1="405.5" y1="223.1" x2="536.7" y2="223.1" stroke="#dcdcdc" stroke-width="0.6" />
<line x1="405.5" y1="214.9" x2="536.7" y2="214.9" stroke="#dcdcdc" stroke-width="0.6" />
<line x1="405.5" y1="206.7" x2="536.7" y2="206.7" stroke="#dcdcdc" stroke-width="0.6" />
<line x1="405.5" y1="198.5" x2="536.7" y2="198.5" stroke="#dcdcdc" stroke-width="0.6" />
<line x1="405.5" y1="190.3" x2="536.7" y2="190.3" stroke="#dcdcdc" stroke-width="0.6" />
<line x1="405.5" y1="182.1" x2="536.7" y2="182.1" stroke="#dcdcdc" stroke-width="0.6" />
<line x1="405.5" y1="173.9" x2="536.7" y2="173.9" stroke="#dcdcdc" stroke-width="0.6" />
<line x1="405.5" y1="165.7" x2="536.7" y2="165.7" stroke="#dcdcdc" stroke-width="0.6" />
<line x1="405.5" y1="157.5" x2="536.7" y2="157.5" stroke="#dcdcdc" stroke-width="0.6" />
<line x1="405.5" y1="149.3" x2="536.7" y2="149.3" stroke="#dcdcdc" stroke-width="0.6" />
<line x1="405.5" y1="141.1" x2="536.7" y2="141.1" stroke="#dcdcdc" stroke-width="0.6" />
<line x1="405.5" y1="132.9" x2="536.7" y2="132.9" stroke="#dcdcdc" stroke-width="0.6" />
<line x1="421.9" y1="132.9" x2="539.98" y2="250.98" stroke="#c4c4c4" stroke-width="0.8" />
<g clip-path="url(#cieclip)"><g filter="url(#cieblur)">
<rect x="411.14" y="139.76" width="18.3" height="3.3" fill="#00ff00"/>
<rect x="408.14" y="142.76" width="27.3" height="3.3" fill="#00ff00"/>
<rect x="405.14" y="145.76" width="3.3" height="3.3" fill="#00ff05"/>
<rect x="408.14" y="145.76" width="3.3" height="3.3" fill="#00ff02"/>
<rect x="411.14" y="145.76" width="27.3" height="3.3" fill="#00ff00"/>
<rect x="405.14" y="148.76" width="3.3" height="3.3" fill="#00ff0a"/>
<rect x="408.14" y="148.76" width="3.3" height="3.3" fill="#00ff06"/>
<rect x="411.14" y="148.76" width="3.3" height="3.3" fill="#00ff03"/>
<rect x="414.14" y="148.76" width="30.3" height="3.3" fill="#00ff00"/>
<rect x="405.14" y="151.76" width="3.3" height="3.3" fill="#00ff0e"/>
<rect x="408.14" y="151.76" width="3.3" height="3.3" fill="#00ff0b"/>
<rect x="411.14" y="151.76" width="3.3" height="3.3" fill="#00ff08"/>
<rect x="414.14" y="151.76" width="3.3" height="3.3" fill="#00ff04"/>
<rect x="417.14" y="151.76" width="30.3" height="3.3" fill="#00ff00"/>
<rect x="402.14" y="154.76" width="3.3" height="3.3" fill="#00ff17"/>
<rect x="405.14" y="154.76" width="3.3" height="3.3" fill="#00ff13"/>
<rect x="408.14" y="154.76" width="3.3" height="3.3" fill="#00ff10"/>
<rect x="411.14" y="154.76" width="3.3" height="3.3" fill="#00ff0c"/>
<rect x="414.14" y="154.76" width="3.3" height="3.3" fill="#00ff09"/>
<rect x="417.14" y="154.76" width="3.3" height="3.3" fill="#00ff05"/>
<rect x="420.14" y="154.76" width="3.3" height="3.3" fill="#00ff01"/>
<rect x="423.14" y="154.76" width="27.3" height="3.3" fill="#00ff00"/>
<rect x="402.14" y="157.76" width="3.3" height="3.3" fill="#00ff1c"/>
<rect x="405.14" y="157.76" width="3.3" height="3.3" fill="#00ff18"/>
<rect x="408.14" y="157.76" width="3.3" height="3.3" fill="#00ff15"/>
<rect x="411.14" y="157.76" width="3.3" height="3.3" fill="#00ff11"/>
<rect x="414.14" y="157.76" width="3.3" height="3.3" fill="#00ff0e"/>
<rect x="417.14" y="157.76" width="3.3" height="3.3" fill="#00ff0a"/>
<rect x="420.14" y="157.76" width="3.3" height="3.3" fill="#00ff06"/>
<rect x="423.14" y="157.76" width="3.3" height="3.3" fill="#00ff02"/>
<rect x="426.14" y="157.76" width="30.3" height="3.3" fill="#00ff00"/>
<rect x="402.14" y="160.76" width="3.3" height="3.3" fill="#00ff21"/>
<rect x="405.14" y="160.76" width="3.3" height="3.3" fill="#00ff1d"/>
<rect x="408.14" y="160.76" width="3.3" height="3.3" fill="#00ff1a"/>
<rect x="411.14" y="160.76" width="3.3" height="3.3" fill="#00ff17"/>
<rect x="414.14" y="160.76" width="3.3" height="3.3" fill="#00ff13"/>
<rect x="417.14" y="160.76" width="3.3" height="3.3" fill="#00ff0f"/>
<rect x="420.14" y="160.76" width="3.3" height="3.3" fill="#00ff0c"/>
<rect x="423.14" y="160.76" width="3.3" height="3.3" fill="#00ff08"/>
<rect x="426.14" y="160.76" width="3.3" height="3.3" fill="#00ff03"/>
<rect x="429.14" y="160.76" width="30.3" height="3.3" fill="#00ff00"/>
<rect x="402.14" y="163.76" width="3.3" height="3.3" fill="#00ff26"/>
<rect x="405.14" y="163.76" width="3.3" height="3.3" fill="#00ff23"/>
<rect x="408.14" y="163.76" width="3.3" height="3.3" fill="#00ff20"/>
<rect x="411.14" y="163.76" width="3.3" height="3.3" fill="#00ff1c"/>
<rect x="414.14" y="163.76" width="3.3" height="3.3" fill="#00ff19"/>
<rect x="417.14" y="163.76" width="3.3" height="3.3" fill="#00ff15"/>
<rect x="420.14" y="163.76" width="3.3" height="3.3" fill="#00ff11"/>
<rect x="423.14" y="163.76" width="3.3" height="3.3" fill="#00ff0d"/>
<rect x="426.14" y="163.76" width="3.3" height="3.3" fill="#00ff09"/>
<rect x="429.14" y="163.76" width="3.3" height="3.3" fill="#00ff05"/>
<rect x="432.14" y="163.76" width="27.3" height="3.3" fill="#00ff00"/>
<rect x="459.14" y="163.76" width="3.3" height="3.3" fill="#09ff00"/>
<rect x="402.14" y="166.76" width="3.3" height="3.3" fill="#00ff2c"/>
<rect x="405.14" y="166.76" width="3.3" height="3.3" fill="#00ff29"/>
<rect x="408.14" y="166.76" width="3.3" height="3.3" fill="#00ff25"/>
<rect x="411.14" y="166.76" width="3.3" height="3.3" fill="#00ff22"/>
<rect x="414.14" y="166.76" width="3.3" height="3.3" fill="#00ff1e"/>
<rect x="417.14" y="166.76" width="3.3" height="3.3" fill="#00ff1b"/>
<rect x="420.14" y="166.76" width="3.3" height="3.3" fill="#00ff17"/>
<rect x="423.14" y="166.76" width="3.3" height="3.3" fill="#00ff13"/>
<rect x="426.14" y="166.76" width="3.3" height="3.3" fill="#00ff0f"/>
<rect x="429.14" y="166.76" width="3.3" height="3.3" fill="#00ff0b"/>
<rect x="432.14" y="166.76" width="3.3" height="3.3" fill="#00ff06"/>
<rect x="435.14" y="166.76" width="3.3" height="3.3" fill="#00ff01"/>
<rect x="438.14" y="166.76" width="21.3" height="3.3" fill="#00ff00"/>
<rect x="459.14" y="166.76" width="3.3" height="3.3" fill="#0fff00"/>
<rect x="462.14" y="166.76" width="3.3" height="3.3" fill="#23ff00"/>
<rect x="402.14" y="169.76" width="3.3" height="3.3" fill="#00ff32"/>
<rect x="405.14" y="169.76" width="3.3" height="3.3" fill="#00ff2e"/>
<rect x="408.14" y="169.76" width="3.3" height="3.3" fill="#00ff2b"/>
<rect x="411.14" y="169.76" width="3.3" height="3.3" fill="#00ff28"/>
<rect x="414.14" y="169.76" width="3.3" height="3.3" fill="#00ff24"/>
<rect x="417.14" y="169.76" width="3.3" height="3.3" fill="#00ff21"/>
<rect x="420.14" y="169.76" width="3.3" height="3.3" fill="#00ff1d"/>
<rect x="423.14" y="169.76" width="3.3" height="3.3" fill="#00ff19"/>
<rect x="426.14" y="169.76" width="3.3" height="3.3" fill="#00ff15"/>
<rect x="429.14" y="169.76" width="3.3" height="3.3" fill="#00ff11"/>
<rect x="432.14" y="169.76" width="3.3" height="3.3" fill="#00ff0c"/>
<rect x="435.14" y="169.76" width="3.3" height="3.3" fill="#00ff08"/>
<rect x="438.14" y="169.76" width="3.3" height="3.3" fill="#00ff03"/>
<rect x="441.14" y="169.76" width="18.3" height="3.3" fill="#00ff00"/>
<rect x="459.14" y="169.76" width="3.3" height="3.3" fill="#15ff00"/>
<rect x="462.14" y="169.76" width="3.3" height="3.3" fill="#2aff00"/>
<rect x="465.14" y="169.76" width="3.3" height="3.3" fill="#3fff00"/>
<rect x="402.14" y="172.76" width="3.3" height="3.3" fill="#00ff38"/>
<rect x="405.14" y="172.76" width="3.3" height="3.3" fill="#00ff35"/>
<rect x="408.14" y="172.76" width="3.3" height="3.3" fill="#00ff31"/>
<rect x="411.14" y="172.76" width="3.3" height="3.3" fill="#00ff2e"/>
<rect x="414.14" y="172.76" width="3.3" height="3.3" fill="#00ff2b"/>
<rect x="417.14" y="172.76" width="3.3" height="3.3" fill="#00ff27"/>
<rect x="420.14" y="172.76" width="3.3" height="3.3" fill="#00ff23"/>
<rect x="423.14" y="172.76" width="3.3" height="3.3" fill="#00ff1f"/>
<rect x="426.14" y="172.76" width="3.3" height="3.3" fill="#00ff1b"/>
<rect x="429.14" y="172.76" width="3.3" height="3.3" fill="#00ff17"/>
<rect x="432.14" y="172.76" width="3.3" height="3.3" fill="#00ff13"/>
<rect x="435.14" y="172.76" width="3.3" height="3.3" fill="#00ff0e"/>
<rect x="438.14" y="172.76" width="3.3" height="3.3" fill="#00ff09"/>
<rect x="441.14" y="172.76" width="3.3" height="3.3" fill="#00ff04"/>
<rect x="444.14" y="172.76" width="12.3" height="3.3" fill="#00ff00"/>
<rect x="456.14" y="172.76" width="3.3" height="3.3" fill="#06ff00"/>
<rect x="459.14" y="172.76" width="3.3" height="3.3" fill="#1bff00"/>
<rect x="462.14" y="172.76" width="3.3" height="3.3" fill="#31ff00"/>
<rect x="465.14" y="172.76" width="3.3" height="3.3" fill="#47ff00"/>
<rect x="468.14" y="172.76" width="3.3" height="3.3" fill="#5dff00"/>
<rect x="402.14" y="175.76" width="3.3" height="3.3" fill="#00ff3e"/>
<rect x="405.14" y="175.76" width="3.3" height="3.3" fill="#00ff3b"/>
<rect x="408.14" y="175.76" width="3.3" height="3.3" fill="#00ff38"/>
<rect x="411.14" y="175.76" width="3.3" height="3.3" fill="#00ff35"/>
<rect x="414.14" y="175.76" width="3.3" height="3.3" fill="#00ff31"/>
<rect x="417.14" y="175.76" width="3.3" height="3.3" fill="#00ff2e"/>
<rect x="420.14" y="175.76" width="3.3" height="3.3" fill="#00ff2a"/>
<rect x="423.14" y="175.76" width="3.3" height="3.3" fill="#00ff26"/>
<rect x="426.14" y="175.76" width="3.3" height="3.3" fill="#00ff22"/>
<rect x="429.14" y="175.76" width="3.3" height="3.3" fill="#00ff1e"/>
<rect x="432.14" y="175.76" width="3.3" height="3.3" fill="#00ff1a"/>
<rect x="435.14" y="175.76" width="3.3" height="3.3" fill="#00ff15"/>
<rect x="438.14" y="175.76" width="3.3" height="3.3" fill="#00ff10"/>
<rect x="441.14" y="175.76" width="3.3" height="3.3" fill="#00ff0b"/>
<rect x="444.14" y="175.76" width="3.3" height="3.3" fill="#00ff06"/>
<rect x="447.14" y="175.76" width="9.3" height="3.3" fill="#00ff00"/>
<rect x="456.14" y="175.76" width="3.3" height="3.3" fill="#0cff00"/>
<rect x="459.14" y="175.76" width="3.3" height="3.3" fill="#22ff00"/>
<rect x="462.14" y="175.76" width="3.3" height="3.3" fill="#39ff00"/>
<rect x="465.14" y="175.76" width="3.3" height="3.3" fill="#50ff00"/>
<rect x="468.14" y="175.76" width="3.3" height="3.3" fill="#67ff00"/>
<rect x="471.14" y="175.76" width="3.3" height="3.3" fill="#80ff00"/>
<rect x="402.14" y="178.76" width="3.3" height="3.3" fill="#00ff45"/>
<rect x="405.14" y="178.76" width="3.3" height="3.3" fill="#00ff42"/>
<rect x="408.14" y="178.76" width="3.3" height="3.3" fill="#00ff3f"/>
<rect x="411.14" y="178.76" width="3.3" height="3.3" fill="#00ff3b"/>
<rect x="414.14" y="178.76" width="3.3" height="3.3" fill="#00ff38"/>
<rect x="417.14" y="178.76" width="3.3" height="3.3" fill="#00ff35"/>
<rect x="420.14" y="178.76" width="3.3" height="3.3" fill="#00ff31"/>
<rect x="423.14" y="178.76" width="3.3" height="3.3" fill="#00ff2d"/>
<rect x="426.14" y="178.76" width="3.3" height="3.3" fill="#00ff29"/>
<rect x="429.14" y="178.76" width="3.3" height="3.3" fill="#00ff25"/>
<rect x="432.14" y="178.76" width="3.3" height="3.3" fill="#00ff21"/>
<rect x="435.14" y="178.76" width="3.3" height="3.3" fill="#00ff1c"/>
<rect x="438.14" y="178.76" width="3.3" height="3.3" fill="#00ff17"/>
<rect x="441.14" y="178.76" width="3.3" height="3.3" fill="#00ff13"/>
<rect x="444.14" y="178.76" width="3.3" height="3.3" fill="#00ff0d"/>
<rect x="447.14" y="178.76" width="3.3" height="3.3" fill="#00ff08"/>
<rect x="450.14" y="178.76" width="3.3" height="3.3" fill="#00ff02"/>
<rect x="453.14" y="178.76" width="3.3" height="3.3" fill="#00ff00"/>
<rect x="456.14" y="178.76" width="3.3" height="3.3" fill="#13ff00"/>
<rect x="459.14" y="178.76" width="3.3" height="3.3" fill="#2aff00"/>
<rect x="462.14" y="178.76" width="3.3" height="3.3" fill="#41ff00"/>
<rect x="465.14" y="178.76" width="3.3" height="3.3" fill="#59ff00"/>
<rect x="468.14" y="178.76" width="3.3" height="3.3" fill="#72ff00"/>
<rect x="471.14" y="178.76" width="3.3" height="3.3" fill="#8bff00"/>
<rect x="474.14" y="178.76" width="3.3" height="3.3" fill="#a6ff00"/>
<rect x="402.14" y="181.76" width="3.3" height="3.3" fill="#00ff4c"/>
<rect x="405.14" y="181.76" width="3.3" height="3.3" fill="#00ff49"/>
<rect x="408.14" y="181.76" width="3.3" height="3.3" fill="#00ff46"/>
<rect x="411.14" y="181.76" width="3.3" height="3.3" fill="#00ff43"/>
<rect x="414.14" y="181.76" width="3.3" height="3.3" fill="#00ff3f"/>
<rect x="417.14" y="181.76" width="3.3" height="3.3" fill="#00ff3c"/>
<rect x="420.14" y="181.76" width="3.3" height="3.3" fill="#00ff38"/>
<rect x="423.14" y="181.76" width="3.3" height="3.3" fill="#00ff35"/>
<rect x="426.14" y="181.76" width="3.3" height="3.3" fill="#00ff31"/>
<rect x="429.14" y="181.76" width="3.3" height="3.3" fill="#00ff2c"/>
<rect x="432.14" y="181.76" width="3.3" height="3.3" fill="#00ff28"/>
<rect x="435.14" y="181.76" width="3.3" height="3.3" fill="#00ff24"/>
<rect x="438.14" y="181.76" width="3.3" height="3.3" fill="#00ff1f"/>
<rect x="441.14" y="181.76" width="3.3" height="3.3" fill="#00ff1a"/>
<rect x="444.14" y="181.76" width="3.3" height="3.3" fill="#00ff15"/>
<rect x="447.14" y="181.76" width="3.3" height="3.3" fill="#00ff10"/>
<rect x="450.14" y="181.76" width="3.3" height="3.3" fill="#00ff0a"/>
<rect x="453.14" y="181.76" width="3.3" height="3.3" fill="#02ff04"/>
<rect x="456.14" y="181.76" width="3.3" height="3.3" fill="#1aff00"/>
<rect x="459.14" y="181.76" width="3.3" height="3.3" fill="#32ff00"/>
<rect x="462.14" y="181.76" width="3.3" height="3.3" fill="#4aff00"/>
<rect x="465.14" y="181.76" width="3.3" height="3.3" fill="#63ff00"/>
<rect x="468.14" y="181.76" width="3.3" height="3.3" fill="#7dff00"/>
<rect x="471.14" y="181.76" width="3.3" height="3.3" fill="#98ff00"/>
<rect x="474.14" y="181.76" width="3.3" height="3.3" fill="#b4ff00"/>
<rect x="477.14" y="181.76" width="3.3" height="3.3" fill="#d2ff00"/>
<rect x="402.14" y="184.76" width="3.3" height="3.3" fill="#00ff54"/>
<rect x="405.14" y="184.76" width="3.3" height="3.3" fill="#00ff51"/>
<rect x="408.14" y="184.76" width="3.3" height="3.3" fill="#00ff4e"/>
<rect x="411.14" y="184.76" width="3.3" height="3.3" fill="#00ff4a"/>
<rect x="414.14" y="184.76" width="3.3" height="3.3" fill="#00ff47"/>
<rect x="417.14" y="184.76" width="3.3" height="3.3" fill="#00ff44"/>
<rect x="420.14" y="184.76" width="3.3" height="3.3" fill="#00ff40"/>
<rect x="423.14" y="184.76" width="3.3" height="3.3" fill="#00ff3c"/>
<rect x="426.14" y="184.76" width="3.3" height="3.3" fill="#00ff39"/>
<rect x="429.14" y="184.76" width="3.3" height="3.3" fill="#00ff34"/>
<rect x="432.14" y="184.76" width="3.3" height="3.3" fill="#00ff30"/>
<rect x="435.14" y="184.76" width="3.3" height="3.3" fill="#00ff2c"/>
<rect x="438.14" y="184.76" width="3.3" height="3.3" fill="#00ff27"/>
<rect x="441.14" y="184.76" width="3.3" height="3.3" fill="#00ff22"/>
<rect x="444.14" y="184.76" width="3.3" height="3.3" fill="#00ff1d"/>
<rect x="447.14" y="184.76" width="3.3" height="3.3" fill="#00ff18"/>
<rect x="450.14" y="184.76" width="3.3" height="3.3" fill="#00ff12"/>
<rect x="453.14" y="184.76" width="3.3" height="3.3" fill="#09ff0c"/>
<rect x="456.14" y="184.76" width="3.3" height="3.3" fill="#22ff06"/>
<rect x="459.14" y="184.76" width="3.3" height="3.3" fill="#3bff00"/>
<rect x="462.14" y="184.76" width="3.3" height="3.3" fill="#54ff00"/>
<rect x="465.14" y="184.76" width="3.3" height="3.3" fill="#6eff00"/>
<rect x="468.14" y="184.76" width="3.3" height="3.3" fill="#8aff00"/>
<rect x="471.14" y="184.76" width="3.3" height="3.3" fill="#a6ff00"/>
<rect x="474.14" y="184.76" width="3.3" height="3.3" fill="#c4ff00"/>
<rect x="477.14" y="184.76" width="3.3" height="3.3" fill="#e4ff00"/>
<rect x="480.14" y="184.76" width="3.3" height="3.3" fill="#fffa00"/>
<rect x="402.14" y="187.76" width="3.3" height="3.3" fill="#00ff5c"/>
<rect x="405.14" y="187.76" width="3.3" height="3.3" fill="#00ff59"/>
<rect x="408.14" y="187.76" width="3.3" height="3.3" fill="#00ff56"/>
<rect x="411.14" y="187.76" width="3.3" height="3.3" fill="#00ff53"/>
<rect x="414.14" y="187.76" width="3.3" height="3.3" fill="#00ff4f"/>
<rect x="417.14" y="187.76" width="3.3" height="3.3" fill="#00ff4c"/>
<rect x="420.14" y="187.76" width="3.3" height="3.3" fill="#00ff48"/>
<rect x="423.14" y="187.76" width="3.3" height="3.3" fill="#00ff45"/>
<rect x="426.14" y="187.76" width="3.3" height="3.3" fill="#00ff41"/>
<rect x="429.14" y="187.76" width="3.3" height="3.3" fill="#00ff3d"/>
<rect x="432.14" y="187.76" width="3.3" height="3.3" fill="#00ff39"/>
<rect x="435.14" y="187.76" width="3.3" height="3.3" fill="#00ff34"/>
<rect x="438.14" y="187.76" width="3.3" height="3.3" fill="#00ff30"/>
<rect x="441.14" y="187.76" width="3.3" height="3.3" fill="#00ff2b"/>
<rect x="444.14" y="187.76" width="3.3" height="3.3" fill="#00ff26"/>
<rect x="447.14" y="187.76" width="3.3" height="3.3" fill="#00ff21"/>
<rect x="450.14" y="187.76" width="3.3" height="3.3" fill="#00ff1b"/>
<rect x="453.14" y="187.76" width="3.3" height="3.3" fill="#11ff15"/>
<rect x="456.14" y="187.76" width="3.3" height="3.3" fill="#2aff0f"/>
<rect x="459.14" y="187.76" width="3.3" height="3.3" fill="#44ff08"/>
<rect x="462.14" y="187.76" width="3.3" height="3.3" fill="#5fff00"/>
<rect x="465.14" y="187.76" width="3.3" height="3.3" fill="#7bff00"/>
<rect x="468.14" y="187.76" width="3.3" height="3.3" fill="#97ff00"/>
<rect x="471.14" y="187.76" width="3.3" height="3.3" fill="#b6ff00"/>
<rect x="474.14" y="187.76" width="3.3" height="3.3" fill="#d6ff00"/>
<rect x="477.14" y="187.76" width="3.3" height="3.3" fill="#f7ff00"/>
<rect x="480.14" y="187.76" width="3.3" height="3.3" fill="#ffe600"/>
<rect x="483.14" y="187.76" width="3.3" height="3.3" fill="#ffcc00"/>
<rect x="402.14" y="190.76" width="3.3" height="3.3" fill="#00ff64"/>
<rect x="405.14" y="190.76" width="3.3" height="3.3" fill="#00ff61"/>
<rect x="408.14" y="190.76" width="3.3" height="3.3" fill="#00ff5e"/>
<rect x="411.14" y="190.76" width="3.3" height="3.3" fill="#00ff5b"/>
<rect x="414.14" y="190.76" width="3.3" height="3.3" fill="#00ff58"/>
<rect x="417.14" y="190.76" width="3.3" height="3.3" fill="#00ff55"/>
<rect x="420.14" y="190.76" width="3.3" height="3.3" fill="#00ff51"/>
<rect x="423.14" y="190.76" width="3.3" height="3.3" fill="#00ff4e"/>
<rect x="426.14" y="190.76" width="3.3" height="3.3" fill="#00ff4a"/>
<rect x="429.14" y="190.76" width="3.3" height="3.3" fill="#00ff46"/>
<rect x="432.14" y="190.76" width="3.3" height="3.3" fill="#00ff42"/>
<rect x="435.14" y="190.76" width="3.3" height="3.3" fill="#00ff3e"/>
<rect x="438.14" y="190.76" width="3.3" height="3.3" fill="#00ff39"/>
<rect x="441.14" y="190.76" width="3.3" height="3.3" fill="#00ff34"/>
<rect x="444.14" y="190.76" width="3.3" height="3.3" fill="#00ff2f"/>
<rect x="447.14" y="190.76" width="3.3" height="3.3" fill="#00ff2a"/>
<rect x="450.14" y="190.76" width="3.3" height="3.3" fill="#00ff25"/>
<rect x="453.14" y="190.76" width="3.3" height="3.3" fill="#19ff1f"/>
<rect x="456.14" y="190.76" width="3.3" height="3.3" fill="#33ff18"/>
<rect x="459.14" y="190.76" width="3.3" height="3.3" fill="#4eff12"/>
<rect x="462.14" y="190.76" width="3.3" height="3.3" fill="#6bff0b"/>
<rect x="465.14" y="190.76" width="3.3" height="3.3" fill="#88ff03"/>
<rect x="468.14" y="190.76" width="3.3" height="3.3" fill="#a7ff00"/>
<rect x="471.14" y="190.76" width="3.3" height="3.3" fill="#c7ff00"/>
<rect x="474.14" y="190.76" width="3.3" height="3.3" fill="#e9ff00"/>
<rect x="477.14" y="190.76" width="3.3" height="3.3" fill="#fff200"/>
<rect x="480.14" y="190.76" width="3.3" height="3.3" fill="#ffd400"/>
<rect x="483.14" y="190.76" width="3.3" height="3.3" fill="#ffbc00"/>
<rect x="486.14" y="190.76" width="3.3" height="3.3" fill="#ffa700"/>
<rect x="402.14" y="193.76" width="3.3" height="3.3" fill="#00ff6d"/>
<rect x="405.14" y="193.76" width="3.3" height="3.3" fill="#00ff6a"/>
<rect x="408.14" y="193.76" width="3.3" height="3.3" fill="#00ff68"/>
<rect x="411.14" y="193.76" width="3.3" height="3.3" fill="#00ff65"/>
<rect x="414.14" y="193.76" width="3.3" height="3.3" fill="#00ff61"/>
<rect x="417.14" y="193.76" width="3.3" height="3.3" fill="#00ff5e"/>
<rect x="420.14" y="193.76" width="3.3" height="3.3" fill="#00ff5b"/>
<rect x="423.14" y="193.76" width="3.3" height="3.3" fill="#00ff57"/>
<rect x="426.14" y="193.76" width="3.3" height="3.3" fill="#00ff54"/>
<rect x="429.14" y="193.76" width="3.3" height="3.3" fill="#00ff50"/>
<rect x="432.14" y="193.76" width="3.3" height="3.3" fill="#00ff4c"/>
<rect x="435.14" y="193.76" width="3.3" height="3.3" fill="#00ff48"/>
<rect x="438.14" y="193.76" width="3.3" height="3.3" fill="#00ff43"/>
<rect x="441.14" y="193.76" width="3.3" height="3.3" fill="#00ff3e"/>
<rect x="444.14" y="193.76" width="3.3" height="3.3" fill="#00ff3a"/>
<rect x="447.14" y="193.76" width="3.3" height="3.3" fill="#00ff34"/>
<rect x="450.14" y="193.76" width="3.3" height="3.3" fill="#06ff2f"/>
<rect x="453.14" y="193.76" width="3.3" height="3.3" fill="#22ff29"/>
<rect x="456.14" y="193.76" width="3.3" height="3.3" fill="#3dff23"/>
<rect x="459.14" y="193.76" width="3.3" height="3.3" fill="#5aff1c"/>
<rect x="462.14" y="193.76" width="3.3" height="3.3" fill="#78ff15"/>
<rect x="465.14" y="193.76" width="3.3" height="3.3" fill="#97ff0e"/>
<rect x="468.14" y="193.76" width="3.3" height="3.3" fill="#b7ff05"/>
<rect x="471.14" y="193.76" width="3.3" height="3.3" fill="#daff00"/>
<rect x="474.14" y="193.76" width="3.3" height="3.3" fill="#feff00"/>
<rect x="477.14" y="193.76" width="3.3" height="3.3" fill="#ffde00"/>
<rect x="480.14" y="193.76" width="3.3" height="3.3" fill="#ffc300"/>
<rect x="483.14" y="193.76" width="3.3" height="3.3" fill="#ffac00"/>
<rect x="486.14" y="193.76" width="3.3" height="3.3" fill="#ff9900"/>
<rect x="489.14" y="193.76" width="3.3" height="3.3" fill="#ff8900"/>
<rect x="402.14" y="196.76" width="3.3" height="3.3" fill="#00ff77"/>
<rect x="405.14" y="196.76" width="3.3" height="3.3" fill="#00ff74"/>
<rect x="408.14" y="196.76" width="3.3" height="3.3" fill="#00ff71"/>
<rect x="411.14" y="196.76" width="3.3" height="3.3" fill="#00ff6e"/>
<rect x="414.14" y="196.76" width="3.3" height="3.3" fill="#00ff6b"/>
<rect x="417.14" y="196.76" width="3.3" height="3.3" fill="#00ff68"/>
<rect x="420.14" y="196.76" width="3.3" height="3.3" fill="#00ff65"/>
<rect x="423.14" y="196.76" width="3.3" height="3.3" fill="#00ff62"/>
<rect x="426.14" y="196.76" width="3.3" height="3.3" fill="#00ff5e"/>
<rect x="429.14" y="196.76" width="3.3" height="3.3" fill="#00ff5a"/>
<rect x="432.14" y="196.76" width="3.3" height="3.3" fill="#00ff56"/>
<rect x="435.14" y="196.76" width="3.3" height="3.3" fill="#00ff52"/>
<rect x="438.14" y="196.76" width="3.3" height="3.3" fill="#00ff4e"/>
<rect x="441.14" y="196.76" width="3.3" height="3.3" fill="#00ff49"/>
<rect x="444.14" y="196.76" width="3.3" height="3.3" fill="#00ff45"/>
<rect x="447.14" y="196.76" width="3.3" height="3.3" fill="#00ff40"/>
<rect x="450.14" y="196.76" width="3.3" height="3.3" fill="#0eff3a"/>
<rect x="453.14" y="196.76" width="3.3" height="3.3" fill="#2bff35"/>
<rect x="456.14" y="196.76" width="3.3" height="3.3" fill="#48ff2f"/>
<rect x="459.14" y="196.76" width="3.3" height="3.3" fill="#66ff28"/>
<rect x="462.14" y="196.76" width="3.3" height="3.3" fill="#86ff21"/>
<rect x="465.14" y="196.76" width="3.3" height="3.3" fill="#a7ff1a"/>
<rect x="468.14" y="196.76" width="3.3" height="3.3" fill="#caff11"/>
<rect x="471.14" y="196.76" width="3.3" height="3.3" fill="#efff08"/>
<rect x="474.14" y="196.76" width="3.3" height="3.3" fill="#ffea00"/>
<rect x="477.14" y="196.76" width="3.3" height="3.3" fill="#ffcb00"/>
<rect x="480.14" y="196.76" width="3.3" height="3.3" fill="#ffb200"/>
<rect x="483.14" y="196.76" width="3.3" height="3.3" fill="#ff9e00"/>
<rect x="486.14" y="196.76" width="3.3" height="3.3" fill="#ff8c00"/>
<rect x="489.14" y="196.76" width="3.3" height="3.3" fill="#ff7d00"/>
<rect x="492.14" y="196.76" width="3.3" height="3.3" fill="#ff7000"/>
<rect x="402.14" y="199.76" width="3.3" height="3.3" fill="#00ff81"/>
<rect x="405.14" y="199.76" width="3.3" height="3.3" fill="#00ff7e"/>
<rect x="408.14" y="199.76" width="3.3" height="3.3" fill="#00ff7c"/>
<rect x="411.14" y="199.76" width="3.3" height="3.3" fill="#00ff79"/>
<rect x="414.14" y="199.76" width="3.3" height="3.3" fill="#00ff76"/>
<rect x="417.14" y="199.76" width="3.3" height="3.3" fill="#00ff73"/>
<rect x="420.14" y="199.76" width="3.3" height="3.3" fill="#00ff70"/>
<rect x="423.14" y="199.76" width="3.3" height="3.3" fill="#00ff6d"/>
<rect x="426.14" y="199.76" width="3.3" height="3.3" fill="#00ff69"/>
<rect x="429.14" y="199.76" width="3.3" height="3.3" fill="#00ff66"/>
<rect x="432.14" y="199.76" width="3.3" height="3.3" fill="#00ff62"/>
<rect x="435.14" y="199.76" width="3.3" height="3.3" fill="#00ff5e"/>
<rect x="438.14" y="199.76" width="3.3" height="3.3" fill="#00ff5a"/>
<rect x="441.14" y="199.76" width="3.3" height="3.3" fill="#00ff55"/>
<rect x="444.14" y="199.76" width="3.3" height="3.3" fill="#00ff51"/>
<rect x="447.14" y="199.76" width="3.3" height="3.3" fill="#01ff4c"/>
<rect x="450.14" y="199.76" width="3.3" height="3.3" fill="#18ff47"/>
<rect x="453.14" y="199.76" width="3.3" height="3.3" fill="#36ff41"/>
<rect x="456.14" y="199.76" width="3.3" height="3.3" fill="#55ff3c"/>
<rect x="459.14" y="199.76" width="3.3" height="3.3" fill="#75ff35"/>
<rect x="462.14" y="199.76" width="3.3" height="3.3" fill="#96ff2e"/>
<rect x="465.14" y="199.76" width="3.3" height="3.3" fill="#b9ff27"/>
<rect x="468.14" y="199.76" width="3.3" height="3.3" fill="#dfff1f"/>
<rect x="471.14" y="199.76" width="3.3" height="3.3" fill="#fff815"/>
<rect x="474.14" y="199.76" width="3.3" height="3.3" fill="#ffd50a"/>
<rect x="477.14" y="199.76" width="3.3" height="3.3" fill="#ffb901"/>
<rect x="480.14" y="199.76" width="3.3" height="3.3" fill="#ffa300"/>
<rect x="483.14" y="199.76" width="3.3" height="3.3" fill="#ff9000"/>
<rect x="486.14" y="199.76" width="3.3" height="3.3" fill="#ff8000"/>
<rect x="489.14" y="199.76" width="3.3" height="3.3" fill="#ff7200"/>
<rect x="492.14" y="199.76" width="3.3" height="3.3" fill="#ff6600"/>
<rect x="495.14" y="199.76" width="3.3" height="3.3" fill="#ff5b00"/>
<rect x="405.14" y="202.76" width="3.3" height="3.3" fill="#00ff89"/>
<rect x="408.14" y="202.76" width="3.3" height="3.3" fill="#00ff87"/>
<rect x="411.14" y="202.76" width="3.3" height="3.3" fill="#00ff84"/>
<rect x="414.14" y="202.76" width="3.3" height="3.3" fill="#00ff82"/>
<rect x="417.14" y="202.76" width="3.3" height="3.3" fill="#00ff7f"/>
<rect x="420.14" y="202.76" width="3.3" height="3.3" fill="#00ff7c"/>
<rect x="423.14" y="202.76" width="3.3" height="3.3" fill="#00ff79"/>
<rect x="426.14" y="202.76" width="3.3" height="3.3" fill="#00ff75"/>
<rect x="429.14" y="202.76" width="3.3" height="3.3" fill="#00ff72"/>
<rect x="432.14" y="202.76" width="3.3" height="3.3" fill="#00ff6e"/>
<rect x="435.14" y="202.76" width="3.3" height="3.3" fill="#00ff6b"/>
<rect x="438.14" y="202.76" width="3.3" height="3.3" fill="#00ff67"/>
<rect x="441.14" y="202.76" width="3.3" height="3.3" fill="#01ff63"/>
<rect x="444.14" y="202.76" width="3.3" height="3.3" fill="#01ff5e"/>
<rect x="447.14" y="202.76" width="3.3" height="3.3" fill="#03ff5a"/>
<rect x="450.14" y="202.76" width="3.3" height="3.3" fill="#23ff55"/>
<rect x="453.14" y="202.76" width="3.3" height="3.3" fill="#42ff50"/>
<rect x="456.14" y="202.76" width="3.3" height="3.3" fill="#63ff4b"/>
<rect x="459.14" y="202.76" width="3.3" height="3.3" fill="#85ff45"/>
<rect x="462.14" y="202.76" width="3.3" height="3.3" fill="#a8ff3e"/>
<rect x="465.14" y="202.76" width="3.3" height="3.3" fill="#ceff36"/>
<rect x="468.14" y="202.76" width="3.3" height="3.3" fill="#f6ff2e"/>
<rect x="471.14" y="202.76" width="3.3" height="3.3" fill="#ffe121"/>
<rect x="474.14" y="202.76" width="3.3" height="3.3" fill="#ffc215"/>
<rect x="477.14" y="202.76" width="3.3" height="3.3" fill="#ffa90b"/>
<rect x="480.14" y="202.76" width="3.3" height="3.3" fill="#ff9403"/>
<rect x="483.14" y="202.76" width="3.3" height="3.3" fill="#ff8200"/>
<rect x="486.14" y="202.76" width="3.3" height="3.3" fill="#ff7400"/>
<rect x="489.14" y="202.76" width="3.3" height="3.3" fill="#ff6700"/>
<rect x="492.14" y="202.76" width="3.3" height="3.3" fill="#ff5c00"/>
<rect x="495.14" y="202.76" width="3.3" height="3.3" fill="#ff5200"/>
<rect x="498.14" y="202.76" width="3.3" height="3.3" fill="#ff4900"/>
<rect x="405.14" y="205.76" width="3.3" height="3.3" fill="#00ff95"/>
<rect x="408.14" y="205.76" width="3.3" height="3.3" fill="#00ff93"/>
<rect x="411.14" y="205.76" width="3.3" height="3.3" fill="#00ff91"/>
<rect x="414.14" y="205.76" width="3.3" height="3.3" fill="#00ff8e"/>
<rect x="417.14" y="205.76" width="3.3" height="3.3" fill="#00ff8b"/>
<rect x="420.14" y="205.76" width="3.3" height="3.3" fill="#00ff89"/>
<rect x="423.14" y="205.76" width="3.3" height="3.3" fill="#00ff86"/>
<rect x="426.14" y="205.76" width="3.3" height="3.3" fill="#00ff83"/>
<rect x="429.14" y="205.76" width="3.3" height="3.3" fill="#00ff7f"/>
<rect x="432.14" y="205.76" width="3.3" height="3.3" fill="#00ff7c"/>
<rect x="435.14" y="205.76" width="3.3" height="3.3" fill="#00ff78"/>
<rect x="438.14" y="205.76" width="3.3" height="3.3" fill="#01ff75"/>
<rect x="441.14" y="205.76" width="3.3" height="3.3" fill="#02ff71"/>
<rect x="444.14" y="205.76" width="3.3" height="3.3" fill="#03ff6d"/>
<rect x="447.14" y="205.76" width="3.3" height="3.3" fill="#0eff6a"/>
<rect x="450.14" y="205.76" width="3.3" height="3.3" fill="#30ff66"/>
<rect x="453.14" y="205.76" width="3.3" height="3.3" fill="#51ff62"/>
<rect x="456.14" y="205.76" width="3.3" height="3.3" fill="#74ff5d"/>
<rect x="459.14" y="205.76" width="3.3" height="3.3" fill="#98ff57"/>
<rect x="462.14" y="205.76" width="3.3" height="3.3" fill="#bdff50"/>
<rect x="465.14" y="205.76" width="3.3" height="3.3" fill="#e5ff49"/>
<rect x="468.14" y="205.76" width="3.3" height="3.3" fill="#ffef3c"/>
<rect x="471.14" y="205.76" width="3.3" height="3.3" fill="#ffcc2c"/>
<rect x="474.14" y="205.76" width="3.3" height="3.3" fill="#ffb01f"/>
<rect x="477.14" y="205.76" width="3.3" height="3.3" fill="#ff9915"/>
<rect x="480.14" y="205.76" width="3.3" height="3.3" fill="#ff860c"/>
<rect x="483.14" y="205.76" width="3.3" height="3.3" fill="#ff7604"/>
<rect x="486.14" y="205.76" width="3.3" height="3.3" fill="#ff6800"/>
<rect x="489.14" y="205.76" width="3.3" height="3.3" fill="#ff5c00"/>
<rect x="492.14" y="205.76" width="3.3" height="3.3" fill="#ff5200"/>
<rect x="495.14" y="205.76" width="3.3" height="3.3" fill="#ff4900"/>
<rect x="498.14" y="205.76" width="3.3" height="3.3" fill="#ff4100"/>
<rect x="501.14" y="205.76" width="3.3" height="3.3" fill="#ff3a00"/>
<rect x="405.14" y="208.76" width="3.3" height="3.3" fill="#00ffa2"/>
<rect x="408.14" y="208.76" width="3.3" height="3.3" fill="#00ffa0"/>
<rect x="411.14" y="208.76" width="3.3" height="3.3" fill="#00ff9e"/>
<rect x="414.14" y="208.76" width="3.3" height="3.3" fill="#00ff9c"/>
<rect x="417.14" y="208.76" width="3.3" height="3.3" fill="#00ff99"/>
<rect x="420.14" y="208.76" width="3.3" height="3.3" fill="#00ff97"/>
<rect x="423.14" y="208.76" width="3.3" height="3.3" fill="#00ff94"/>
<rect x="426.14" y="208.76" width="3.3" height="3.3" fill="#00ff91"/>
<rect x="429.14" y="208.76" width="3.3" height="3.3" fill="#00ff8e"/>
<rect x="432.14" y="208.76" width="3.3" height="3.3" fill="#00ff8b"/>
<rect x="435.14" y="208.76" width="3.3" height="3.3" fill="#01ff88"/>
<rect x="438.14" y="208.76" width="3.3" height="3.3" fill="#02ff85"/>
<rect x="441.14" y="208.76" width="3.3" height="3.3" fill="#03ff82"/>
<rect x="444.14" y="208.76" width="3.3" height="3.3" fill="#05ff7f"/>
<rect x="447.14" y="208.76" width="3.3" height="3.3" fill="#1cff7c"/>
<rect x="450.14" y="208.76" width="3.3" height="3.3" fill="#40ff79"/>
<rect x="453.14" y="208.76" width="3.3" height="3.3" fill="#64ff76"/>
<rect x="456.14" y="208.76" width="3.3" height="3.3" fill="#88ff72"/>
<rect x="459.14" y="208.76" width="3.3" height="3.3" fill="#adff6d"/>
<rect x="462.14" y="208.76" width="3.3" height="3.3" fill="#d5ff67"/>
<rect x="465.14" y="208.76" width="3.3" height="3.3" fill="#ffff5f"/>
<rect x="468.14" y="208.76" width="3.3" height="3.3" fill="#ffd84a"/>
<rect x="471.14" y="208.76" width="3.3" height="3.3" fill="#ffb939"/>
<rect x="474.14" y="208.76" width="3.3" height="3.3" fill="#ff9f2a"/>
<rect x="477.14" y="208.76" width="3.3" height="3.3" fill="#ff8a1e"/>
<rect x="480.14" y="208.76" width="3.3" height="3.3" fill="#ff7915"/>
<rect x="483.14" y="208.76" width="3.3" height="3.3" fill="#ff6a0c"/>
<rect x="486.14" y="208.76" width="3.3" height="3.3" fill="#ff5d05"/>
<rect x="489.14" y="208.76" width="3.3" height="3.3" fill="#ff5200"/>
<rect x="492.14" y="208.76" width="3.3" height="3.3" fill="#ff4800"/>
<rect x="495.14" y="208.76" width="3.3" height="3.3" fill="#ff4000"/>
<rect x="498.14" y="208.76" width="3.3" height="3.3" fill="#ff3800"/>
<rect x="501.14" y="208.76" width="3.3" height="3.3" fill="#ff3200"/>
<rect x="504.14" y="208.76" width="3.3" height="3.3" fill="#ff2c00"/>
<rect x="405.14" y="211.76" width="3.3" height="3.3" fill="#00ffb0"/>
<rect x="408.14" y="211.76" width="3.3" height="3.3" fill="#00ffae"/>
<rect x="411.14" y="211.76" width="3.3" height="3.3" fill="#00ffac"/>
<rect x="414.14" y="211.76" width="3.3" height="3.3" fill="#00ffaa"/>
<rect x="417.14" y="211.76" width="3.3" height="3.3" fill="#00ffa8"/>
<rect x="420.14" y="211.76" width="3.3" height="3.3" fill="#00ffa6"/>
<rect x="423.14" y="211.76" width="3.3" height="3.3" fill="#00ffa3"/>
<rect x="426.14" y="211.76" width="3.3" height="3.3" fill="#00ffa1"/>
<rect x="429.14" y="211.76" width="3.3" height="3.3" fill="#00ff9e"/>
<rect x="432.14" y="211.76" width="3.3" height="3.3" fill="#01ff9b"/>
<rect x="435.14" y="211.76" width="3.3" height="3.3" fill="#02ff99"/>
<rect x="438.14" y="211.76" width="3.3" height="3.3" fill="#03ff96"/>
<rect x="441.14" y="211.76" width="3.3" height="3.3" fill="#06ff94"/>
<rect x="444.14" y="211.76" width="3.3" height="3.3" fill="#0aff92"/>
<rect x="447.14" y="211.76" width="3.3" height="3.3" fill="#2dff91"/>
<rect x="450.14" y="211.76" width="3.3" height="3.3" fill="#54ff90"/>
<rect x="453.14" y="211.76" width="3.3" height="3.3" fill="#7aff8e"/>
<rect x="456.14" y="211.76" width="3.3" height="3.3" fill="#a0ff8c"/>
<rect x="459.14" y="211.76" width="3.3" height="3.3" fill="#c6ff88"/>
<rect x="462.14" y="211.76" width="3.3" height="3.3" fill="#eeff82"/>
<rect x="465.14" y="211.76" width="3.3" height="3.3" fill="#ffe66f"/>
<rect x="468.14" y="211.76" width="3.3" height="3.3" fill="#ffc559"/>
<rect x="471.14" y="211.76" width="3.3" height="3.3" fill="#ffa946"/>
<rect x="474.14" y="211.76" width="3.3" height="3.3" fill="#ff9136"/>
<rect x="477.14" y="211.76" width="3.3" height="3.3" fill="#ff7d28"/>
<rect x="480.14" y="211.76" width="3.3" height="3.3" fill="#ff6c1d"/>
<rect x="483.14" y="211.76" width="3.3" height="3.3" fill="#ff5e14"/>
<rect x="486.14" y="211.76" width="3.3" height="3.3" fill="#ff520d"/>
<rect x="489.14" y="211.76" width="3.3" height="3.3" fill="#ff4806"/>
<rect x="492.14" y="211.76" width="3.3" height="3.3" fill="#ff3f01"/>
<rect x="495.14" y="211.76" width="3.3" height="3.3" fill="#ff3700"/>
<rect x="498.14" y="211.76" width="3.3" height="3.3" fill="#ff3000"/>
<rect x="501.14" y="211.76" width="3.3" height="3.3" fill="#ff2a00"/>
<rect x="504.14" y="211.76" width="3.3" height="3.3" fill="#ff2500"/>
<rect x="507.14" y="211.76" width="3.3" height="3.3" fill="#ff1f00"/>
<rect x="405.14" y="214.76" width="3.3" height="3.3" fill="#00ffbf"/>
<rect x="408.14" y="214.76" width="3.3" height="3.3" fill="#00ffbd"/>
<rect x="411.14" y="214.76" width="3.3" height="3.3" fill="#00ffbc"/>
<rect x="414.14" y="214.76" width="3.3" height="3.3" fill="#00ffba"/>
<rect x="417.14" y="214.76" width="3.3" height="3.3" fill="#00ffb8"/>
<rect x="420.14" y="214.76" width="3.3" height="3.3" fill="#00ffb6"/>
<rect x="423.14" y="214.76" width="3.3" height="3.3" fill="#00ffb4"/>
<rect x="426.14" y="214.76" width="3.3" height="3.3" fill="#00ffb2"/>
<rect x="429.14" y="214.76" width="3.3" height="3.3" fill="#01ffb0"/>
<rect x="432.14" y="214.76" width="3.3" height="3.3" fill="#01ffae"/>
<rect x="435.14" y="214.76" width="3.3" height="3.3" fill="#03ffac"/>
<rect x="438.14" y="214.76" width="3.3" height="3.3" fill="#06ffaa"/>
<rect x="441.14" y="214.76" width="3.3" height="3.3" fill="#0bffa9"/>
<rect x="444.14" y="214.76" width="3.3" height="3.3" fill="#17ffa8"/>
<rect x="447.14" y="214.76" width="3.3" height="3.3" fill="#42ffa8"/>
<rect x="450.14" y="214.76" width="3.3" height="3.3" fill="#6cffa9"/>
<rect x="453.14" y="214.76" width="3.3" height="3.3" fill="#94ffa9"/>
<rect x="456.14" y="214.76" width="3.3" height="3.3" fill="#baffa8"/>
<rect x="459.14" y="214.76" width="3.3" height="3.3" fill="#e0ffa6"/>
<rect x="462.14" y="214.76" width="3.3" height="3.3" fill="#fff79c"/>
<rect x="465.14" y="214.76" width="3.3" height="3.3" fill="#ffd482"/>
<rect x="468.14" y="214.76" width="3.3" height="3.3" fill="#ffb66b"/>
<rect x="471.14" y="214.76" width="3.3" height="3.3" fill="#ff9c55"/>
<rect x="474.14" y="214.76" width="3.3" height="3.3" fill="#ff8543"/>
<rect x="477.14" y="214.76" width="3.3" height="3.3" fill="#ff7233"/>
<rect x="480.14" y="214.76" width="3.3" height="3.3" fill="#ff6126"/>
<rect x="483.14" y="214.76" width="3.3" height="3.3" fill="#ff541c"/>
<rect x="486.14" y="214.76" width="3.3" height="3.3" fill="#ff4814"/>
<rect x="489.14" y="214.76" width="3.3" height="3.3" fill="#ff3f0d"/>
<rect x="492.14" y="214.76" width="3.3" height="3.3" fill="#ff3607"/>
<rect x="495.14" y="214.76" width="3.3" height="3.3" fill="#ff2f02"/>
<rect x="498.14" y="214.76" width="3.3" height="3.3" fill="#ff2900"/>
<rect x="501.14" y="214.76" width="3.3" height="3.3" fill="#ff2300"/>
<rect x="504.14" y="214.76" width="3.3" height="3.3" fill="#ff1e00"/>
<rect x="507.14" y="214.76" width="3.3" height="3.3" fill="#ff1900"/>
<rect x="510.14" y="214.76" width="3.3" height="3.3" fill="#ff1400"/>
<rect x="405.14" y="217.76" width="3.3" height="3.3" fill="#00ffcf"/>
<rect x="408.14" y="217.76" width="3.3" height="3.3" fill="#00ffce"/>
<rect x="411.14" y="217.76" width="3.3" height="3.3" fill="#00ffcd"/>
<rect x="414.14" y="217.76" width="3.3" height="3.3" fill="#00ffcc"/>
<rect x="417.14" y="217.76" width="3.3" height="3.3" fill="#00ffca"/>
<rect x="420.14" y="217.76" width="3.3" height="3.3" fill="#00ffc9"/>
<rect x="423.14" y="217.76" width="3.3" height="3.3" fill="#00ffc7"/>
<rect x="426.14" y="217.76" width="3.3" height="3.3" fill="#00ffc5"/>
<rect x="429.14" y="217.76" width="3.3" height="3.3" fill="#01ffc4"/>
<rect x="432.14" y="217.76" width="3.3" height="3.3" fill="#02ffc2"/>
<rect x="435.14" y="217.76" width="3.3" height="3.3" fill="#05ffc1"/>
<rect x="438.14" y="217.76" width="3.3" height="3.3" fill="#09ffc0"/>
<rect x="441.14" y="217.76" width="3.3" height="3.3" fill="#10ffbf"/>
<rect x="444.14" y="217.76" width="3.3" height="3.3" fill="#2bffc0"/>
<rect x="447.14" y="217.76" width="3.3" height="3.3" fill="#5affc2"/>
<rect x="450.14" y="217.76" width="3.3" height="3.3" fill="#87ffc4"/>
<rect x="453.14" y="217.76" width="3.3" height="3.3" fill="#b0ffc6"/>
<rect x="456.14" y="217.76" width="3.3" height="3.3" fill="#d5ffc6"/>
<rect x="459.14" y="217.76" width="3.3" height="3.3" fill="#f8ffc5"/>
<rect x="462.14" y="217.76" width="3.3" height="3.3" fill="#ffe4af"/>
<rect x="465.14" y="217.76" width="3.3" height="3.3" fill="#ffc897"/>
<rect x="468.14" y="217.76" width="3.3" height="3.3" fill="#ffad7e"/>
<rect x="471.14" y="217.76" width="3.3" height="3.3" fill="#ff9466"/>
<rect x="474.14" y="217.76" width="3.3" height="3.3" fill="#ff7c50"/>
<rect x="477.14" y="217.76" width="3.3" height="3.3" fill="#ff683e"/>
<rect x="480.14" y="217.76" width="3.3" height="3.3" fill="#ff572f"/>
<rect x="483.14" y="217.76" width="3.3" height="3.3" fill="#ff4a23"/>
<rect x="486.14" y="217.76" width="3.3" height="3.3" fill="#ff3f1a"/>
<rect x="489.14" y="217.76" width="3.3" height="3.3" fill="#ff3513"/>
<rect x="492.14" y="217.76" width="3.3" height="3.3" fill="#ff2e0d"/>
<rect x="495.14" y="217.76" width="3.3" height="3.3" fill="#ff2708"/>
<rect x="498.14" y="217.76" width="3.3" height="3.3" fill="#ff2103"/>
<rect x="501.14" y="217.76" width="3.3" height="3.3" fill="#ff1b00"/>
<rect x="504.14" y="217.76" width="3.3" height="3.3" fill="#ff1700"/>
<rect x="507.14" y="217.76" width="3.3" height="3.3" fill="#ff1200"/>
<rect x="510.14" y="217.76" width="3.3" height="3.3" fill="#ff0e00"/>
<rect x="513.14" y="217.76" width="3.3" height="3.3" fill="#ff0a00"/>
<rect x="405.14" y="220.76" width="6.3" height="3.3" fill="#00ffe1"/>
<rect x="411.14" y="220.76" width="3.3" height="3.3" fill="#00ffe0"/>
<rect x="414.14" y="220.76" width="3.3" height="3.3" fill="#00ffdf"/>
<rect x="417.14" y="220.76" width="3.3" height="3.3" fill="#00ffde"/>
<rect x="420.14" y="220.76" width="3.3" height="3.3" fill="#00ffdd"/>
<rect x="423.14" y="220.76" width="3.3" height="3.3" fill="#00ffdc"/>
<rect x="426.14" y="220.76" width="3.3" height="3.3" fill="#00ffdb"/>
<rect x="429.14" y="220.76" width="3.3" height="3.3" fill="#01ffda"/>
<rect x="432.14" y="220.76" width="3.3" height="3.3" fill="#03ffd9"/>
<rect x="435.14" y="220.76" width="3.3" height="3.3" fill="#06ffd8"/>
<rect x="438.14" y="220.76" width="3.3" height="3.3" fill="#0dffd8"/>
<rect x="441.14" y="220.76" width="3.3" height="3.3" fill="#17ffd8"/>
<rect x="444.14" y="220.76" width="3.3" height="3.3" fill="#41ffd9"/>
<rect x="447.14" y="220.76" width="3.3" height="3.3" fill="#73ffdb"/>
<rect x="450.14" y="220.76" width="3.3" height="3.3" fill="#a2ffde"/>
<rect x="453.14" y="220.76" width="3.3" height="3.3" fill="#cbffe0"/>
<rect x="456.14" y="220.76" width="3.3" height="3.3" fill="#edffe2"/>
<rect x="459.14" y="220.76" width="3.3" height="3.3" fill="#fff3d8"/>
<rect x="462.14" y="220.76" width="3.3" height="3.3" fill="#ffdbc3"/>
<rect x="465.14" y="220.76" width="3.3" height="3.3" fill="#ffc3ab"/>
<rect x="468.14" y="220.76" width="3.3" height="3.3" fill="#ffa992"/>
<rect x="471.14" y="220.76" width="3.3" height="3.3" fill="#ff8f77"/>
<rect x="474.14" y="220.76" width="3.3" height="3.3" fill="#ff765e"/>
<rect x="477.14" y="220.76" width="3.3" height="3.3" fill="#ff6149"/>
<rect x="480.14" y="220.76" width="3.3" height="3.3" fill="#ff4f38"/>
<rect x="483.14" y="220.76" width="3.3" height="3.3" fill="#ff412b"/>
<rect x="486.14" y="220.76" width="3.3" height="3.3" fill="#ff3521"/>
<rect x="489.14" y="220.76" width="3.3" height="3.3" fill="#ff2d19"/>
<rect x="492.14" y="220.76" width="3.3" height="3.3" fill="#ff2512"/>
<rect x="495.14" y="220.76" width="3.3" height="3.3" fill="#ff1f0d"/>
<rect x="498.14" y="220.76" width="3.3" height="3.3" fill="#ff1908"/>
<rect x="501.14" y="220.76" width="3.3" height="3.3" fill="#ff1404"/>
<rect x="504.14" y="220.76" width="3.3" height="3.3" fill="#ff1000"/>
<rect x="507.14" y="220.76" width="3.3" height="3.3" fill="#ff0c00"/>
<rect x="510.14" y="220.76" width="3.3" height="3.3" fill="#ff0800"/>
<rect x="513.14" y="220.76" width="3.3" height="3.3" fill="#ff0400"/>
<rect x="516.14" y="220.76" width="3.3" height="3.3" fill="#ff0000"/>
<rect x="408.14" y="223.76" width="3.3" height="3.3" fill="#00fff5"/>
<rect x="411.14" y="223.76" width="12.3" height="3.3" fill="#00fff4"/>
<rect x="423.14" y="223.76" width="3.3" height="3.3" fill="#00fff3"/>
<rect x="426.14" y="223.76" width="3.3" height="3.3" fill="#01fff3"/>
<rect x="429.14" y="223.76" width="3.3" height="3.3" fill="#02fff3"/>
<rect x="432.14" y="223.76" width="3.3" height="3.3" fill="#04fff2"/>
<rect x="435.14" y="223.76" width="3.3" height="3.3" fill="#08fff2"/>
<rect x="438.14" y="223.76" width="3.3" height="3.3" fill="#11fff2"/>
<rect x="441.14" y="223.76" width="3.3" height="3.3" fill="#1efff3"/>
<rect x="444.14" y="223.76" width="3.3" height="3.3" fill="#56fff3"/>
<rect x="447.14" y="223.76" width="3.3" height="3.3" fill="#8dfff4"/>
<rect x="450.14" y="223.76" width="3.3" height="3.3" fill="#bdfff6"/>
<rect x="453.14" y="223.76" width="3.3" height="3.3" fill="#e3fff7"/>
<rect x="456.14" y="223.76" width="3.3" height="3.3" fill="#fffef7"/>
<rect x="459.14" y="223.76" width="3.3" height="3.3" fill="#ffeae5"/>
<rect x="462.14" y="223.76" width="3.3" height="3.3" fill="#ffd9d4"/>
<rect x="465.14" y="223.76" width="3.3" height="3.3" fill="#ffc4be"/>
<rect x="468.14" y="223.76" width="3.3" height="3.3" fill="#ffaaa4"/>
<rect x="471.14" y="223.76" width="3.3" height="3.3" fill="#ff8d87"/>
<rect x="474.14" y="223.76" width="3.3" height="3.3" fill="#ff726b"/>
<rect x="477.14" y="223.76" width="3.3" height="3.3" fill="#ff5a53"/>
<rect x="480.14" y="223.76" width="3.3" height="3.3" fill="#ff4740"/>
<rect x="483.14" y="223.76" width="3.3" height="3.3" fill="#ff3832"/>
<rect x="486.14" y="223.76" width="3.3" height="3.3" fill="#ff2d27"/>
<rect x="489.14" y="223.76" width="3.3" height="3.3" fill="#ff241e"/>
<rect x="492.14" y="223.76" width="3.3" height="3.3" fill="#ff1d18"/>
<rect x="495.14" y="223.76" width="3.3" height="3.3" fill="#ff1712"/>
<rect x="498.14" y="223.76" width="3.3" height="3.3" fill="#ff120d"/>
<rect x="501.14" y="223.76" width="3.3" height="3.3" fill="#ff0d09"/>
<rect x="504.14" y="223.76" width="3.3" height="3.3" fill="#ff0905"/>
<rect x="507.14" y="223.76" width="3.3" height="3.3" fill="#ff0501"/>
<rect x="510.14" y="223.76" width="3.3" height="3.3" fill="#ff0100"/>
<rect x="513.14" y="223.76" width="9.3" height="3.3" fill="#ff0000"/>
<rect x="408.14" y="226.76" width="3.3" height="3.3" fill="#00f4ff"/>
<rect x="411.14" y="226.76" width="6.3" height="3.3" fill="#00f3ff"/>
<rect x="417.14" y="226.76" width="6.3" height="3.3" fill="#00f2ff"/>
<rect x="423.14" y="226.76" width="3.3" height="3.3" fill="#00f1ff"/>
<rect x="426.14" y="226.76" width="3.3" height="3.3" fill="#01f1ff"/>
<rect x="429.14" y="226.76" width="3.3" height="3.3" fill="#02f0ff"/>
<rect x="432.14" y="226.76" width="3.3" height="3.3" fill="#05f0ff"/>
<rect x="435.14" y="226.76" width="3.3" height="3.3" fill="#0aefff"/>
<rect x="438.14" y="226.76" width="3.3" height="3.3" fill="#14efff"/>
<rect x="441.14" y="226.76" width="3.3" height="3.3" fill="#2ef0ff"/>
<rect x="444.14" y="226.76" width="3.3" height="3.3" fill="#67f1ff"/>
<rect x="447.14" y="226.76" width="3.3" height="3.3" fill="#9ef2ff"/>
<rect x="450.14" y="226.76" width="3.3" height="3.3" fill="#ccf4ff"/>
<rect x="453.14" y="226.76" width="3.3" height="3.3" fill="#eef6ff"/>
<rect x="456.14" y="226.76" width="3.3" height="3.3" fill="#fff4fa"/>
<rect x="459.14" y="226.76" width="3.3" height="3.3" fill="#ffe8ee"/>
<rect x="462.14" y="226.76" width="3.3" height="3.3" fill="#ffdbe0"/>
<rect x="465.14" y="226.76" width="3.3" height="3.3" fill="#ffc7cd"/>
<rect x="468.14" y="226.76" width="3.3" height="3.3" fill="#ffabb2"/>
<rect x="471.14" y="226.76" width="3.3" height="3.3" fill="#ff8c94"/>
<rect x="474.14" y="226.76" width="3.3" height="3.3" fill="#ff6d76"/>
<rect x="477.14" y="226.76" width="3.3" height="3.3" fill="#ff535c"/>
<rect x="480.14" y="226.76" width="3.3" height="3.3" fill="#ff3f48"/>
<rect x="483.14" y="226.76" width="3.3" height="3.3" fill="#ff2f38"/>
<rect x="486.14" y="226.76" width="3.3" height="3.3" fill="#ff242d"/>
<rect x="489.14" y="226.76" width="3.3" height="3.3" fill="#ff1c24"/>
<rect x="492.14" y="226.76" width="3.3" height="3.3" fill="#ff151d"/>
<rect x="495.14" y="226.76" width="3.3" height="3.3" fill="#ff0f17"/>
<rect x="498.14" y="226.76" width="3.3" height="3.3" fill="#ff0a12"/>
<rect x="501.14" y="226.76" width="3.3" height="3.3" fill="#ff060d"/>
<rect x="504.14" y="226.76" width="3.3" height="3.3" fill="#ff0209"/>
<rect x="507.14" y="226.76" width="3.3" height="3.3" fill="#ff0005"/>
<rect x="510.14" y="226.76" width="3.3" height="3.3" fill="#ff0002"/>
<rect x="513.14" y="226.76" width="12.3" height="3.3" fill="#ff0000"/>
<rect x="408.14" y="229.76" width="3.3" height="3.3" fill="#00dfff"/>
<rect x="411.14" y="229.76" width="3.3" height="3.3" fill="#00deff"/>
<rect x="414.14" y="229.76" width="3.3" height="3.3" fill="#00ddff"/>
<rect x="417.14" y="229.76" width="3.3" height="3.3" fill="#00dcff"/>
<rect x="420.14" y="229.76" width="3.3" height="3.3" fill="#00daff"/>
<rect x="423.14" y="229.76" width="3.3" height="3.3" fill="#00d9ff"/>
<rect x="426.14" y="229.76" width="3.3" height="3.3" fill="#01d8ff"/>
<rect x="429.14" y="229.76" width="3.3" height="3.3" fill="#02d7ff"/>
<rect x="432.14" y="229.76" width="3.3" height="3.3" fill="#05d6ff"/>
<rect x="435.14" y="229.76" width="3.3" height="3.3" fill="#0bd5ff"/>
<rect x="438.14" y="229.76" width="3.3" height="3.3" fill="#15d5ff"/>
<rect x="441.14" y="229.76" width="3.3" height="3.3" fill="#3ad7ff"/>
<rect x="444.14" y="229.76" width="3.3" height="3.3" fill="#71daff"/>
<rect x="447.14" y="229.76" width="3.3" height="3.3" fill="#a5dfff"/>
<rect x="450.14" y="229.76" width="3.3" height="3.3" fill="#d1e5ff"/>
<rect x="453.14" y="229.76" width="3.3" height="3.3" fill="#f0ebff"/>
<rect x="456.14" y="229.76" width="3.3" height="3.3" fill="#ffedfc"/>
<rect x="459.14" y="229.76" width="3.3" height="3.3" fill="#ffe7f2"/>
<rect x="462.14" y="229.76" width="3.3" height="3.3" fill="#ffdce7"/>
<rect x="465.14" y="229.76" width="3.3" height="3.3" fill="#ffc6d4"/>
<rect x="468.14" y="229.76" width="3.3" height="3.3" fill="#ffa9ba"/>
<rect x="471.14" y="229.76" width="3.3" height="3.3" fill="#ff879c"/>
<rect x="474.14" y="229.76" width="3.3" height="3.3" fill="#ff677d"/>
<rect x="477.14" y="229.76" width="3.3" height="3.3" fill="#ff4b63"/>
<rect x="480.14" y="229.76" width="3.3" height="3.3" fill="#ff364e"/>
<rect x="483.14" y="229.76" width="3.3" height="3.3" fill="#ff263e"/>
<rect x="486.14" y="229.76" width="3.3" height="3.3" fill="#ff1b32"/>
<rect x="489.14" y="229.76" width="3.3" height="3.3" fill="#ff1329"/>
<rect x="492.14" y="229.76" width="3.3" height="3.3" fill="#ff0d22"/>
<rect x="495.14" y="229.76" width="3.3" height="3.3" fill="#ff081c"/>
<rect x="498.14" y="229.76" width="3.3" height="3.3" fill="#ff0316"/>
<rect x="501.14" y="229.76" width="3.3" height="3.3" fill="#ff0012"/>
<rect x="504.14" y="229.76" width="3.3" height="3.3" fill="#ff000d"/>
<rect x="507.14" y="229.76" width="3.3" height="3.3" fill="#ff0009"/>
<rect x="510.14" y="229.76" width="3.3" height="3.3" fill="#ff0006"/>
<rect x="513.14" y="229.76" width="3.3" height="3.3" fill="#ff0002"/>
<rect x="516.14" y="229.76" width="12.3" height="3.3" fill="#ff0000"/>
<rect x="408.14" y="232.76" width="3.3" height="3.3" fill="#00cbff"/>
<rect x="411.14" y="232.76" width="3.3" height="3.3" fill="#00caff"/>
<rect x="414.14" y="232.76" width="3.3" height="3.3" fill="#00c8ff"/>
<rect x="417.14" y="232.76" width="3.3" height="3.3" fill="#00c7ff"/>
<rect x="420.14" y="232.76" width="3.3" height="3.3" fill="#00c5ff"/>
<rect x="423.14" y="232.76" width="3.3" height="3.3" fill="#00c3ff"/>
<rect x="426.14" y="232.76" width="3.3" height="3.3" fill="#01c1ff"/>
<rect x="429.14" y="232.76" width="3.3" height="3.3" fill="#02bfff"/>
<rect x="432.14" y="232.76" width="3.3" height="3.3" fill="#05beff"/>
<rect x="435.14" y="232.76" width="3.3" height="3.3" fill="#0abdff"/>
<rect x="438.14" y="232.76" width="3.3" height="3.3" fill="#15bdff"/>
<rect x="441.14" y="232.76" width="3.3" height="3.3" fill="#42bfff"/>
<rect x="444.14" y="232.76" width="3.3" height="3.3" fill="#76c4ff"/>
<rect x="447.14" y="232.76" width="3.3" height="3.3" fill="#a8ccff"/>
<rect x="450.14" y="232.76" width="3.3" height="3.3" fill="#d1d5ff"/>
<rect x="453.14" y="232.76" width="3.3" height="3.3" fill="#efdfff"/>
<rect x="456.14" y="232.76" width="3.3" height="3.3" fill="#ffe4fd"/>
<rect x="459.14" y="232.76" width="3.3" height="3.3" fill="#ffe0f2"/>
<rect x="462.14" y="232.76" width="3.3" height="3.3" fill="#ffd4e7"/>
<rect x="465.14" y="232.76" width="3.3" height="3.3" fill="#ffbed5"/>
<rect x="468.14" y="232.76" width="3.3" height="3.3" fill="#ff9fbc"/>
<rect x="471.14" y="232.76" width="3.3" height="3.3" fill="#ff7d9e"/>
<rect x="474.14" y="232.76" width="3.3" height="3.3" fill="#ff5c81"/>
<rect x="477.14" y="232.76" width="3.3" height="3.3" fill="#ff4167"/>
<rect x="480.14" y="232.76" width="3.3" height="3.3" fill="#ff2c52"/>
<rect x="483.14" y="232.76" width="3.3" height="3.3" fill="#ff1d42"/>
<rect x="486.14" y="232.76" width="3.3" height="3.3" fill="#ff1236"/>
<rect x="489.14" y="232.76" width="3.3" height="3.3" fill="#ff0b2d"/>
<rect x="492.14" y="232.76" width="3.3" height="3.3" fill="#ff0526"/>
<rect x="495.14" y="232.76" width="3.3" height="3.3" fill="#ff0020"/>
<rect x="498.14" y="232.76" width="3.3" height="3.3" fill="#ff001b"/>
<rect x="501.14" y="232.76" width="3.3" height="3.3" fill="#ff0016"/>
<rect x="504.14" y="232.76" width="3.3" height="3.3" fill="#ff0012"/>
<rect x="507.14" y="232.76" width="3.3" height="3.3" fill="#ff000e"/>
<rect x="510.14" y="232.76" width="3.3" height="3.3" fill="#ff000a"/>
<rect x="513.14" y="232.76" width="3.3" height="3.3" fill="#ff0006"/>
<rect x="516.14" y="232.76" width="3.3" height="3.3" fill="#ff0003"/>
<rect x="519.14" y="232.76" width="9.3" height="3.3" fill="#ff0000"/>
<rect x="408.14" y="235.76" width="3.3" height="3.3" fill="#00b9ff"/>
<rect x="411.14" y="235.76" width="3.3" height="3.3" fill="#00b7ff"/>
<rect x="414.14" y="235.76" width="3.3" height="3.3" fill="#00b5ff"/>
<rect x="417.14" y="235.76" width="3.3" height="3.3" fill="#00b3ff"/>
<rect x="420.14" y="235.76" width="3.3" height="3.3" fill="#00b1ff"/>
<rect x="423.14" y="235.76" width="3.3" height="3.3" fill="#00aeff"/>
<rect x="426.14" y="235.76" width="3.3" height="3.3" fill="#01acff"/>
<rect x="429.14" y="235.76" width="3.3" height="3.3" fill="#02a9ff"/>
<rect x="432.14" y="235.76" width="3.3" height="3.3" fill="#04a7ff"/>
<rect x="435.14" y="235.76" width="3.3" height="3.3" fill="#09a6ff"/>
<rect x="438.14" y="235.76" width="3.3" height="3.3" fill="#16a6ff"/>
<rect x="441.14" y="235.76" width="3.3" height="3.3" fill="#46a9ff"/>
<rect x="444.14" y="235.76" width="3.3" height="3.3" fill="#77aeff"/>
<rect x="447.14" y="235.76" width="3.3" height="3.3" fill="#a6b7ff"/>
<rect x="450.14" y="235.76" width="3.3" height="3.3" fill="#cec2ff"/>
<rect x="453.14" y="235.76" width="3.3" height="3.3" fill="#eccdff"/>
<rect x="456.14" y="235.76" width="3.3" height="3.3" fill="#ffd3fd"/>
<rect x="459.14" y="235.76" width="3.3" height="3.3" fill="#ffceef"/>
<rect x="462.14" y="235.76" width="3.3" height="3.3" fill="#ffc2e2"/>
<rect x="465.14" y="235.76" width="3.3" height="3.3" fill="#ffabd0"/>
<rect x="468.14" y="235.76" width="3.3" height="3.3" fill="#ff8db7"/>
<rect x="471.14" y="235.76" width="3.3" height="3.3" fill="#ff6d9c"/>
<rect x="474.14" y="235.76" width="3.3" height="3.3" fill="#ff4e81"/>
<rect x="477.14" y="235.76" width="3.3" height="3.3" fill="#ff3469"/>
<rect x="480.14" y="235.76" width="3.3" height="3.3" fill="#ff2155"/>
<rect x="483.14" y="235.76" width="3.3" height="3.3" fill="#ff1346"/>
<rect x="486.14" y="235.76" width="3.3" height="3.3" fill="#ff093b"/>
<rect x="489.14" y="235.76" width="3.3" height="3.3" fill="#ff0232"/>
<rect x="492.14" y="235.76" width="3.3" height="3.3" fill="#ff012b"/>
<rect x="495.14" y="235.76" width="3.3" height="3.3" fill="#ff0024"/>
<rect x="498.14" y="235.76" width="3.3" height="3.3" fill="#ff001f"/>
<rect x="501.14" y="235.76" width="3.3" height="3.3" fill="#ff001a"/>
<rect x="504.14" y="235.76" width="3.3" height="3.3" fill="#ff0016"/>
<rect x="507.14" y="235.76" width="3.3" height="3.3" fill="#ff0012"/>
<rect x="510.14" y="235.76" width="3.3" height="3.3" fill="#ff000e"/>
<rect x="513.14" y="235.76" width="3.3" height="3.3" fill="#ff000a"/>
<rect x="516.14" y="235.76" width="3.3" height="3.3" fill="#ff0007"/>
<rect x="519.14" y="235.76" width="3.3" height="3.3" fill="#ff0004"/>
<rect x="522.14" y="235.76" width="3.3" height="3.3" fill="#ff0001"/>
<rect x="525.14" y="235.76" width="3.3" height="3.3" fill="#ff0000"/>
<rect x="411.14" y="238.76" width="3.3" height="3.3" fill="#00a6ff"/>
<rect x="414.14" y="238.76" width="3.3" height="3.3" fill="#00a3ff"/>
<rect x="417.14" y="238.76" width="3.3" height="3.3" fill="#00a1ff"/>
<rect x="420.14" y="238.76" width="3.3" height="3.3" fill="#009eff"/>
<rect x="423.14" y="238.76" width="3.3" height="3.3" fill="#009bff"/>
<rect x="426.14" y="238.76" width="3.3" height="3.3" fill="#0198ff"/>
<rect x="429.14" y="238.76" width="3.3" height="3.3" fill="#0195ff"/>
<rect x="432.14" y="238.76" width="3.3" height="3.3" fill="#0392ff"/>
<rect x="435.14" y="238.76" width="3.3" height="3.3" fill="#0891ff"/>
<rect x="438.14" y="238.76" width="3.3" height="3.3" fill="#1c90ff"/>
<rect x="441.14" y="238.76" width="3.3" height="3.3" fill="#4892ff"/>
<rect x="444.14" y="238.76" width="3.3" height="3.3" fill="#7597ff"/>
<rect x="447.14" y="238.76" width="3.3" height="3.3" fill="#a19fff"/>
<rect x="450.14" y="238.76" width="3.3" height="3.3" fill="#c8a9ff"/>
<rect x="453.14" y="238.76" width="3.3" height="3.3" fill="#e8b3ff"/>
<rect x="456.14" y="238.76" width="3.3" height="3.3" fill="#ffb9fd"/>
<rect x="459.14" y="238.76" width="3.3" height="3.3" fill="#ffb2eb"/>
<rect x="462.14" y="238.76" width="3.3" height="3.3" fill="#ffa4db"/>
<rect x="465.14" y="238.76" width="3.3" height="3.3" fill="#ff8fc7"/>
<rect x="468.14" y="238.76" width="3.3" height="3.3" fill="#ff74b0"/>
<rect x="471.14" y="238.76" width="3.3" height="3.3" fill="#ff5797"/>
<rect x="474.14" y="238.76" width="3.3" height="3.3" fill="#ff3c7f"/>
<rect x="477.14" y="238.76" width="3.3" height="3.3" fill="#ff2569"/>
<rect x="480.14" y="238.76" width="3.3" height="3.3" fill="#ff1457"/>
<rect x="483.14" y="238.76" width="3.3" height="3.3" fill="#ff084a"/>
<rect x="486.14" y="238.76" width="3.3" height="3.3" fill="#ff033f"/>
<rect x="489.14" y="238.76" width="3.3" height="3.3" fill="#ff0136"/>
<rect x="492.14" y="238.76" width="3.3" height="3.3" fill="#ff002f"/>
<rect x="495.14" y="238.76" width="3.3" height="3.3" fill="#ff0028"/>
<rect x="498.14" y="238.76" width="3.3" height="3.3" fill="#ff0023"/>
<rect x="501.14" y="238.76" width="3.3" height="3.3" fill="#ff001e"/>
<rect x="504.14" y="238.76" width="3.3" height="3.3" fill="#ff0019"/>
<rect x="507.14" y="238.76" width="3.3" height="3.3" fill="#ff0015"/>
<rect x="510.14" y="238.76" width="3.3" height="3.3" fill="#ff0011"/>
<rect x="513.14" y="238.76" width="3.3" height="3.3" fill="#ff000e"/>
<rect x="516.14" y="238.76" width="3.3" height="3.3" fill="#ff000a"/>
<rect x="519.14" y="238.76" width="3.3" height="3.3" fill="#ff0007"/>
<rect x="522.14" y="238.76" width="3.3" height="3.3" fill="#ff0004"/>
<rect x="525.14" y="238.76" width="3.3" height="3.3" fill="#ff0001"/>
<rect x="411.14" y="241.76" width="3.3" height="3.3" fill="#0095ff"/>
<rect x="414.14" y="241.76" width="3.3" height="3.3" fill="#0092ff"/>
<rect x="417.14" y="241.76" width="3.3" height="3.3" fill="#008fff"/>
<rect x="420.14" y="241.76" width="3.3" height="3.3" fill="#008cff"/>
<rect x="423.14" y="241.76" width="3.3" height="3.3" fill="#0089ff"/>
<rect x="426.14" y="241.76" width="3.3" height="3.3" fill="#0086ff"/>
<rect x="429.14" y="241.76" width="3.3" height="3.3" fill="#0182ff"/>
<rect x="432.14" y="241.76" width="3.3" height="3.3" fill="#037fff"/>
<rect x="435.14" y="241.76" width="3.3" height="3.3" fill="#067cff"/>
<rect x="438.14" y="241.76" width="3.3" height="3.3" fill="#217bff"/>
<rect x="441.14" y="241.76" width="3.3" height="3.3" fill="#497bff"/>
<rect x="444.14" y="241.76" width="3.3" height="3.3" fill="#727eff"/>
<rect x="447.14" y="241.76" width="3.3" height="3.3" fill="#9b84ff"/>
<rect x="450.14" y="241.76" width="3.3" height="3.3" fill="#c18bff"/>
<rect x="453.14" y="241.76" width="3.3" height="3.3" fill="#e292ff"/>
<rect x="456.14" y="241.76" width="3.3" height="3.3" fill="#ff96fe"/>
<rect x="459.14" y="241.76" width="3.3" height="3.3" fill="#ff8de7"/>
<rect x="462.14" y="241.76" width="3.3" height="3.3" fill="#ff80d3"/>
<rect x="465.14" y="241.76" width="3.3" height="3.3" fill="#ff6dbe"/>
<rect x="468.14" y="241.76" width="3.3" height="3.3" fill="#ff56a8"/>
<rect x="471.14" y="241.76" width="3.3" height="3.3" fill="#ff3e92"/>
<rect x="474.14" y="241.76" width="3.3" height="3.3" fill="#ff287c"/>
<rect x="477.14" y="241.76" width="3.3" height="3.3" fill="#ff1569"/>
<rect x="480.14" y="241.76" width="3.3" height="3.3" fill="#ff0a59"/>
<rect x="483.14" y="241.76" width="3.3" height="3.3" fill="#ff054d"/>
<rect x="486.14" y="241.76" width="3.3" height="3.3" fill="#ff0242"/>
<rect x="489.14" y="241.76" width="3.3" height="3.3" fill="#ff013a"/>
<rect x="492.14" y="241.76" width="3.3" height="3.3" fill="#ff0033"/>
<rect x="495.14" y="241.76" width="3.3" height="3.3" fill="#ff002c"/>
<rect x="498.14" y="241.76" width="3.3" height="3.3" fill="#ff0027"/>
<rect x="501.14" y="241.76" width="3.3" height="3.3" fill="#ff0022"/>
<rect x="504.14" y="241.76" width="3.3" height="3.3" fill="#ff001d"/>
<rect x="507.14" y="241.76" width="3.3" height="3.3" fill="#ff0019"/>
<rect x="510.14" y="241.76" width="3.3" height="3.3" fill="#ff0015"/>
<rect x="513.14" y="241.76" width="3.3" height="3.3" fill="#ff0011"/>
<rect x="516.14" y="241.76" width="3.3" height="3.3" fill="#ff000e"/>
<rect x="519.14" y="241.76" width="3.3" height="3.3" fill="#ff000b"/>
<rect x="522.14" y="241.76" width="3.3" height="3.3" fill="#ff0008"/>
<rect x="411.14" y="244.76" width="3.3" height="3.3" fill="#0086ff"/>
<rect x="414.14" y="244.76" width="3.3" height="3.3" fill="#0082ff"/>
<rect x="417.14" y="244.76" width="3.3" height="3.3" fill="#007fff"/>
<rect x="420.14" y="244.76" width="3.3" height="3.3" fill="#007cff"/>
<rect x="423.14" y="244.76" width="3.3" height="3.3" fill="#0078ff"/>
<rect x="426.14" y="244.76" width="3.3" height="3.3" fill="#0074ff"/>
<rect x="429.14" y="244.76" width="3.3" height="3.3" fill="#0170ff"/>
<rect x="432.14" y="244.76" width="3.3" height="3.3" fill="#026dff"/>
<rect x="435.14" y="244.76" width="3.3" height="3.3" fill="#0469ff"/>
<rect x="438.14" y="244.76" width="3.3" height="3.3" fill="#2567ff"/>
<rect x="441.14" y="244.76" width="3.3" height="3.3" fill="#4a65ff"/>
<rect x="444.14" y="244.76" width="3.3" height="3.3" fill="#7066ff"/>
<rect x="447.14" y="244.76" width="3.3" height="3.3" fill="#9668ff"/>
<rect x="450.14" y="244.76" width="3.3" height="3.3" fill="#bb6cff"/>
<rect x="453.14" y="244.76" width="3.3" height="3.3" fill="#dd6fff"/>
<rect x="456.14" y="244.76" width="3.3" height="3.3" fill="#fe70ff"/>
<rect x="459.14" y="244.76" width="3.3" height="3.3" fill="#ff66e3"/>
<rect x="462.14" y="244.76" width="3.3" height="3.3" fill="#ff5acc"/>
<rect x="465.14" y="244.76" width="3.3" height="3.3" fill="#ff4ab7"/>
<rect x="468.14" y="244.76" width="3.3" height="3.3" fill="#ff37a2"/>
<rect x="471.14" y="244.76" width="3.3" height="3.3" fill="#ff248d"/>
<rect x="474.14" y="244.76" width="3.3" height="3.3" fill="#ff157a"/>
<rect x="477.14" y="244.76" width="3.3" height="3.3" fill="#ff0d69"/>
<rect x="480.14" y="244.76" width="3.3" height="3.3" fill="#ff075b"/>
<rect x="483.14" y="244.76" width="3.3" height="3.3" fill="#ff0350"/>
<rect x="486.14" y="244.76" width="3.3" height="3.3" fill="#ff0246"/>
<rect x="489.14" y="244.76" width="3.3" height="3.3" fill="#ff013e"/>
<rect x="492.14" y="244.76" width="3.3" height="3.3" fill="#ff0037"/>
<rect x="495.14" y="244.76" width="3.3" height="3.3" fill="#ff0030"/>
<rect x="498.14" y="244.76" width="3.3" height="3.3" fill="#ff002b"/>
<rect x="501.14" y="244.76" width="3.3" height="3.3" fill="#ff0026"/>
<rect x="504.14" y="244.76" width="3.3" height="3.3" fill="#ff0021"/>
<rect x="507.14" y="244.76" width="3.3" height="3.3" fill="#ff001d"/>
<rect x="510.14" y="244.76" width="3.3" height="3.3" fill="#ff0019"/>
<rect x="513.14" y="244.76" width="3.3" height="3.3" fill="#ff0015"/>
<rect x="516.14" y="244.76" width="3.3" height="3.3" fill="#ff0011"/>
<rect x="411.14" y="247.76" width="3.3" height="3.3" fill="#0077ff"/>
<rect x="414.14" y="247.76" width="3.3" height="3.3" fill="#0073ff"/>
<rect x="417.14" y="247.76" width="3.3" height="3.3" fill="#0070ff"/>
<rect x="420.14" y="247.76" width="3.3" height="3.3" fill="#006cff"/>
<rect x="423.14" y="247.76" width="3.3" height="3.3" fill="#0068ff"/>
<rect x="426.14" y="247.76" width="3.3" height="3.3" fill="#0064ff"/>
<rect x="429.14" y="247.76" width="3.3" height="3.3" fill="#0060ff"/>
<rect x="432.14" y="247.76" width="3.3" height="3.3" fill="#015bff"/>
<rect x="435.14" y="247.76" width="3.3" height="3.3" fill="#0957ff"/>
<rect x="438.14" y="247.76" width="3.3" height="3.3" fill="#2a53ff"/>
<rect x="441.14" y="247.76" width="3.3" height="3.3" fill="#4c51ff"/>
<rect x="444.14" y="247.76" width="3.3" height="3.3" fill="#6f4fff"/>
<rect x="447.14" y="247.76" width="3.3" height="3.3" fill="#924eff"/>
<rect x="450.14" y="247.76" width="3.3" height="3.3" fill="#b64eff"/>
<rect x="453.14" y="247.76" width="3.3" height="3.3" fill="#d94dff"/>
<rect x="456.14" y="247.76" width="3.3" height="3.3" fill="#fd4bff"/>
<rect x="459.14" y="247.76" width="3.3" height="3.3" fill="#ff41e2"/>
<rect x="462.14" y="247.76" width="3.3" height="3.3" fill="#ff36c9"/>
<rect x="465.14" y="247.76" width="3.3" height="3.3" fill="#ff29b2"/>
<rect x="468.14" y="247.76" width="3.3" height="3.3" fill="#ff1c9e"/>
<rect x="471.14" y="247.76" width="3.3" height="3.3" fill="#ff148b"/>
<rect x="474.14" y="247.76" width="3.3" height="3.3" fill="#ff0d7a"/>
<rect x="477.14" y="247.76" width="3.3" height="3.3" fill="#ff086b"/>
<rect x="480.14" y="247.76" width="3.3" height="3.3" fill="#ff045e"/>
<rect x="483.14" y="247.76" width="3.3" height="3.3" fill="#ff0253"/>
<rect x="486.14" y="247.76" width="3.3" height="3.3" fill="#ff0149"/>
<rect x="489.14" y="247.76" width="3.3" height="3.3" fill="#ff0041"/>
<rect x="492.14" y="247.76" width="3.3" height="3.3" fill="#ff003a"/>
<rect x="495.14" y="247.76" width="3.3" height="3.3" fill="#ff0034"/>
<rect x="498.14" y="247.76" width="3.3" height="3.3" fill="#ff002e"/>
<rect x="501.14" y="247.76" width="3.3" height="3.3" fill="#ff0029"/>
<rect x="504.14" y="247.76" width="3.3" height="3.3" fill="#ff0024"/>
<rect x="507.14" y="247.76" width="3.3" height="3.3" fill="#ff0020"/>
<rect x="510.14" y="247.76" width="3.3" height="3.3" fill="#ff001c"/>
<rect x="414.14" y="250.76" width="3.3" height="3.3" fill="#0065ff"/>
<rect x="417.14" y="250.76" width="3.3" height="3.3" fill="#0061ff"/>
<rect x="420.14" y="250.76" width="3.3" height="3.3" fill="#005dff"/>
<rect x="423.14" y="250.76" width="3.3" height="3.3" fill="#0059ff"/>
<rect x="426.14" y="250.76" width="3.3" height="3.3" fill="#0055ff"/>
<rect x="429.14" y="250.76" width="3.3" height="3.3" fill="#0050ff"/>
<rect x="432.14" y="250.76" width="3.3" height="3.3" fill="#014bff"/>
<rect x="435.14" y="250.76" width="3.3" height="3.3" fill="#1046ff"/>
<rect x="438.14" y="250.76" width="3.3" height="3.3" fill="#2f42ff"/>
<rect x="441.14" y="250.76" width="3.3" height="3.3" fill="#4e3dff"/>
<rect x="444.14" y="250.76" width="3.3" height="3.3" fill="#6f39ff"/>
<rect x="447.14" y="250.76" width="3.3" height="3.3" fill="#9136ff"/>
<rect x="450.14" y="250.76" width="3.3" height="3.3" fill="#b433ff"/>
<rect x="453.14" y="250.76" width="3.3" height="3.3" fill="#d72fff"/>
<rect x="456.14" y="250.76" width="3.3" height="3.3" fill="#fb2aff"/>
<rect x="459.14" y="250.76" width="3.3" height="3.3" fill="#ff21e2"/>
<rect x="462.14" y="250.76" width="3.3" height="3.3" fill="#ff17c7"/>
<rect x="465.14" y="250.76" width="3.3" height="3.3" fill="#ff14b0"/>
<rect x="468.14" y="250.76" width="3.3" height="3.3" fill="#ff109c"/>
<rect x="471.14" y="250.76" width="3.3" height="3.3" fill="#ff0b8a"/>
<rect x="474.14" y="250.76" width="3.3" height="3.3" fill="#ff077a"/>
<rect x="477.14" y="250.76" width="3.3" height="3.3" fill="#ff046c"/>
<rect x="480.14" y="250.76" width="3.3" height="3.3" fill="#ff0260"/>
<rect x="483.14" y="250.76" width="3.3" height="3.3" fill="#ff0156"/>
<rect x="486.14" y="250.76" width="3.3" height="3.3" fill="#ff014d"/>
<rect x="489.14" y="250.76" width="3.3" height="3.3" fill="#ff0045"/>
<rect x="492.14" y="250.76" width="3.3" height="3.3" fill="#ff003e"/>
<rect x="495.14" y="250.76" width="3.3" height="3.3" fill="#ff0038"/>
<rect x="498.14" y="250.76" width="3.3" height="3.3" fill="#ff0032"/>
<rect x="501.14" y="250.76" width="3.3" height="3.3" fill="#ff002d"/>
<rect x="504.14" y="250.76" width="3.3" height="3.3" fill="#ff0028"/>
<rect x="414.14" y="253.76" width="3.3" height="3.3" fill="#0058ff"/>
<rect x="417.14" y="253.76" width="3.3" height="3.3" fill="#0054ff"/>
<rect x="420.14" y="253.76" width="3.3" height="3.3" fill="#004fff"/>
<rect x="423.14" y="253.76" width="3.3" height="3.3" fill="#004bff"/>
<rect x="426.14" y="253.76" width="3.3" height="3.3" fill="#0046ff"/>
<rect x="429.14" y="253.76" width="3.3" height="3.3" fill="#0041ff"/>
<rect x="432.14" y="253.76" width="3.3" height="3.3" fill="#003cff"/>
<rect x="435.14" y="253.76" width="3.3" height="3.3" fill="#1737ff"/>
<rect x="438.14" y="253.76" width="3.3" height="3.3" fill="#3431ff"/>
<rect x="441.14" y="253.76" width="3.3" height="3.3" fill="#522cff"/>
<rect x="444.14" y="253.76" width="3.3" height="3.3" fill="#7126ff"/>
<rect x="447.14" y="253.76" width="3.3" height="3.3" fill="#9121ff"/>
<rect x="450.14" y="253.76" width="3.3" height="3.3" fill="#b21bff"/>
<rect x="453.14" y="253.76" width="3.3" height="3.3" fill="#d515ff"/>
<rect x="456.14" y="253.76" width="3.3" height="3.3" fill="#f90eff"/>
<rect x="459.14" y="253.76" width="3.3" height="3.3" fill="#ff0de3"/>
<rect x="462.14" y="253.76" width="3.3" height="3.3" fill="#ff0cc7"/>
<rect x="465.14" y="253.76" width="3.3" height="3.3" fill="#ff0ab0"/>
<rect x="468.14" y="253.76" width="3.3" height="3.3" fill="#ff089d"/>
<rect x="471.14" y="253.76" width="3.3" height="3.3" fill="#ff068b"/>
<rect x="474.14" y="253.76" width="3.3" height="3.3" fill="#ff047c"/>
<rect x="477.14" y="253.76" width="3.3" height="3.3" fill="#ff026f"/>
<rect x="480.14" y="253.76" width="3.3" height="3.3" fill="#ff0164"/>
<rect x="483.14" y="253.76" width="3.3" height="3.3" fill="#ff0159"/>
<rect x="486.14" y="253.76" width="3.3" height="3.3" fill="#ff0051"/>
<rect x="489.14" y="253.76" width="3.3" height="3.3" fill="#ff0049"/>
<rect x="492.14" y="253.76" width="3.3" height="3.3" fill="#ff0042"/>
<rect x="495.14" y="253.76" width="3.3" height="3.3" fill="#ff003b"/>
<rect x="414.14" y="256.76" width="3.3" height="3.3" fill="#004bff"/>
<rect x="417.14" y="256.76" width="3.3" height="3.3" fill="#0047ff"/>
<rect x="420.14" y="256.76" width="3.3" height="3.3" fill="#0042ff"/>
<rect x="423.14" y="256.76" width="3.3" height="3.3" fill="#003dff"/>
<rect x="426.14" y="256.76" width="3.3" height="3.3" fill="#0038ff"/>
<rect x="429.14" y="256.76" width="3.3" height="3.3" fill="#0033ff"/>
<rect x="432.14" y="256.76" width="3.3" height="3.3" fill="#012eff"/>
<rect x="435.14" y="256.76" width="3.3" height="3.3" fill="#1d28ff"/>
<rect x="438.14" y="256.76" width="3.3" height="3.3" fill="#3922ff"/>
<rect x="441.14" y="256.76" width="3.3" height="3.3" fill="#551cff"/>
<rect x="444.14" y="256.76" width="3.3" height="3.3" fill="#7315ff"/>
<rect x="447.14" y="256.76" width="3.3" height="3.3" fill="#920eff"/>
<rect x="450.14" y="256.76" width="3.3" height="3.3" fill="#b207ff"/>
<rect x="453.14" y="256.76" width="3.3" height="3.3" fill="#d405ff"/>
<rect x="456.14" y="256.76" width="3.3" height="3.3" fill="#f706ff"/>
<rect x="459.14" y="256.76" width="3.3" height="3.3" fill="#ff06e5"/>
<rect x="462.14" y="256.76" width="3.3" height="3.3" fill="#ff06c9"/>
<rect x="465.14" y="256.76" width="3.3" height="3.3" fill="#ff05b2"/>
<rect x="468.14" y="256.76" width="3.3" height="3.3" fill="#ff049e"/>
<rect x="471.14" y="256.76" width="3.3" height="3.3" fill="#ff038e"/>
<rect x="474.14" y="256.76" width="3.3" height="3.3" fill="#ff027f"/>
<rect x="477.14" y="256.76" width="3.3" height="3.3" fill="#ff0172"/>
<rect x="480.14" y="256.76" width="3.3" height="3.3" fill="#ff0167"/>
<rect x="483.14" y="256.76" width="3.3" height="3.3" fill="#ff005d"/>
<rect x="486.14" y="256.76" width="3.3" height="3.3" fill="#ff0054"/>
<rect x="489.14" y="256.76" width="3.3" height="3.3" fill="#ff004c"/>
<rect x="417.14" y="259.76" width="3.3" height="3.3" fill="#003aff"/>
<rect x="420.14" y="259.76" width="3.3" height="3.3" fill="#0036ff"/>
<rect x="423.14" y="259.76" width="3.3" height="3.3" fill="#0031ff"/>
<rect x="426.14" y="259.76" width="3.3" height="3.3" fill="#002bff"/>
<rect x="429.14" y="259.76" width="3.3" height="3.3" fill="#0026ff"/>
<rect x="432.14" y="259.76" width="3.3" height="3.3" fill="#0920ff"/>
<rect x="435.14" y="259.76" width="3.3" height="3.3" fill="#231aff"/>
<rect x="438.14" y="259.76" width="3.3" height="3.3" fill="#3e13ff"/>
<rect x="441.14" y="259.76" width="3.3" height="3.3" fill="#590dff"/>
<rect x="444.14" y="259.76" width="3.3" height="3.3" fill="#7605ff"/>
<rect x="447.14" y="259.76" width="3.3" height="3.3" fill="#9401ff"/>
<rect x="450.14" y="259.76" width="3.3" height="3.3" fill="#b302ff"/>
<rect x="453.14" y="259.76" width="3.3" height="3.3" fill="#d402ff"/>
<rect x="456.14" y="259.76" width="3.3" height="3.3" fill="#f602ff"/>
<rect x="459.14" y="259.76" width="3.3" height="3.3" fill="#ff02e7"/>
<rect x="462.14" y="259.76" width="3.3" height="3.3" fill="#ff02cb"/>
<rect x="465.14" y="259.76" width="3.3" height="3.3" fill="#ff02b4"/>
<rect x="468.14" y="259.76" width="3.3" height="3.3" fill="#ff02a1"/>
<rect x="471.14" y="259.76" width="3.3" height="3.3" fill="#ff0190"/>
<rect x="474.14" y="259.76" width="3.3" height="3.3" fill="#ff0182"/>
<rect x="477.14" y="259.76" width="3.3" height="3.3" fill="#ff0075"/>
<rect x="480.14" y="259.76" width="3.3" height="3.3" fill="#ff006a"/>
<rect x="483.14" y="259.76" width="3.3" height="3.3" fill="#ff0060"/>
<rect x="417.14" y="262.76" width="3.3" height="3.3" fill="#002eff"/>
<rect x="420.14" y="262.76" width="3.3" height="3.3" fill="#0029ff"/>
<rect x="423.14" y="262.76" width="3.3" height="3.3" fill="#0024ff"/>
<rect x="426.14" y="262.76" width="3.3" height="3.3" fill="#001fff"/>
<rect x="429.14" y="262.76" width="3.3" height="3.3" fill="#0019ff"/>
<rect x="432.14" y="262.76" width="3.3" height="3.3" fill="#1013ff"/>
<rect x="435.14" y="262.76" width="3.3" height="3.3" fill="#290dff"/>
<rect x="438.14" y="262.76" width="3.3" height="3.3" fill="#4306ff"/>
<rect x="441.14" y="262.76" width="3.3" height="3.3" fill="#5d00ff"/>
<rect x="444.14" y="262.76" width="3.3" height="3.3" fill="#7900ff"/>
<rect x="447.14" y="262.76" width="3.3" height="3.3" fill="#9600ff"/>
<rect x="450.14" y="262.76" width="3.3" height="3.3" fill="#b401ff"/>
<rect x="453.14" y="262.76" width="3.3" height="3.3" fill="#d301ff"/>
<rect x="456.14" y="262.76" width="3.3" height="3.3" fill="#f501ff"/>
<rect x="459.14" y="262.76" width="3.3" height="3.3" fill="#ff01e9"/>
<rect x="462.14" y="262.76" width="3.3" height="3.3" fill="#ff01ce"/>
<rect x="465.14" y="262.76" width="3.3" height="3.3" fill="#ff01b7"/>
<rect x="468.14" y="262.76" width="3.3" height="3.3" fill="#ff01a4"/>
<rect x="471.14" y="262.76" width="3.3" height="3.3" fill="#ff0093"/>
<rect x="474.14" y="262.76" width="3.3" height="3.3" fill="#ff0085"/>
<rect x="477.14" y="262.76" width="3.3" height="3.3" fill="#ff0079"/>
<rect x="417.14" y="265.76" width="3.3" height="3.3" fill="#0023ff"/>
<rect x="420.14" y="265.76" width="3.3" height="3.3" fill="#001eff"/>
<rect x="423.14" y="265.76" width="3.3" height="3.3" fill="#0019ff"/>
<rect x="426.14" y="265.76" width="3.3" height="3.3" fill="#0013ff"/>
<rect x="429.14" y="265.76" width="3.3" height="3.3" fill="#000dff"/>
<rect x="432.14" y="265.76" width="3.3" height="3.3" fill="#1606ff"/>
<rect x="435.14" y="265.76" width="3.3" height="3.3" fill="#2e00ff"/>
<rect x="438.14" y="265.76" width="3.3" height="3.3" fill="#4700ff"/>
<rect x="441.14" y="265.76" width="3.3" height="3.3" fill="#6100ff"/>
<rect x="444.14" y="265.76" width="3.3" height="3.3" fill="#7c00ff"/>
<rect x="447.14" y="265.76" width="3.3" height="3.3" fill="#9800ff"/>
<rect x="450.14" y="265.76" width="3.3" height="3.3" fill="#b500ff"/>
<rect x="453.14" y="265.76" width="3.3" height="3.3" fill="#d300ff"/>
<rect x="456.14" y="265.76" width="3.3" height="3.3" fill="#f300ff"/>
<rect x="459.14" y="265.76" width="3.3" height="3.3" fill="#ff00eb"/>
<rect x="462.14" y="265.76" width="3.3" height="3.3" fill="#ff00d0"/>
<rect x="465.14" y="265.76" width="3.3" height="3.3" fill="#ff00ba"/>
<rect x="468.14" y="265.76" width="3.3" height="3.3" fill="#ff00a7"/>
<rect x="471.14" y="265.76" width="3.3" height="3.3" fill="#ff0097"/>
<rect x="420.14" y="268.76" width="3.3" height="3.3" fill="#0013ff"/>
<rect x="423.14" y="268.76" width="3.3" height="3.3" fill="#000dff"/>
<rect x="426.14" y="268.76" width="3.3" height="3.3" fill="#0007ff"/>
<rect x="429.14" y="268.76" width="3.3" height="3.3" fill="#0401ff"/>
<rect x="432.14" y="268.76" width="3.3" height="3.3" fill="#1c00ff"/>
<rect x="435.14" y="268.76" width="3.3" height="3.3" fill="#3300ff"/>
<rect x="438.14" y="268.76" width="3.3" height="3.3" fill="#4c00ff"/>
<rect x="441.14" y="268.76" width="3.3" height="3.3" fill="#6500ff"/>
<rect x="444.14" y="268.76" width="3.3" height="3.3" fill="#7f00ff"/>
<rect x="447.14" y="268.76" width="3.3" height="3.3" fill="#9a00ff"/>
<rect x="450.14" y="268.76" width="3.3" height="3.3" fill="#b600ff"/>
<rect x="453.14" y="268.76" width="3.3" height="3.3" fill="#d300ff"/>
<rect x="456.14" y="268.76" width="3.3" height="3.3" fill="#f200ff"/>
<rect x="459.14" y="268.76" width="3.3" height="3.3" fill="#ff00ed"/>
<rect x="462.14" y="268.76" width="3.3" height="3.3" fill="#ff00d3"/>
<rect x="465.14" y="268.76" width="3.3" height="3.3" fill="#ff00bd"/>
<rect x="420.14" y="271.76" width="3.3" height="3.3" fill="#0008ff"/>
<rect x="423.14" y="271.76" width="3.3" height="3.3" fill="#0002ff"/>
<rect x="426.14" y="271.76" width="3.3" height="3.3" fill="#0000ff"/>
<rect x="429.14" y="271.76" width="3.3" height="3.3" fill="#0a00ff"/>
<rect x="432.14" y="271.76" width="3.3" height="3.3" fill="#2100ff"/>
<rect x="435.14" y="271.76" width="3.3" height="3.3" fill="#3800ff"/>
<rect x="438.14" y="271.76" width="3.3" height="3.3" fill="#5000ff"/>
<rect x="441.14" y="271.76" width="3.3" height="3.3" fill="#6800ff"/>
<rect x="444.14" y="271.76" width="3.3" height="3.3" fill="#8100ff"/>
<rect x="447.14" y="271.76" width="3.3" height="3.3" fill="#9c00ff"/>
<rect x="450.14" y="271.76" width="3.3" height="3.3" fill="#b700ff"/>
<rect x="453.14" y="271.76" width="3.3" height="3.3" fill="#d300ff"/>
<rect x="456.14" y="271.76" width="3.3" height="3.3" fill="#f100ff"/>
<rect x="423.14" y="274.76" width="6.3" height="3.3" fill="#0000ff"/>
<rect x="429.14" y="274.76" width="3.3" height="3.3" fill="#1000ff"/>
<rect x="432.14" y="274.76" width="3.3" height="3.3" fill="#2600ff"/>
<rect x="435.14" y="274.76" width="3.3" height="3.3" fill="#3d00ff"/>
<rect x="438.14" y="274.76" width="3.3" height="3.3" fill="#5400ff"/>
<rect x="441.14" y="274.76" width="3.3" height="3.3" fill="#6b00ff"/>
<rect x="444.14" y="274.76" width="3.3" height="3.3" fill="#8400ff"/>
<rect x="447.14" y="274.76" width="3.3" height="3.3" fill="#9d00ff"/>
<rect x="450.14" y="274.76" width="3.3" height="3.3" fill="#b800ff"/>
<rect x="426.14" y="277.76" width="3.3" height="3.3" fill="#0000ff"/>
<rect x="429.14" y="277.76" width="3.3" height="3.3" fill="#1600ff"/>
<rect x="432.14" y="277.76" width="3.3" height="3.3" fill="#2b00ff"/>
<rect x="435.14" y="277.76" width="3.3" height="3.3" fill="#4100ff"/>
<rect x="438.14" y="277.76" width="3.3" height="3.3" fill="#5700ff"/>
<rect x="441.14" y="277.76" width="3.3" height="3.3" fill="#6e00ff"/>
<rect x="444.14" y="277.76" width="3.3" height="3.3" fill="#8600ff"/>
<rect x="429.14" y="280.76" width="3.3" height="3.3" fill="#1700ff"/>
<rect x="432.14" y="280.76" width="3.3" height="3.3" fill="#2c00ff"/>
<rect x="435.14" y="280.76" width="3.3" height="3.3" fill="#4200ff"/>
<rect x="438.14" y="280.76" width="3.3" height="3.3" fill="#5800ff"/>
</g></g>
<path d="M434.05 279.68 L433.92 279.71 L433.61 279.66 L432.46 278.71 L431.18 277.6 L429.12 275.63 L425.85 271.02 L423.47 266.26 L420.47 258.74 L416.77 247.59 L412.95 232.12 L409.35 212.82 L406.84 192.2 L406.14 173.11 L407.78 157.47 L411.88 147.33 L417.69 143.76 L424.23 145 L430.87 148.33 L437.14 152.32 L443.15 156.79 L449.09 161.71 L454.96 166.96 L460.82 172.44 L466.69 178.08 L472.53 183.81 L478.33 189.53 L484.02 195.19 L489.55 200.7 L494.85 205.98 L499.83 210.93 L504.38 215.47 L508.33 219.41 L511.8 222.87 L514.69 225.72 L518.91 229.94 L521.6 232.61 L523.42 234.43 L524.56 235.56 L525.22 236.22 L525.78 236.78 L525.99 236.99Z" fill="none" stroke="#111" stroke-width="0.7"/>
<text x="402.3" y="282.4" font-size="5.6" fill="#555" text-anchor="end" font-family='"Liberation Serif", serif' >0.0</text>
<line x1="403.9" y1="280.5" x2="405.5" y2="280.5" stroke="#999" stroke-width="0.5" />
<text x="402.3" y="266" font-size="5.6" fill="#555" text-anchor="end" font-family='"Liberation Serif", serif' >0.1</text>
<line x1="403.9" y1="264.1" x2="405.5" y2="264.1" stroke="#999" stroke-width="0.5" />
<text x="402.3" y="249.6" font-size="5.6" fill="#555" text-anchor="end" font-family='"Liberation Serif", serif' >0.2</text>
<line x1="403.9" y1="247.7" x2="405.5" y2="247.7" stroke="#999" stroke-width="0.5" />
<text x="402.3" y="233.2" font-size="5.6" fill="#555" text-anchor="end" font-family='"Liberation Serif", serif' >0.3</text>
<line x1="403.9" y1="231.3" x2="405.5" y2="231.3" stroke="#999" stroke-width="0.5" />
<text x="402.3" y="216.8" font-size="5.6" fill="#555" text-anchor="end" font-family='"Liberation Serif", serif' >0.4</text>
<line x1="403.9" y1="214.9" x2="405.5" y2="214.9" stroke="#999" stroke-width="0.5" />
<text x="402.3" y="200.4" font-size="5.6" fill="#555" text-anchor="end" font-family='"Liberation Serif", serif' >0.5</text>
<line x1="403.9" y1="198.5" x2="405.5" y2="198.5" stroke="#999" stroke-width="0.5" />
<text x="402.3" y="184" font-size="5.6" fill="#555" text-anchor="end" font-family='"Liberation Serif", serif' >0.6</text>
<line x1="403.9" y1="182.1" x2="405.5" y2="182.1" stroke="#999" stroke-width="0.5" />
<text x="402.3" y="167.6" font-size="5.6" fill="#555" text-anchor="end" font-family='"Liberation Serif", serif' >0.7</text>
<line x1="403.9" y1="165.7" x2="405.5" y2="165.7" stroke="#999" stroke-width="0.5" />
<text x="402.3" y="151.2" font-size="5.6" fill="#555" text-anchor="end" font-family='"Liberation Serif", serif' >0.8</text>
<line x1="403.9" y1="149.3" x2="405.5" y2="149.3" stroke="#999" stroke-width="0.5" />
<text x="402.3" y="134.8" font-size="5.6" fill="#555" text-anchor="end" font-family='"Liberation Serif", serif' >0.9</text>
<line x1="403.9" y1="132.9" x2="405.5" y2="132.9" stroke="#999" stroke-width="0.5" />
<text x="405.5" y="287.5" font-size="5.6" fill="#555" text-anchor="middle" font-family='"Liberation Serif", serif' >0.0</text>
<line x1="405.5" y1="280.5" x2="405.5" y2="282.1" stroke="#999" stroke-width="0.5" />
<text x="421.9" y="287.5" font-size="5.6" fill="#555" text-anchor="middle" font-family='"Liberation Serif", serif' >0.1</text>
<line x1="421.9" y1="280.5" x2="421.9" y2="282.1" stroke="#999" stroke-width="0.5" />
<text x="438.3" y="287.5" font-size="5.6" fill="#555" text-anchor="middle" font-family='"Liberation Serif", serif' >0.2</text>
<line x1="438.3" y1="280.5" x2="438.3" y2="282.1" stroke="#999" stroke-width="0.5" />
<text x="454.7" y="287.5" font-size="5.6" fill="#555" text-anchor="middle" font-family='"Liberation Serif", serif' >0.3</text>
<line x1="454.7" y1="280.5" x2="454.7" y2="282.1" stroke="#999" stroke-width="0.5" />
<text x="471.1" y="287.5" font-size="5.6" fill="#555" text-anchor="middle" font-family='"Liberation Serif", serif' >0.4</text>
<line x1="471.1" y1="280.5" x2="471.1" y2="282.1" stroke="#999" stroke-width="0.5" />
<text x="487.5" y="287.5" font-size="5.6" fill="#555" text-anchor="middle" font-family='"Liberation Serif", serif' >0.5</text>
<line x1="487.5" y1="280.5" x2="487.5" y2="282.1" stroke="#999" stroke-width="0.5" />
<text x="503.9" y="287.5" font-size="5.6" fill="#555" text-anchor="middle" font-family='"Liberation Serif", serif' >0.6</text>
<line x1="503.9" y1="280.5" x2="503.9" y2="282.1" stroke="#999" stroke-width="0.5" />
<text x="520.3" y="287.5" font-size="5.6" fill="#555" text-anchor="middle" font-family='"Liberation Serif", serif' >0.7</text>
<line x1="520.3" y1="280.5" x2="520.3" y2="282.1" stroke="#999" stroke-width="0.5" />
<text x="536.7" y="287.5" font-size="5.6" fill="#555" text-anchor="middle" font-family='"Liberation Serif", serif' >0.8</text>
<line x1="536.7" y1="280.5" x2="536.7" y2="282.1" stroke="#999" stroke-width="0.5" />
<text x="478.8" y="289.6" font-size="5.6" fill="#444" text-anchor="middle" font-family='"Liberation Serif", serif' >x</text>
<text x="395.8" y="207.6" font-size="5.6" fill="#444" text-anchor="middle" font-family='"Liberation Serif", serif' >y</text>
<text x="416.8" y="140.8" font-size="5.6" fill="#2b2be0" text-anchor="middle" font-family='"Liberation Serif", serif' >520</text>
<text x="448" y="154.6" font-size="5.6" fill="#2b2be0" text-anchor="middle" font-family='"Liberation Serif", serif' >540</text>
<text x="471.5" y="175.6" font-size="5.6" fill="#2b2be0" text-anchor="middle" font-family='"Liberation Serif", serif' >560</text>
<text x="494.7" y="198.5" font-size="5.6" fill="#2b2be0" text-anchor="middle" font-family='"Liberation Serif", serif' >580</text>
<text x="513.7" y="217.4" font-size="5.6" fill="#2b2be0" text-anchor="middle" font-family='"Liberation Serif", serif' >600</text>
<text x="524.6" y="227.8" font-size="5.6" fill="#2b2be0" text-anchor="middle" font-family='"Liberation Serif", serif' >620</text>
<text x="533.4" y="238.8" font-size="5.6" fill="#2b2be0" text-anchor="middle" font-family='"Liberation Serif", serif' >700</text>
<text x="399.3" y="194.8" font-size="5.6" fill="#2b2be0" text-anchor="middle" font-family='"Liberation Serif", serif' >500</text>
<text x="409" y="237.6" font-size="5.6" fill="#2b2be0" text-anchor="middle" font-family='"Liberation Serif", serif' >490</text>
<text x="413.5" y="262.1" font-size="5.6" fill="#2b2be0" text-anchor="middle" font-family='"Liberation Serif", serif' >480</text>
<text x="418.8" y="273.8" font-size="5.6" fill="#2b2be0" text-anchor="middle" font-family='"Liberation Serif", serif' >470</text>
<text x="422.4" y="280" font-size="5.6" fill="#2b2be0" text-anchor="middle" font-family='"Liberation Serif", serif' >460</text>
<text x="441.5" y="282.6" font-size="3.8" fill="#2b2be0" text-anchor="middle" font-family='"Liberation Serif", serif' >380</text>
<line x1="417.69" y1="143.76" x2="417.69" y2="141.56" stroke="#111" stroke-width="0.5" />
<line x1="443.15" y1="156.79" x2="444.47" y2="155.03" stroke="#111" stroke-width="0.5" />
<line x1="466.69" y1="178.08" x2="468.23" y2="176.54" stroke="#111" stroke-width="0.5" />
<line x1="489.55" y1="200.7" x2="491.09" y2="199.16" stroke="#111" stroke-width="0.5" />
<line x1="508.33" y1="219.41" x2="509.87" y2="217.87" stroke="#111" stroke-width="0.5" />
<line x1="518.91" y1="229.94" x2="520.45" y2="228.4" stroke="#111" stroke-width="0.5" />
<line x1="406.84" y1="192.2" x2="404.64" y2="192.2" stroke="#111" stroke-width="0.5" />
<line x1="412.95" y1="232.12" x2="410.75" y2="232.34" stroke="#111" stroke-width="0.5" />
<line x1="420.47" y1="258.74" x2="418.49" y2="259.4" stroke="#111" stroke-width="0.5" />
<line x1="425.85" y1="271.02" x2="424.09" y2="272.12" stroke="#111" stroke-width="0.5" />
<line x1="429.12" y1="275.63" x2="427.58" y2="277.17" stroke="#111" stroke-width="0.5" />
<path d="M443.6 242.7 C444.58 241.58 447.37 238.27 449.5 236 C451.63 233.73 454.35 231.17 456.4 229.1 C458.45 227.03 459.98 225.27 461.8 223.6 C463.62 221.93 465.35 220.53 467.3 219.1 C469.25 217.67 471.38 216.22 473.5 215 C475.62 213.78 477.83 212.67 480 211.8 C482.17 210.93 484.38 210.25 486.5 209.8 C488.62 209.35 490.85 209.03 492.7 209.1 C494.55 209.17 496.08 209.6 497.6 210.2 C499.12 210.8 500.47 211.67 501.8 212.7 C503.13 213.73 504.38 215.03 505.6 216.4 C506.82 217.77 508.52 220.15 509.1 220.9" fill="none" stroke="#111" stroke-width="0.65"/>
<line x1="441.9" y1="241.2" x2="445.3" y2="244.4" stroke="#111" stroke-width="0.7" />
<line x1="447.3" y1="224.5" x2="457.5" y2="239.5" stroke="#111" stroke-width="0.6" />
<line x1="457.6" y1="215.5" x2="459" y2="234" stroke="#111" stroke-width="0.6" />
<line x1="469" y1="210" x2="463.5" y2="229" stroke="#111" stroke-width="0.6" />
<line x1="474.5" y1="208.2" x2="468.2" y2="226.4" stroke="#111" stroke-width="0.6" />
<line x1="482.7" y1="205.5" x2="475.5" y2="220" stroke="#111" stroke-width="0.6" />
<line x1="490" y1="204.5" x2="482.7" y2="217.3" stroke="#111" stroke-width="0.6" />
<line x1="494.5" y1="208.2" x2="488.2" y2="217.3" stroke="#111" stroke-width="0.6" />
<text x="443.6" y="223.4" font-size="3.3" fill="#111" text-anchor="middle" font-weight="bold" >10,000</text>
<text x="455.5" y="214.4" font-size="3.3" fill="#111" text-anchor="middle" font-weight="bold" >6000</text>
<text x="468" y="209" font-size="3.3" fill="#111" text-anchor="middle" font-weight="bold" >4000</text>
<text x="477.6" y="206.6" font-size="3.3" fill="#111" text-anchor="middle" font-weight="bold" >3000</text>
<text x="486" y="203.8" font-size="3.3" fill="#111" text-anchor="middle" font-weight="bold" >2500</text>
<text x="487.3" y="222.4" font-size="3.3" fill="#111" text-anchor="middle" font-weight="bold" >2500</text>
<text x="497.6" y="222.4" font-size="3.3" fill="#111" text-anchor="middle" font-weight="bold" >1500</text>
<line x1="436.8" y1="239.5" x2="439.6" y2="239.5" stroke="#111" stroke-width="0.5" />
<text x="445.5" y="206.8" font-size="5.6" fill="#111" font-family='"Liberation Serif", serif' >T<tspan dy="1" font-size="3">c</tspan><tspan dy="-1">(&#176;K)</tspan></text>
<rect x="412.5" y="191.3" width="25.9" height="25.5" fill="#060202" />
<ellipse cx="425.4" cy="203.8" rx="5.6" ry="3.3" fill="none" stroke="#e23a08" stroke-width="2.8" stroke-opacity="0.75" transform="rotate(12 425.4 203.8)"/>
<ellipse cx="425.4" cy="203.8" rx="5.6" ry="3.3" fill="none" stroke="#ffa62a" stroke-width="1.3" transform="rotate(12 425.4 203.8)"/>
<path d="M421.5 209.6 Q426 211.8 430.5 209.4" fill="none" stroke="#7a1c06" stroke-width="1.2" stroke-opacity="0.8"/>
<rect x="426.2" y="246.2" width="25.8" height="25.1" fill="#060202" />
<path d="M431.6 255.0 Q431.4 252.4 439.2 252.2 Q447.0 252.4 446.8 255.0 Q447.6 262 443.6 266.4 Q439.2 268.6 434.8 266.4 Q430.8 262 431.6 255.0Z" fill="url(#jarg)"/>
<ellipse cx="439.2" cy="253.4" rx="6.4" ry="1.3" fill="#5a1c08" fill-opacity="0.9"/>
<rect x="470.6" y="224.3" width="25.4" height="25.7" fill="#060202" />
<text x="484" y="244.4" font-size="17" fill="#ff4a24" text-anchor="middle" stroke="#060202" stroke-width="0.3">N</text>
<circle cx="512.7" cy="225.5" r="8.8" fill="none" stroke="#111" stroke-width="0.7"/>
<circle cx="508.6" cy="220.4" r="1.05" fill="#fff" stroke="#333" stroke-width="0.25"/>
<circle cx="510.35" cy="222.55" r="1.05" fill="#fff" stroke="#333" stroke-width="0.25"/>
<circle cx="512.1" cy="224.7" r="1.05" fill="#fff" stroke="#333" stroke-width="0.25"/>
<circle cx="513.85" cy="226.85" r="1.05" fill="#fff" stroke="#333" stroke-width="0.25"/>
<circle cx="515.6" cy="229" r="1.05" fill="#fff" stroke="#333" stroke-width="0.25"/>
<line x1="512.4" y1="185.6" x2="512.4" y2="205.5" stroke="#000" stroke-width="1.5" />
<path d="M508.9 203.4 L515.9 203.4 L512.4 211.4Z" fill="#000"/>
<circle cx="512.4" cy="157.7" r="23.6" fill="#ffffff"/>
<g clip-path="url(#magclip)">
<line x1="497.5" y1="130" x2="497.5" y2="185" stroke="#d8d8d8" stroke-width="0.8" />
<line x1="521.5" y1="130" x2="521.5" y2="185" stroke="#d8d8d8" stroke-width="0.8" />
<line x1="485" y1="155.2" x2="540" y2="155.2" stroke="#d8d8d8" stroke-width="0.8" />
<path d="M494 137.5 L534.5 173.3 L534.5 190 L480 190 L480 125.5Z" fill="url(#magg)"/>
<path d="M480 125.1 L494 137.5 L494 197.5 L480 190Z" fill="url(#magg)"/>
<line x1="480" y1="125.1" x2="540.5" y2="178.6" stroke="#111" stroke-width="1" />
<text x="505.5" y="139.6" font-size="12" fill="#2b2be0" font-family='"Liberation Serif", serif' >600</text>
<text x="532" y="166" font-size="12" fill="#2b2be0" font-family='"Liberation Serif", serif' >6</text>
<line x1="503.5" y1="145.4" x2="506.7" y2="141.8" stroke="#111" stroke-width="0.8" />
<line x1="519" y1="159.4" x2="522.2" y2="155.8" stroke="#111" stroke-width="0.8" />
<line x1="523.5" y1="163.2" x2="526.7" y2="159.6" stroke="#111" stroke-width="0.8" />
</g>
<circle cx="505.6" cy="149.8" r="3.4" fill="#ffffff" stroke="#222" stroke-width="0.7"/>
<circle cx="508.44" cy="153.16" r="3.4" fill="#ffffff" stroke="#222" stroke-width="0.7"/>
<circle cx="511.28" cy="156.52" r="3.4" fill="#ffffff" stroke="#222" stroke-width="0.7"/>
<circle cx="514.12" cy="159.88" r="3.4" fill="#ffffff" stroke="#222" stroke-width="0.7"/>
<circle cx="516.96" cy="163.24" r="3.4" fill="#ffffff" stroke="#222" stroke-width="0.7"/>
<circle cx="519.8" cy="166.6" r="3.4" fill="#ffffff" stroke="#222" stroke-width="0.7"/>
<circle cx="512.4" cy="157.7" r="23.6" fill="none" stroke="#111" stroke-width="1.3"/>
<text x="376.1" y="148.6" font-size="16.5" fill="#000" font-weight="bold" >(e)</text>
</svg>
</body></html>
